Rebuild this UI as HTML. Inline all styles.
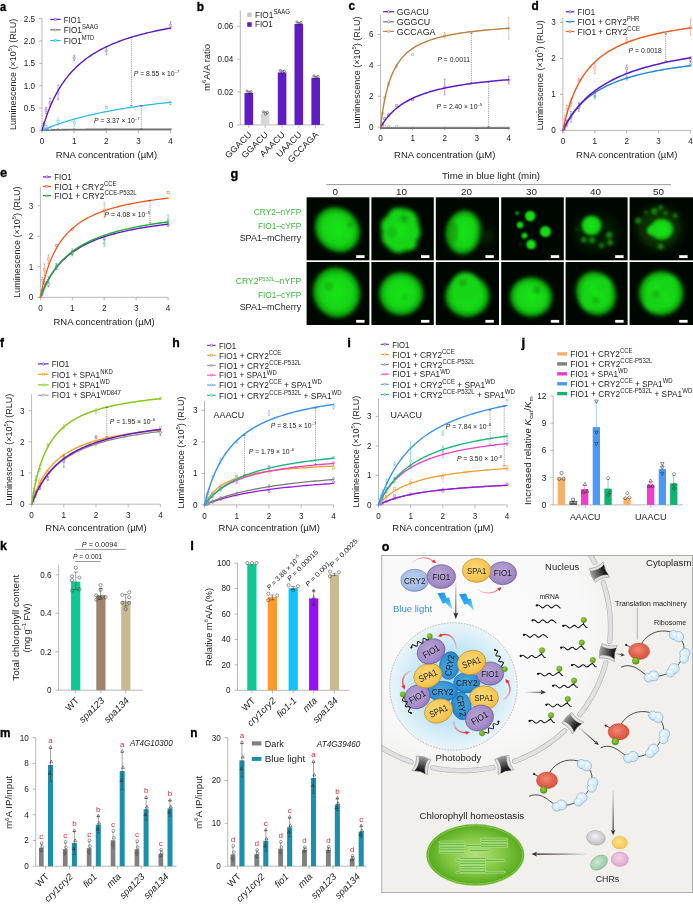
<!DOCTYPE html><html><head><meta charset="utf-8"><title>Figure</title><style>html,body{margin:0;padding:0;background:#fff}body{width:693px;height:905px;overflow:hidden}</style></head><body><svg width="693" height="905" viewBox="0 0 693 905" font-family='"Liberation Sans", sans-serif' style="display:block"><defs><filter id="bl1" x="-30%" y="-30%" width="160%" height="160%"><feGaussianBlur stdDeviation="2.0"/></filter><filter id="bl2" x="-50%" y="-50%" width="200%" height="200%"><feGaussianBlur stdDeviation="0.9"/></filter><filter id="bl3" x="-50%" y="-50%" width="200%" height="200%"><feGaussianBlur stdDeviation="4"/></filter><filter id="bl4" x="-50%" y="-50%" width="200%" height="200%"><feGaussianBlur stdDeviation="1.4"/></filter><radialGradient id="gb" cx="50%" cy="50%" r="50%"><stop offset="0" stop-color="#18e616"/><stop offset="0.7" stop-color="#12d412"/><stop offset="1" stop-color="#0d960c"/></radialGradient><clipPath id="tc00"><rect x="306.6" y="197.3" width="62.8" height="63.0"/></clipPath><clipPath id="tc01"><rect x="371.4" y="197.3" width="62.4" height="63.0"/></clipPath><clipPath id="tc02"><rect x="435.8" y="197.3" width="63.2" height="63.0"/></clipPath><clipPath id="tc03"><rect x="501.2" y="197.3" width="62.6" height="63.0"/></clipPath><clipPath id="tc04"><rect x="565.6" y="197.3" width="62.0" height="63.0"/></clipPath><clipPath id="tc05"><rect x="629.6" y="197.3" width="63.4" height="63.0"/></clipPath><clipPath id="tc10"><rect x="306.6" y="262.0" width="62.8" height="63.0"/></clipPath><clipPath id="tc11"><rect x="371.4" y="262.0" width="62.4" height="63.0"/></clipPath><clipPath id="tc12"><rect x="435.8" y="262.0" width="63.2" height="63.0"/></clipPath><clipPath id="tc13"><rect x="501.2" y="262.0" width="62.6" height="63.0"/></clipPath><clipPath id="tc14"><rect x="565.6" y="262.0" width="62.0" height="63.0"/></clipPath><clipPath id="tc15"><rect x="629.6" y="262.0" width="63.4" height="63.0"/></clipPath><clipPath id="obox"><rect x="381.8" y="555.5" width="310.8" height="337.20000000000005"/></clipPath><radialGradient id="nuc" cx="50%" cy="50%" r="50%"><stop offset="0" stop-color="#fbfbfb"/><stop offset="0.8" stop-color="#f8f8f8"/><stop offset="1" stop-color="#f3f3f2"/></radialGradient><linearGradient id="pore" x1="0" y1="0" x2="1" y2="0"><stop offset="0" stop-color="#9c9c9c"/><stop offset="0.55" stop-color="#4a4a4a"/><stop offset="1" stop-color="#080808"/></linearGradient><radialGradient id="gFIO" cx="45%" cy="40%" r="65%"><stop offset="0" stop-color="#b9a5d6"/><stop offset="0.7" stop-color="#a38bc8"/><stop offset="1" stop-color="#8e73b8"/></radialGradient><radialGradient id="gSPA" cx="45%" cy="40%" r="65%"><stop offset="0" stop-color="#fbd978"/><stop offset="0.7" stop-color="#f7c653"/><stop offset="1" stop-color="#eeb43c"/></radialGradient><radialGradient id="gCRYl" cx="45%" cy="40%" r="65%"><stop offset="0" stop-color="#bdd0ef"/><stop offset="0.7" stop-color="#a5bde6"/><stop offset="1" stop-color="#8ea9da"/></radialGradient><radialGradient id="gCRY" cx="45%" cy="40%" r="65%"><stop offset="0" stop-color="#4aa6e0"/><stop offset="0.7" stop-color="#2e8fd2"/><stop offset="1" stop-color="#1f78bd"/></radialGradient><linearGradient id="ra1" gradientUnits="userSpaceOnUse" x1="412" y1="562" x2="435" y2="562"><stop offset="0" stop-color="#f0323c" stop-opacity="0.15"/><stop offset="1" stop-color="#ee2a38"/></linearGradient><marker id="mra1" viewBox="0 0 6 6" refX="3" refY="3" markerUnits="userSpaceOnUse" markerWidth="4.2" markerHeight="4.2" orient="auto"><path d="M0,0.3 L6,3 L0,5.7 Z" fill="#ee2a38"/></marker><linearGradient id="ra2" gradientUnits="userSpaceOnUse" x1="477" y1="589" x2="500" y2="589"><stop offset="0" stop-color="#f0323c" stop-opacity="0.15"/><stop offset="1" stop-color="#ee2a38"/></linearGradient><marker id="mra2" viewBox="0 0 6 6" refX="3" refY="3" markerUnits="userSpaceOnUse" markerWidth="4.2" markerHeight="4.2" orient="auto"><path d="M0,0.3 L6,3 L0,5.7 Z" fill="#ee2a38"/></marker><linearGradient id="ga1" gradientUnits="userSpaceOnUse" x1="0" y1="582" x2="0" y2="616"><stop offset="0" stop-color="#3a3030" stop-opacity="0.1"/><stop offset="1" stop-color="#3a3030"/></linearGradient><linearGradient id="bolt" x1="0" y1="0" x2="1" y2="1"><stop offset="0" stop-color="#1d8fe8"/><stop offset="0.6" stop-color="#35b0f5"/><stop offset="1" stop-color="#9adcff"/></linearGradient><radialGradient id="pb" cx="50%" cy="50%" r="50%"><stop offset="0" stop-color="#a9dbf3"/><stop offset="0.6" stop-color="#c4e6f6"/><stop offset="1" stop-color="#eaf5fa"/></radialGradient><linearGradient id="ra3" gradientUnits="userSpaceOnUse" x1="456.7" y1="649" x2="439" y2="636"><stop offset="0" stop-color="#f0323c" stop-opacity="0.15"/><stop offset="1" stop-color="#ee2a38"/></linearGradient><marker id="mra3" viewBox="0 0 6 6" refX="3" refY="3" markerUnits="userSpaceOnUse" markerWidth="4.2" markerHeight="4.2" orient="auto"><path d="M0,0.3 L6,3 L0,5.7 Z" fill="#ee2a38"/></marker><linearGradient id="ra4" gradientUnits="userSpaceOnUse" x1="411" y1="670.6" x2="404" y2="688"><stop offset="0" stop-color="#f0323c" stop-opacity="0.15"/><stop offset="1" stop-color="#ee2a38"/></linearGradient><marker id="mra4" viewBox="0 0 6 6" refX="3" refY="3" markerUnits="userSpaceOnUse" markerWidth="4.2" markerHeight="4.2" orient="auto"><path d="M0,0.3 L6,3 L0,5.7 Z" fill="#ee2a38"/></marker><linearGradient id="ra5" gradientUnits="userSpaceOnUse" x1="503" y1="700" x2="506" y2="680"><stop offset="0" stop-color="#f0323c" stop-opacity="0.15"/><stop offset="1" stop-color="#ee2a38"/></linearGradient><marker id="mra5" viewBox="0 0 6 6" refX="3" refY="3" markerUnits="userSpaceOnUse" markerWidth="4.2" markerHeight="4.2" orient="auto"><path d="M0,0.3 L6,3 L0,5.7 Z" fill="#ee2a38"/></marker><linearGradient id="ra6" gradientUnits="userSpaceOnUse" x1="453.7" y1="721" x2="468" y2="733"><stop offset="0" stop-color="#f0323c" stop-opacity="0.15"/><stop offset="1" stop-color="#ee2a38"/></linearGradient><marker id="mra6" viewBox="0 0 6 6" refX="3" refY="3" markerUnits="userSpaceOnUse" markerWidth="4.2" markerHeight="4.2" orient="auto"><path d="M0,0.3 L6,3 L0,5.7 Z" fill="#ee2a38"/></marker><radialGradient id="m6a" cx="40%" cy="35%" r="65%"><stop offset="0" stop-color="#9ad03a"/><stop offset="1" stop-color="#5c9f14"/></radialGradient><linearGradient id="ga2" gradientUnits="userSpaceOnUse" x1="525.3" y1="692.2" x2="546.0" y2="692.2"><stop offset="0" stop-color="#3a3030" stop-opacity="0.08"/><stop offset="0.8" stop-color="#3a3030"/></linearGradient><radialGradient id="gRed" cx="45%" cy="40%" r="65%"><stop offset="0" stop-color="#f08a74"/><stop offset="0.6" stop-color="#e2604c"/><stop offset="1" stop-color="#d44a3a"/></radialGradient><radialGradient id="gRib" cx="40%" cy="40%" r="70%"><stop offset="0" stop-color="#f4faff"/><stop offset="1" stop-color="#c6e0f5"/></radialGradient><linearGradient id="ga3" gradientUnits="userSpaceOnUse" x1="615.5" y1="653.6" x2="624.8" y2="655.3"><stop offset="0" stop-color="#3a3030" stop-opacity="0.08"/><stop offset="0.8" stop-color="#3a3030"/></linearGradient><linearGradient id="ga4" gradientUnits="userSpaceOnUse" x1="578.7" y1="727.4" x2="598.8" y2="745.0"><stop offset="0" stop-color="#3a3030" stop-opacity="0.08"/><stop offset="0.8" stop-color="#3a3030"/></linearGradient><linearGradient id="ga5" gradientUnits="userSpaceOnUse" x1="613.1" y1="790" x2="613.1" y2="835.2"><stop offset="0" stop-color="#3a3030" stop-opacity="0.08"/><stop offset="0.8" stop-color="#3a3030"/></linearGradient><linearGradient id="ga6" gradientUnits="userSpaceOnUse" x1="586.5" y1="854.1" x2="531.5" y2="854.1"><stop offset="0" stop-color="#3a3030" stop-opacity="0.08"/><stop offset="0.8" stop-color="#3a3030"/></linearGradient><radialGradient id="gGy" cx="45%" cy="40%" r="65%"><stop offset="0" stop-color="#f2f2f2"/><stop offset="1" stop-color="#b9b9b9"/></radialGradient><radialGradient id="gYl" cx="45%" cy="40%" r="65%"><stop offset="0" stop-color="#fde08a"/><stop offset="1" stop-color="#f6c24e"/></radialGradient><radialGradient id="gGn" cx="45%" cy="40%" r="65%"><stop offset="0" stop-color="#cfe8d4"/><stop offset="1" stop-color="#8cc49c"/></radialGradient><radialGradient id="gPk" cx="45%" cy="40%" r="65%"><stop offset="0" stop-color="#f3d2ea"/><stop offset="1" stop-color="#dda2cf"/></radialGradient><radialGradient id="gChl" cx="50%" cy="50%" r="50%"><stop offset="0" stop-color="#b4e07c"/><stop offset="0.55" stop-color="#86c945"/><stop offset="1" stop-color="#55a81c"/></radialGradient></defs><rect x="0.00" y="0.00" width="693.00" height="905.00" fill="#ffffff"/>
<text transform="translate(0.00 10.50) scale(0.8400 1)" font-size="13.2" fill="#000" font-weight="bold" stroke="#000" stroke-width="0.35">a</text>
<line x1="42.00" y1="18.60" x2="42.00" y2="130.40" stroke="#8a8a8a" stroke-width="0.6"/>
<line x1="42.00" y1="130.40" x2="170.60" y2="130.40" stroke="#8a8a8a" stroke-width="0.6"/>
<line x1="39.00" y1="130.40" x2="42.00" y2="130.40" stroke="#8a8a8a" stroke-width="0.6"/>
<text transform="translate(35.00 133.30)" font-size="8.15" fill="#222222" text-anchor="end">0</text>
<line x1="39.00" y1="108.05" x2="42.00" y2="108.05" stroke="#8a8a8a" stroke-width="0.6"/>
<text transform="translate(35.00 110.95)" font-size="8.15" fill="#222222" text-anchor="end">0.5</text>
<line x1="39.00" y1="85.70" x2="42.00" y2="85.70" stroke="#8a8a8a" stroke-width="0.6"/>
<text transform="translate(35.00 88.60)" font-size="8.15" fill="#222222" text-anchor="end">1.0</text>
<line x1="39.00" y1="63.35" x2="42.00" y2="63.35" stroke="#8a8a8a" stroke-width="0.6"/>
<text transform="translate(35.00 66.25)" font-size="8.15" fill="#222222" text-anchor="end">1.5</text>
<line x1="39.00" y1="41.00" x2="42.00" y2="41.00" stroke="#8a8a8a" stroke-width="0.6"/>
<text transform="translate(35.00 43.90)" font-size="8.15" fill="#222222" text-anchor="end">2.0</text>
<line x1="39.00" y1="18.65" x2="42.00" y2="18.65" stroke="#8a8a8a" stroke-width="0.6"/>
<text transform="translate(35.00 21.55)" font-size="8.15" fill="#222222" text-anchor="end">2.5</text>
<line x1="42.00" y1="130.40" x2="42.00" y2="133.40" stroke="#8a8a8a" stroke-width="0.6"/>
<text transform="translate(42.00 144.00)" font-size="8.15" fill="#222222" text-anchor="middle">0</text>
<line x1="74.15" y1="130.40" x2="74.15" y2="133.40" stroke="#8a8a8a" stroke-width="0.6"/>
<text transform="translate(74.15 144.00)" font-size="8.15" fill="#222222" text-anchor="middle">1</text>
<line x1="106.30" y1="130.40" x2="106.30" y2="133.40" stroke="#8a8a8a" stroke-width="0.6"/>
<text transform="translate(106.30 144.00)" font-size="8.15" fill="#222222" text-anchor="middle">2</text>
<line x1="138.45" y1="130.40" x2="138.45" y2="133.40" stroke="#8a8a8a" stroke-width="0.6"/>
<text transform="translate(138.45 144.00)" font-size="8.15" fill="#222222" text-anchor="middle">3</text>
<line x1="170.60" y1="130.40" x2="170.60" y2="133.40" stroke="#8a8a8a" stroke-width="0.6"/>
<text transform="translate(170.60 144.00)" font-size="8.15" fill="#222222" text-anchor="middle">4</text>
<text transform="translate(15.80 74.30) rotate(-90) scale(0.9465 1)" font-size="9.5" fill="#222222" text-anchor="middle">Luminescence (×10<tspan font-size="6.08" dy="-3.99">5</tspan><tspan dy="3.99">) (RLU)</tspan></text>
<text transform="translate(106.50 157.70) scale(0.9984 1)" font-size="9.5" fill="#222222" text-anchor="middle">RNA concentration (µM)</text>
<circle cx="44.01" cy="129.51" r="1.20" fill="#fff" stroke="#898989" stroke-width="0.5" fill-opacity="0.75"/>
<circle cx="46.02" cy="129.51" r="1.20" fill="#fff" stroke="#898989" stroke-width="0.5" fill-opacity="0.75"/>
<circle cx="50.04" cy="129.51" r="1.20" fill="#fff" stroke="#898989" stroke-width="0.5" fill-opacity="0.75"/>
<circle cx="58.08" cy="129.51" r="1.20" fill="#fff" stroke="#898989" stroke-width="0.5" fill-opacity="0.75"/>
<circle cx="74.15" cy="129.51" r="1.20" fill="#fff" stroke="#898989" stroke-width="0.5" fill-opacity="0.75"/>
<circle cx="106.30" cy="129.51" r="1.20" fill="#fff" stroke="#898989" stroke-width="0.5" fill-opacity="0.75"/>
<circle cx="170.60" cy="129.51" r="1.20" fill="#fff" stroke="#898989" stroke-width="0.5" fill-opacity="0.75"/>
<path d="M42.00,130.40 L42.12,130.39 L42.35,130.37 L42.67,130.35 L43.07,130.32 L43.52,130.28 L44.04,130.25 L44.61,130.21 L45.23,130.18 L45.90,130.14 L46.62,130.10 L47.38,130.06 L48.18,130.03 L49.02,129.99 L49.91,129.96 L50.83,129.92 L51.79,129.89 L52.79,129.86 L53.82,129.83 L54.89,129.80 L55.99,129.78 L57.13,129.75 L58.30,129.72 L59.50,129.70 L60.73,129.68 L62.00,129.66 L63.29,129.64 L64.62,129.62 L65.97,129.60 L67.36,129.58 L68.77,129.56 L70.21,129.55 L71.68,129.53 L73.18,129.52 L74.71,129.50 L76.26,129.49 L77.84,129.47 L79.45,129.46 L81.08,129.45 L82.74,129.44 L84.42,129.43 L86.13,129.42 L87.87,129.41 L89.63,129.40 L91.41,129.39 L93.22,129.38 L95.05,129.37 L96.91,129.36 L98.79,129.35 L100.70,129.35 L102.62,129.34 L104.58,129.33 L106.55,129.33 L108.55,129.32 L110.57,129.31 L112.61,129.31 L114.68,129.30 L116.76,129.30 L118.87,129.29 L121.01,129.29 L123.16,129.28 L125.33,129.28 L127.53,129.27 L129.75,129.27 L131.99,129.26 L134.25,129.26 L136.53,129.25 L138.83,129.25 L141.15,129.25 L143.50,129.24 L145.86,129.24 L148.25,129.24 L150.65,129.23 L153.07,129.23 L155.52,129.23 L157.98,129.22 L160.47,129.22 L162.97,129.22 L165.49,129.21 L168.04,129.21 L170.60,129.21" fill="none" stroke="#707070" stroke-width="1.6" stroke-linejoin="round" stroke-linecap="round"/>
<path d="M44.0,128.6V129.5M43.0,128.6h2M43.0,129.5h2" stroke="#51c2f1" stroke-width="0.5" fill="none"/>
<rect x="42.91" y="127.95" width="2.21" height="2.21" fill="#fff" stroke="#51c2f1" stroke-width="0.5" fill-opacity="0.75"/>
<path d="M46.0,125.9V127.7M45.0,125.9h2M45.0,127.7h2" stroke="#51c2f1" stroke-width="0.5" fill="none"/>
<rect x="44.91" y="125.72" width="2.21" height="2.21" fill="#fff" stroke="#51c2f1" stroke-width="0.5" fill-opacity="0.75"/>
<path d="M50.0,127.7V129.5M49.0,127.7h2M49.0,129.5h2" stroke="#51c2f1" stroke-width="0.5" fill="none"/>
<rect x="48.93" y="127.51" width="2.21" height="2.21" fill="#fff" stroke="#51c2f1" stroke-width="0.5" fill-opacity="0.75"/>
<path d="M58.1,117.9V125.0M57.1,117.9h2M57.1,125.0h2" stroke="#51c2f1" stroke-width="0.5" fill="none"/>
<rect x="56.97" y="120.36" width="2.21" height="2.21" fill="#fff" stroke="#51c2f1" stroke-width="0.5" fill-opacity="0.75"/>
<path d="M74.2,118.8V126.8M73.2,118.8h2M73.2,126.8h2" stroke="#51c2f1" stroke-width="0.5" fill="none"/>
<rect x="73.05" y="121.70" width="2.21" height="2.21" fill="#fff" stroke="#51c2f1" stroke-width="0.5" fill-opacity="0.75"/>
<path d="M106.3,106.7V108.5M105.3,106.7h2M105.3,108.5h2" stroke="#51c2f1" stroke-width="0.5" fill="none"/>
<rect x="105.20" y="106.50" width="2.21" height="2.21" fill="#fff" stroke="#51c2f1" stroke-width="0.5" fill-opacity="0.75"/>
<path d="M170.6,101.8V104.5M169.6,101.8h2M169.6,104.5h2" stroke="#51c2f1" stroke-width="0.5" fill="none"/>
<rect x="169.50" y="102.03" width="2.21" height="2.21" fill="#fff" stroke="#51c2f1" stroke-width="0.5" fill-opacity="0.75"/>
<path d="M42.00,130.40 L42.12,130.35 L42.35,130.25 L42.67,130.11 L43.07,129.94 L43.52,129.74 L44.04,129.52 L44.61,129.28 L45.23,129.02 L45.90,128.74 L46.62,128.45 L47.38,128.14 L48.18,127.82 L49.02,127.48 L49.91,127.14 L50.83,126.78 L51.79,126.41 L52.79,126.04 L53.82,125.66 L54.89,125.27 L55.99,124.87 L57.13,124.47 L58.30,124.06 L59.50,123.65 L60.73,123.24 L62.00,122.82 L63.29,122.40 L64.62,121.98 L65.97,121.55 L67.36,121.12 L68.77,120.70 L70.21,120.27 L71.68,119.84 L73.18,119.41 L74.71,118.98 L76.26,118.55 L77.84,118.12 L79.45,117.70 L81.08,117.27 L82.74,116.85 L84.42,116.43 L86.13,116.01 L87.87,115.59 L89.63,115.18 L91.41,114.77 L93.22,114.36 L95.05,113.95 L96.91,113.55 L98.79,113.15 L100.70,112.75 L102.62,112.36 L104.58,111.96 L106.55,111.58 L108.55,111.19 L110.57,110.81 L112.61,110.44 L114.68,110.06 L116.76,109.69 L118.87,109.33 L121.01,108.97 L123.16,108.61 L125.33,108.25 L127.53,107.90 L129.75,107.56 L131.99,107.21 L134.25,106.87 L136.53,106.54 L138.83,106.21 L141.15,105.88 L143.50,105.56 L145.86,105.24 L148.25,104.92 L150.65,104.61 L153.07,104.30 L155.52,103.99 L157.98,103.69 L160.47,103.39 L162.97,103.10 L165.49,102.81 L168.04,102.52 L170.60,102.24" fill="none" stroke="#2bb5ee" stroke-width="1.25" stroke-linejoin="round" stroke-linecap="round"/>
<path d="M44.0,122.4V125.0M43.0,122.4h2M43.0,125.0h2" stroke="#7b44ce" stroke-width="0.5" fill="none"/>
<circle cx="44.01" cy="123.70" r="1.20" fill="#fff" stroke="#7b44ce" stroke-width="0.5" fill-opacity="0.75"/>
<path d="M46.0,107.2V113.4M45.0,107.2h2M45.0,113.4h2" stroke="#7b44ce" stroke-width="0.5" fill="none"/>
<circle cx="46.02" cy="110.28" r="1.20" fill="#fff" stroke="#7b44ce" stroke-width="0.5" fill-opacity="0.75"/>
<path d="M50.0,98.2V107.2M49.0,98.2h2M49.0,107.2h2" stroke="#7b44ce" stroke-width="0.5" fill="none"/>
<circle cx="50.04" cy="102.69" r="1.20" fill="#fff" stroke="#7b44ce" stroke-width="0.5" fill-opacity="0.75"/>
<path d="M58.1,85.3V99.6M57.1,85.3h2M57.1,99.6h2" stroke="#7b44ce" stroke-width="0.5" fill="none"/>
<circle cx="58.08" cy="92.41" r="1.20" fill="#fff" stroke="#7b44ce" stroke-width="0.5" fill-opacity="0.75"/>
<path d="M74.2,55.3V60.7M73.2,55.3h2M73.2,60.7h2" stroke="#7b44ce" stroke-width="0.5" fill="none"/>
<circle cx="74.15" cy="57.99" r="1.20" fill="#fff" stroke="#7b44ce" stroke-width="0.5" fill-opacity="0.75"/>
<path d="M106.3,46.8V54.9M105.3,46.8h2M105.3,54.9h2" stroke="#7b44ce" stroke-width="0.5" fill="none"/>
<circle cx="106.30" cy="50.83" r="1.20" fill="#fff" stroke="#7b44ce" stroke-width="0.5" fill-opacity="0.75"/>
<path d="M170.6,21.8V28.9M169.6,21.8h2M169.6,28.9h2" stroke="#7b44ce" stroke-width="0.5" fill="none"/>
<circle cx="170.60" cy="25.35" r="1.20" fill="#fff" stroke="#7b44ce" stroke-width="0.5" fill-opacity="0.75"/>
<path d="M42.00,130.40 L42.12,129.99 L42.35,129.16 L42.67,128.05 L43.07,126.72 L43.52,125.21 L44.04,123.54 L44.61,121.74 L45.23,119.85 L45.90,117.87 L46.62,115.82 L47.38,113.72 L48.18,111.59 L49.02,109.42 L49.91,107.25 L50.83,105.06 L51.79,102.88 L52.79,100.71 L53.82,98.55 L54.89,96.42 L55.99,94.31 L57.13,92.23 L58.30,90.18 L59.50,88.16 L60.73,86.18 L62.00,84.24 L63.29,82.34 L64.62,80.48 L65.97,78.67 L67.36,76.89 L68.77,75.16 L70.21,73.47 L71.68,71.82 L73.18,70.21 L74.71,68.64 L76.26,67.12 L77.84,65.63 L79.45,64.19 L81.08,62.78 L82.74,61.42 L84.42,60.08 L86.13,58.79 L87.87,57.53 L89.63,56.31 L91.41,55.11 L93.22,53.96 L95.05,52.83 L96.91,51.73 L98.79,50.67 L100.70,49.63 L102.62,48.62 L104.58,47.64 L106.55,46.69 L108.55,45.76 L110.57,44.86 L112.61,43.98 L114.68,43.13 L116.76,42.29 L118.87,41.48 L121.01,40.70 L123.16,39.93 L125.33,39.18 L127.53,38.45 L129.75,37.74 L131.99,37.05 L134.25,36.38 L136.53,35.73 L138.83,35.09 L141.15,34.46 L143.50,33.86 L145.86,33.26 L148.25,32.69 L150.65,32.12 L153.07,31.57 L155.52,31.04 L157.98,30.51 L160.47,30.00 L162.97,29.51 L165.49,29.02 L168.04,28.54 L170.60,28.08" fill="none" stroke="#5f1cc4" stroke-width="1.4" stroke-linejoin="round" stroke-linecap="round"/>
<line x1="50.20" y1="19.40" x2="60.60" y2="19.40" stroke="#5f1cc4" stroke-width="1.2"/>
<circle cx="55.40" cy="19.40" r="1.20" fill="#fff" stroke="#5f1cc4" stroke-width="0.5" fill-opacity="0.75"/>
<text transform="translate(63.70 22.60) scale(0.8369 1)" font-size="9.3" fill="#222222">FIO1</text>
<line x1="50.20" y1="29.80" x2="60.60" y2="29.80" stroke="#707070" stroke-width="1.2"/>
<circle cx="55.40" cy="29.80" r="1.20" fill="#fff" stroke="#707070" stroke-width="0.5" fill-opacity="0.75"/>
<text transform="translate(63.70 33.00) scale(0.8806 1)" font-size="9.3" fill="#222222">FIO1<tspan font-size="6.70" dy="-3.90">SAAG</tspan></text>
<line x1="50.20" y1="40.60" x2="60.60" y2="40.60" stroke="#2bb5ee" stroke-width="1.2"/>
<rect x="54.30" y="39.50" width="2.21" height="2.21" fill="#fff" stroke="#2bb5ee" stroke-width="0.5" fill-opacity="0.75"/>
<text transform="translate(63.70 43.80) scale(0.8697 1)" font-size="9.3" fill="#222222">FIO1<tspan font-size="6.70" dy="-3.90">MTD</tspan></text>
<line x1="131.40" y1="37.10" x2="131.40" y2="105.70" stroke="#444" stroke-width="0.5" stroke-dasharray="1.2 1"/>
<line x1="130.10" y1="37.10" x2="132.70" y2="37.10" stroke="#444" stroke-width="0.6"/>
<line x1="130.10" y1="105.70" x2="132.70" y2="105.70" stroke="#444" stroke-width="0.6"/>
<line x1="141.30" y1="105.70" x2="141.30" y2="129.20" stroke="#444" stroke-width="0.5" stroke-dasharray="1.2 1"/>
<line x1="140.00" y1="105.70" x2="142.60" y2="105.70" stroke="#444" stroke-width="0.6"/>
<line x1="140.00" y1="129.20" x2="142.60" y2="129.20" stroke="#444" stroke-width="0.6"/>
<text transform="translate(133.80 75.80)" font-size="6.8" fill="#222222"><tspan font-style="italic" dy="-0.00">P</tspan> = 8.55 × 10<tspan font-size="4.20" dy="-3.20">–7</tspan></text>
<text transform="translate(94.00 122.70)" font-size="6.8" fill="#222222"><tspan font-style="italic" dy="-0.00">P</tspan> = 3.37 × 10<tspan font-size="4.20" dy="-3.20">–7</tspan></text>
<text transform="translate(196.80 10.50) scale(0.9000 1)" font-size="13.2" fill="#000" font-weight="bold" stroke="#000" stroke-width="0.35">b</text>
<line x1="240.30" y1="10.40" x2="240.30" y2="124.90" stroke="#8a8a8a" stroke-width="0.6"/>
<line x1="240.30" y1="124.90" x2="324.50" y2="124.90" stroke="#8a8a8a" stroke-width="0.6"/>
<line x1="237.30" y1="124.90" x2="240.30" y2="124.90" stroke="#8a8a8a" stroke-width="0.6"/>
<text transform="translate(233.30 127.80)" font-size="8.15" fill="#222222" text-anchor="end">0</text>
<line x1="237.30" y1="92.00" x2="240.30" y2="92.00" stroke="#8a8a8a" stroke-width="0.6"/>
<text transform="translate(233.30 94.90)" font-size="8.15" fill="#222222" text-anchor="end">0.02</text>
<line x1="237.30" y1="59.10" x2="240.30" y2="59.10" stroke="#8a8a8a" stroke-width="0.6"/>
<text transform="translate(233.30 62.00)" font-size="8.15" fill="#222222" text-anchor="end">0.04</text>
<line x1="237.30" y1="26.20" x2="240.30" y2="26.20" stroke="#8a8a8a" stroke-width="0.6"/>
<text transform="translate(233.30 29.10)" font-size="8.15" fill="#222222" text-anchor="end">0.06</text>
<rect x="244.50" y="92.99" width="8.60" height="31.91" fill="#5f1cc4"/>
<line x1="248.80" y1="124.90" x2="248.80" y2="127.90" stroke="#8a8a8a" stroke-width="0.6"/>
<text transform="translate(252.20 135.20) rotate(-45) scale(1.0600 1)" font-size="8.6" fill="#222222" text-anchor="end">GGACU</text>
<circle cx="247.00" cy="91.07" r="1.15" fill="none" stroke="#222" stroke-width="0.5"/>
<circle cx="249.10" cy="93.37" r="1.15" fill="none" stroke="#222" stroke-width="0.5"/>
<circle cx="251.00" cy="91.73" r="1.15" fill="none" stroke="#222" stroke-width="0.5"/>
<line x1="246.80" y1="91.39" x2="250.80" y2="91.39" stroke="#222" stroke-width="0.45"/>
<rect x="260.90" y="113.71" width="8.60" height="11.19" fill="#d6d6d6"/>
<line x1="265.20" y1="124.90" x2="265.20" y2="127.90" stroke="#8a8a8a" stroke-width="0.6"/>
<text transform="translate(268.60 135.20) rotate(-45) scale(1.0600 1)" font-size="8.6" fill="#222222" text-anchor="end">GGACU</text>
<circle cx="263.40" cy="111.80" r="1.15" fill="none" stroke="#222" stroke-width="0.5"/>
<circle cx="265.50" cy="114.10" r="1.15" fill="none" stroke="#222" stroke-width="0.5"/>
<circle cx="267.40" cy="112.46" r="1.15" fill="none" stroke="#222" stroke-width="0.5"/>
<line x1="263.20" y1="112.11" x2="267.20" y2="112.11" stroke="#222" stroke-width="0.45"/>
<rect x="277.80" y="72.42" width="8.60" height="52.48" fill="#5f1cc4"/>
<line x1="282.10" y1="124.90" x2="282.10" y2="127.90" stroke="#8a8a8a" stroke-width="0.6"/>
<text transform="translate(285.50 135.20) rotate(-45) scale(1.0600 1)" font-size="8.6" fill="#222222" text-anchor="end">AAACU</text>
<circle cx="280.30" cy="70.51" r="1.15" fill="none" stroke="#222" stroke-width="0.5"/>
<circle cx="282.40" cy="72.81" r="1.15" fill="none" stroke="#222" stroke-width="0.5"/>
<circle cx="284.30" cy="71.17" r="1.15" fill="none" stroke="#222" stroke-width="0.5"/>
<line x1="280.10" y1="70.82" x2="284.10" y2="70.82" stroke="#222" stroke-width="0.45"/>
<rect x="294.50" y="23.90" width="8.60" height="101.00" fill="#5f1cc4"/>
<line x1="298.80" y1="124.90" x2="298.80" y2="127.90" stroke="#8a8a8a" stroke-width="0.6"/>
<text transform="translate(302.20 135.20) rotate(-45) scale(1.0600 1)" font-size="8.6" fill="#222222" text-anchor="end">UAACU</text>
<circle cx="297.00" cy="21.98" r="1.15" fill="none" stroke="#222" stroke-width="0.5"/>
<circle cx="299.10" cy="24.28" r="1.15" fill="none" stroke="#222" stroke-width="0.5"/>
<circle cx="301.00" cy="22.64" r="1.15" fill="none" stroke="#222" stroke-width="0.5"/>
<line x1="296.80" y1="22.30" x2="300.80" y2="22.30" stroke="#222" stroke-width="0.45"/>
<rect x="311.40" y="77.85" width="8.60" height="47.05" fill="#5f1cc4"/>
<line x1="315.70" y1="124.90" x2="315.70" y2="127.90" stroke="#8a8a8a" stroke-width="0.6"/>
<text transform="translate(319.10 135.20) rotate(-45) scale(1.0600 1)" font-size="8.6" fill="#222222" text-anchor="end">GCCAGA</text>
<circle cx="313.90" cy="75.94" r="1.15" fill="none" stroke="#222" stroke-width="0.5"/>
<circle cx="316.00" cy="78.24" r="1.15" fill="none" stroke="#222" stroke-width="0.5"/>
<circle cx="317.90" cy="76.60" r="1.15" fill="none" stroke="#222" stroke-width="0.5"/>
<line x1="313.70" y1="76.25" x2="317.70" y2="76.25" stroke="#222" stroke-width="0.45"/>
<rect x="247.20" y="12.50" width="4.50" height="4.70" fill="#c9c9c9"/>
<rect x="247.20" y="22.20" width="4.50" height="4.60" fill="#5f1cc4"/>
<text transform="translate(255.00 18.20) scale(0.8908 1)" font-size="9.3" fill="#222222">FIO1<tspan font-size="6.70" dy="-3.90">SAAG</tspan></text>
<text transform="translate(255.00 26.90) scale(0.8611 1)" font-size="9.3" fill="#222222">FIO1</text>
<text transform="translate(209.50 67.50) rotate(-90)" font-size="9.5" fill="#222222" text-anchor="middle">m<tspan font-size="6.08" dy="-3.99">6</tspan><tspan dy="3.99">A/A ratio</tspan></text>
<text transform="translate(348.60 10.40) scale(0.9000 1)" font-size="13.2" fill="#000" font-weight="bold" stroke="#000" stroke-width="0.35">c</text>
<line x1="380.60" y1="15.00" x2="380.60" y2="127.20" stroke="#8a8a8a" stroke-width="0.6"/>
<line x1="380.60" y1="127.20" x2="508.80" y2="127.20" stroke="#8a8a8a" stroke-width="0.6"/>
<line x1="377.60" y1="127.20" x2="380.60" y2="127.20" stroke="#8a8a8a" stroke-width="0.6"/>
<text transform="translate(373.60 130.10)" font-size="8.15" fill="#222222" text-anchor="end">0</text>
<line x1="377.60" y1="96.28" x2="380.60" y2="96.28" stroke="#8a8a8a" stroke-width="0.6"/>
<text transform="translate(373.60 99.18)" font-size="8.15" fill="#222222" text-anchor="end">2</text>
<line x1="377.60" y1="65.36" x2="380.60" y2="65.36" stroke="#8a8a8a" stroke-width="0.6"/>
<text transform="translate(373.60 68.26)" font-size="8.15" fill="#222222" text-anchor="end">4</text>
<line x1="377.60" y1="34.44" x2="380.60" y2="34.44" stroke="#8a8a8a" stroke-width="0.6"/>
<text transform="translate(373.60 37.34)" font-size="8.15" fill="#222222" text-anchor="end">6</text>
<line x1="380.60" y1="127.20" x2="380.60" y2="130.20" stroke="#8a8a8a" stroke-width="0.6"/>
<text transform="translate(380.60 140.80)" font-size="8.15" fill="#222222" text-anchor="middle">0</text>
<line x1="412.65" y1="127.20" x2="412.65" y2="130.20" stroke="#8a8a8a" stroke-width="0.6"/>
<text transform="translate(412.65 140.80)" font-size="8.15" fill="#222222" text-anchor="middle">1</text>
<line x1="444.70" y1="127.20" x2="444.70" y2="130.20" stroke="#8a8a8a" stroke-width="0.6"/>
<text transform="translate(444.70 140.80)" font-size="8.15" fill="#222222" text-anchor="middle">2</text>
<line x1="476.75" y1="127.20" x2="476.75" y2="130.20" stroke="#8a8a8a" stroke-width="0.6"/>
<text transform="translate(476.75 140.80)" font-size="8.15" fill="#222222" text-anchor="middle">3</text>
<line x1="508.80" y1="127.20" x2="508.80" y2="130.20" stroke="#8a8a8a" stroke-width="0.6"/>
<text transform="translate(508.80 140.80)" font-size="8.15" fill="#222222" text-anchor="middle">4</text>
<text transform="translate(360.10 72.50) rotate(-90) scale(0.9516 1)" font-size="9.5" fill="#222222" text-anchor="middle">Luminescence (×10<tspan font-size="6.08" dy="-3.99">5</tspan><tspan dy="3.99">) (RLU)</tspan></text>
<text transform="translate(444.70 157.70) scale(0.9984 1)" font-size="9.5" fill="#222222" text-anchor="middle">RNA concentration (µM)</text>
<circle cx="382.60" cy="126.43" r="1.20" fill="#fff" stroke="#898989" stroke-width="0.5" fill-opacity="0.75"/>
<circle cx="384.61" cy="126.43" r="1.20" fill="#fff" stroke="#898989" stroke-width="0.5" fill-opacity="0.75"/>
<circle cx="388.61" cy="126.43" r="1.20" fill="#fff" stroke="#898989" stroke-width="0.5" fill-opacity="0.75"/>
<circle cx="396.62" cy="126.43" r="1.20" fill="#fff" stroke="#898989" stroke-width="0.5" fill-opacity="0.75"/>
<circle cx="412.65" cy="127.97" r="1.20" fill="#fff" stroke="#898989" stroke-width="0.5" fill-opacity="0.75"/>
<circle cx="444.70" cy="127.97" r="1.20" fill="#fff" stroke="#898989" stroke-width="0.5" fill-opacity="0.75"/>
<circle cx="508.80" cy="127.97" r="1.20" fill="#fff" stroke="#898989" stroke-width="0.5" fill-opacity="0.75"/>
<path d="M380.60,128.13 L380.72,128.13 L380.95,128.13 L381.27,128.13 L381.66,128.13 L382.12,128.13 L382.63,128.13 L383.20,128.13 L383.82,128.13 L384.49,128.13 L385.20,128.13 L385.96,128.13 L386.76,128.13 L387.60,128.13 L388.48,128.13 L389.40,128.13 L390.36,128.13 L391.36,128.13 L392.39,128.13 L393.45,128.13 L394.55,128.13 L395.68,128.13 L396.85,128.13 L398.05,128.13 L399.28,128.13 L400.54,128.13 L401.83,128.13 L403.15,128.13 L404.50,128.13 L405.88,128.13 L407.29,128.13 L408.73,128.13 L410.19,128.13 L411.69,128.13 L413.21,128.13 L414.75,128.13 L416.33,128.13 L417.93,128.13 L419.56,128.13 L421.21,128.13 L422.89,128.13 L424.59,128.13 L426.32,128.13 L428.08,128.13 L429.86,128.13 L431.66,128.13 L433.49,128.13 L435.34,128.13 L437.21,128.13 L439.11,128.13 L441.04,128.13 L442.98,128.13 L444.95,128.13 L446.94,128.13 L448.96,128.13 L450.99,128.13 L453.05,128.13 L455.13,128.13 L457.24,128.13 L459.36,128.13 L461.51,128.13 L463.68,128.13 L465.86,128.13 L468.08,128.13 L470.31,128.13 L472.56,128.13 L474.84,128.13 L477.13,128.13 L479.45,128.13 L481.78,128.13 L484.14,128.13 L486.51,128.13 L488.91,128.13 L491.33,128.13 L493.77,128.13 L496.22,128.13 L498.70,128.13 L501.19,128.13 L503.71,128.13 L506.25,128.13 L508.80,128.13" fill="none" stroke="#707070" stroke-width="1.6" stroke-linejoin="round" stroke-linecap="round"/>
<path d="M382.6,123.6V124.6M381.6,123.6h2M381.6,124.6h2" stroke="#7b44ce" stroke-width="0.5" fill="none"/>
<circle cx="382.60" cy="124.11" r="1.20" fill="#fff" stroke="#7b44ce" stroke-width="0.5" fill-opacity="0.75"/>
<path d="M384.6,117.9V119.5M383.6,117.9h2M383.6,119.5h2" stroke="#7b44ce" stroke-width="0.5" fill="none"/>
<circle cx="384.61" cy="118.70" r="1.20" fill="#fff" stroke="#7b44ce" stroke-width="0.5" fill-opacity="0.75"/>
<path d="M388.6,113.9V116.4M387.6,113.9h2M387.6,116.4h2" stroke="#7b44ce" stroke-width="0.5" fill="none"/>
<circle cx="388.61" cy="115.14" r="1.20" fill="#fff" stroke="#7b44ce" stroke-width="0.5" fill-opacity="0.75"/>
<path d="M396.6,104.8V106.3M395.6,104.8h2M395.6,106.3h2" stroke="#7b44ce" stroke-width="0.5" fill="none"/>
<circle cx="396.62" cy="105.56" r="1.20" fill="#fff" stroke="#7b44ce" stroke-width="0.5" fill-opacity="0.75"/>
<path d="M412.7,98.9V100.5M411.7,98.9h2M411.7,100.5h2" stroke="#7b44ce" stroke-width="0.5" fill="none"/>
<circle cx="412.65" cy="99.68" r="1.20" fill="#fff" stroke="#7b44ce" stroke-width="0.5" fill-opacity="0.75"/>
<path d="M444.7,79.3V94.7M443.7,79.3h2M443.7,94.7h2" stroke="#7b44ce" stroke-width="0.5" fill="none"/>
<circle cx="444.70" cy="87.00" r="1.20" fill="#fff" stroke="#7b44ce" stroke-width="0.5" fill-opacity="0.75"/>
<path d="M508.8,76.2V83.9M507.8,76.2h2M507.8,83.9h2" stroke="#7b44ce" stroke-width="0.5" fill="none"/>
<circle cx="508.80" cy="80.05" r="1.20" fill="#fff" stroke="#7b44ce" stroke-width="0.5" fill-opacity="0.75"/>
<path d="M380.60,127.20 L380.72,127.00 L380.95,126.60 L381.27,126.06 L381.66,125.41 L382.12,124.68 L382.63,123.87 L383.20,123.01 L383.82,122.09 L384.49,121.14 L385.20,120.16 L385.96,119.15 L386.76,118.13 L387.60,117.10 L388.48,116.06 L389.40,115.02 L390.36,113.99 L391.36,112.96 L392.39,111.94 L393.45,110.93 L394.55,109.94 L395.68,108.96 L396.85,108.00 L398.05,107.05 L399.28,106.13 L400.54,105.22 L401.83,104.34 L403.15,103.47 L404.50,102.63 L405.88,101.81 L407.29,101.01 L408.73,100.22 L410.19,99.46 L411.69,98.72 L413.21,98.00 L414.75,97.30 L416.33,96.62 L417.93,95.96 L419.56,95.32 L421.21,94.69 L422.89,94.08 L424.59,93.49 L426.32,92.92 L428.08,92.36 L429.86,91.82 L431.66,91.29 L433.49,90.78 L435.34,90.29 L437.21,89.81 L439.11,89.34 L441.04,88.88 L442.98,88.44 L444.95,88.01 L446.94,87.59 L448.96,87.18 L450.99,86.79 L453.05,86.40 L455.13,86.03 L457.24,85.67 L459.36,85.31 L461.51,84.97 L463.68,84.63 L465.86,84.31 L468.08,83.99 L470.31,83.68 L472.56,83.38 L474.84,83.09 L477.13,82.80 L479.45,82.53 L481.78,82.26 L484.14,81.99 L486.51,81.73 L488.91,81.48 L491.33,81.24 L493.77,81.00 L496.22,80.77 L498.70,80.54 L501.19,80.32 L503.71,80.10 L506.25,79.89 L508.80,79.69" fill="none" stroke="#5f1cc4" stroke-width="1.5" stroke-linejoin="round" stroke-linecap="round"/>
<path d="M382.6,112.5V114.1M381.6,112.5h2M381.6,114.1h2" stroke="#c59964" stroke-width="0.5" fill="none"/>
<circle cx="382.60" cy="113.29" r="1.20" fill="#fff" stroke="#c59964" stroke-width="0.5" fill-opacity="0.75"/>
<path d="M384.6,96.3V99.4M383.6,96.3h2M383.6,99.4h2" stroke="#c59964" stroke-width="0.5" fill="none"/>
<circle cx="384.61" cy="97.83" r="1.20" fill="#fff" stroke="#c59964" stroke-width="0.5" fill-opacity="0.75"/>
<path d="M388.6,82.1V85.8M387.6,82.1h2M387.6,85.8h2" stroke="#c59964" stroke-width="0.5" fill="none"/>
<circle cx="388.61" cy="83.91" r="1.20" fill="#fff" stroke="#c59964" stroke-width="0.5" fill-opacity="0.75"/>
<path d="M396.6,64.6V67.7M395.6,64.6h2M395.6,67.7h2" stroke="#c59964" stroke-width="0.5" fill="none"/>
<circle cx="396.62" cy="66.13" r="1.20" fill="#fff" stroke="#c59964" stroke-width="0.5" fill-opacity="0.75"/>
<path d="M412.7,53.8V55.3M411.7,53.8h2M411.7,55.3h2" stroke="#c59964" stroke-width="0.5" fill="none"/>
<circle cx="412.65" cy="54.54" r="1.20" fill="#fff" stroke="#c59964" stroke-width="0.5" fill-opacity="0.75"/>
<path d="M444.7,32.4V38.0M443.7,32.4h2M443.7,38.0h2" stroke="#c59964" stroke-width="0.5" fill="none"/>
<circle cx="444.70" cy="35.21" r="1.20" fill="#fff" stroke="#c59964" stroke-width="0.5" fill-opacity="0.75"/>
<path d="M508.8,17.4V39.1M507.8,17.4h2M507.8,39.1h2" stroke="#c59964" stroke-width="0.5" fill="none"/>
<circle cx="508.80" cy="28.26" r="1.20" fill="#fff" stroke="#c59964" stroke-width="0.5" fill-opacity="0.75"/>
<path d="M380.60,127.20 L380.72,126.17 L380.95,124.13 L381.27,121.48 L381.66,118.41 L382.12,115.06 L382.63,111.55 L383.20,107.95 L383.82,104.33 L384.49,100.75 L385.20,97.24 L385.96,93.82 L386.76,90.53 L387.60,87.36 L388.48,84.33 L389.40,81.44 L390.36,78.70 L391.36,76.09 L392.39,73.62 L393.45,71.28 L394.55,69.06 L395.68,66.97 L396.85,64.99 L398.05,63.12 L399.28,61.35 L400.54,59.68 L401.83,58.10 L403.15,56.61 L404.50,55.19 L405.88,53.85 L407.29,52.58 L408.73,51.38 L410.19,50.24 L411.69,49.15 L413.21,48.13 L414.75,47.15 L416.33,46.22 L417.93,45.34 L419.56,44.49 L421.21,43.69 L422.89,42.93 L424.59,42.20 L426.32,41.51 L428.08,40.84 L429.86,40.21 L431.66,39.60 L433.49,39.02 L435.34,38.46 L437.21,37.93 L439.11,37.42 L441.04,36.93 L442.98,36.46 L444.95,36.01 L446.94,35.58 L448.96,35.16 L450.99,34.76 L453.05,34.38 L455.13,34.01 L457.24,33.65 L459.36,33.31 L461.51,32.98 L463.68,32.66 L465.86,32.35 L468.08,32.05 L470.31,31.77 L472.56,31.49 L474.84,31.22 L477.13,30.96 L479.45,30.71 L481.78,30.47 L484.14,30.24 L486.51,30.01 L488.91,29.79 L491.33,29.58 L493.77,29.37 L496.22,29.17 L498.70,28.98 L501.19,28.79 L503.71,28.61 L506.25,28.43 L508.80,28.26" fill="none" stroke="#b98342" stroke-width="1.4" stroke-linejoin="round" stroke-linecap="round"/>
<line x1="383.10" y1="11.70" x2="394.10" y2="11.70" stroke="#5f1cc4" stroke-width="1.2"/>
<circle cx="388.60" cy="11.70" r="1.20" fill="#fff" stroke="#5f1cc4" stroke-width="0.5" fill-opacity="0.75"/>
<text transform="translate(396.80 14.90) scale(1.0179 1)" font-size="8.6" fill="#222222">GGACU</text>
<line x1="383.10" y1="21.80" x2="394.10" y2="21.80" stroke="#707070" stroke-width="1.2"/>
<circle cx="388.60" cy="21.80" r="1.20" fill="#fff" stroke="#707070" stroke-width="0.5" fill-opacity="0.75"/>
<text transform="translate(396.80 25.00) scale(1.0280 1)" font-size="8.6" fill="#222222">GGGCU</text>
<line x1="383.10" y1="31.40" x2="394.10" y2="31.40" stroke="#b98342" stroke-width="1.2"/>
<circle cx="388.60" cy="31.40" r="1.20" fill="#fff" stroke="#b98342" stroke-width="0.5" fill-opacity="0.75"/>
<text transform="translate(396.80 34.60) scale(1.0410 1)" font-size="8.6" fill="#222222">GCCAGA</text>
<line x1="471.40" y1="33.20" x2="471.40" y2="82.60" stroke="#444" stroke-width="0.5" stroke-dasharray="1.2 1"/>
<line x1="470.10" y1="33.20" x2="472.70" y2="33.20" stroke="#444" stroke-width="0.6"/>
<line x1="470.10" y1="82.60" x2="472.70" y2="82.60" stroke="#444" stroke-width="0.6"/>
<line x1="488.60" y1="81.80" x2="488.60" y2="127.00" stroke="#444" stroke-width="0.5" stroke-dasharray="1.2 1"/>
<line x1="487.30" y1="81.80" x2="489.90" y2="81.80" stroke="#444" stroke-width="0.6"/>
<line x1="487.30" y1="127.00" x2="489.90" y2="127.00" stroke="#444" stroke-width="0.6"/>
<text transform="translate(437.40 62.10)" font-size="6.8" fill="#222222"><tspan font-style="italic" dy="-0.00">P</tspan> = 0.0011</text>
<text transform="translate(436.60 109.40)" font-size="6.8" fill="#222222"><tspan font-style="italic" dy="-0.00">P</tspan> = 2.40 × 10<tspan font-size="4.20" dy="-3.20">–5</tspan></text>
<text transform="translate(531.50 10.40) scale(0.9000 1)" font-size="13.2" fill="#000" font-weight="bold" stroke="#000" stroke-width="0.35">d</text>
<line x1="562.90" y1="17.90" x2="562.90" y2="130.40" stroke="#8a8a8a" stroke-width="0.6"/>
<line x1="562.90" y1="130.40" x2="690.50" y2="130.40" stroke="#8a8a8a" stroke-width="0.6"/>
<line x1="559.90" y1="130.40" x2="562.90" y2="130.40" stroke="#8a8a8a" stroke-width="0.6"/>
<text transform="translate(555.90 133.30)" font-size="8.15" fill="#222222" text-anchor="end">0</text>
<line x1="559.90" y1="94.45" x2="562.90" y2="94.45" stroke="#8a8a8a" stroke-width="0.6"/>
<text transform="translate(555.90 97.35)" font-size="8.15" fill="#222222" text-anchor="end">1</text>
<line x1="559.90" y1="58.50" x2="562.90" y2="58.50" stroke="#8a8a8a" stroke-width="0.6"/>
<text transform="translate(555.90 61.40)" font-size="8.15" fill="#222222" text-anchor="end">2</text>
<line x1="559.90" y1="22.55" x2="562.90" y2="22.55" stroke="#8a8a8a" stroke-width="0.6"/>
<text transform="translate(555.90 25.45)" font-size="8.15" fill="#222222" text-anchor="end">3</text>
<line x1="562.90" y1="130.40" x2="562.90" y2="133.40" stroke="#8a8a8a" stroke-width="0.6"/>
<text transform="translate(562.90 144.00)" font-size="8.15" fill="#222222" text-anchor="middle">0</text>
<line x1="594.80" y1="130.40" x2="594.80" y2="133.40" stroke="#8a8a8a" stroke-width="0.6"/>
<text transform="translate(594.80 144.00)" font-size="8.15" fill="#222222" text-anchor="middle">1</text>
<line x1="626.70" y1="130.40" x2="626.70" y2="133.40" stroke="#8a8a8a" stroke-width="0.6"/>
<text transform="translate(626.70 144.00)" font-size="8.15" fill="#222222" text-anchor="middle">2</text>
<line x1="658.60" y1="130.40" x2="658.60" y2="133.40" stroke="#8a8a8a" stroke-width="0.6"/>
<text transform="translate(658.60 144.00)" font-size="8.15" fill="#222222" text-anchor="middle">3</text>
<line x1="690.50" y1="130.40" x2="690.50" y2="133.40" stroke="#8a8a8a" stroke-width="0.6"/>
<text transform="translate(690.50 144.00)" font-size="8.15" fill="#222222" text-anchor="middle">4</text>
<line x1="562.90" y1="130.40" x2="562.90" y2="133.60" stroke="#8a8a8a" stroke-width="0.6"/>
<text transform="translate(543.00 75.20) rotate(-90) scale(0.9372 1)" font-size="9.5" fill="#222222" text-anchor="middle">Luminescence (×10<tspan font-size="6.08" dy="-3.99">5</tspan><tspan dy="3.99">) (RLU)</tspan></text>
<text transform="translate(626.70 157.70) scale(0.9984 1)" font-size="9.5" fill="#222222" text-anchor="middle">RNA concentration (µM)</text>
<path d="M564.9,123.9V129.0M563.9,123.9h2M563.9,129.0h2" stroke="#469bdf" stroke-width="0.5" fill="none"/>
<path d="M563.57,127.46 L566.21,127.46 L564.89,125.12 Z" fill="#fff" stroke="#469bdf" stroke-width="0.5" fill-opacity="0.75"/>
<path d="M566.9,120.1V125.2M565.9,120.1h2M565.9,125.2h2" stroke="#469bdf" stroke-width="0.5" fill="none"/>
<path d="M565.57,123.67 L568.21,123.67 L566.89,121.33 Z" fill="#fff" stroke="#469bdf" stroke-width="0.5" fill-opacity="0.75"/>
<path d="M570.9,113.8V118.9M569.9,113.8h2M569.9,118.9h2" stroke="#469bdf" stroke-width="0.5" fill="none"/>
<path d="M569.55,117.41 L572.20,117.41 L570.88,115.07 Z" fill="#fff" stroke="#469bdf" stroke-width="0.5" fill-opacity="0.75"/>
<path d="M578.9,103.4V108.5M577.9,103.4h2M577.9,108.5h2" stroke="#469bdf" stroke-width="0.5" fill="none"/>
<path d="M577.53,106.95 L580.17,106.95 L578.85,104.61 Z" fill="#fff" stroke="#469bdf" stroke-width="0.5" fill-opacity="0.75"/>
<path d="M594.8,93.4V99.1M593.8,93.4h2M593.8,99.1h2" stroke="#469bdf" stroke-width="0.5" fill="none"/>
<path d="M593.48,97.27 L596.12,97.27 L594.80,94.93 Z" fill="#fff" stroke="#469bdf" stroke-width="0.5" fill-opacity="0.75"/>
<path d="M626.7,75.8V80.1M625.7,75.8h2M625.7,80.1h2" stroke="#469bdf" stroke-width="0.5" fill="none"/>
<path d="M625.38,78.93 L628.02,78.93 L626.70,76.59 Z" fill="#fff" stroke="#469bdf" stroke-width="0.5" fill-opacity="0.75"/>
<path d="M690.5,61.4V65.7M689.5,61.4h2M689.5,65.7h2" stroke="#469bdf" stroke-width="0.5" fill="none"/>
<path d="M689.18,64.55 L691.82,64.55 L690.50,62.21 Z" fill="#fff" stroke="#469bdf" stroke-width="0.5" fill-opacity="0.75"/>
<path d="M562.90,130.40 L563.02,130.16 L563.25,129.66 L563.57,129.00 L563.96,128.21 L564.41,127.30 L564.92,126.30 L565.49,125.22 L566.11,124.08 L566.77,122.89 L567.48,121.65 L568.24,120.38 L569.03,119.08 L569.87,117.76 L570.75,116.43 L571.66,115.10 L572.62,113.76 L573.61,112.42 L574.63,111.09 L575.69,109.77 L576.79,108.46 L577.91,107.17 L579.07,105.89 L580.26,104.63 L581.49,103.40 L582.74,102.18 L584.03,100.98 L585.34,99.81 L586.69,98.66 L588.06,97.54 L589.46,96.44 L590.90,95.37 L592.35,94.32 L593.84,93.29 L595.35,92.29 L596.90,91.31 L598.46,90.36 L600.06,89.43 L601.68,88.53 L603.32,87.65 L604.99,86.79 L606.69,85.95 L608.41,85.13 L610.16,84.34 L611.93,83.56 L613.72,82.81 L615.54,82.07 L617.38,81.36 L619.25,80.66 L621.14,79.99 L623.05,79.33 L624.99,78.68 L626.95,78.06 L628.93,77.45 L630.94,76.85 L632.96,76.27 L635.01,75.71 L637.08,75.16 L639.18,74.63 L641.29,74.10 L643.43,73.60 L645.59,73.10 L647.77,72.62 L649.97,72.15 L652.19,71.69 L654.43,71.24 L656.69,70.80 L658.98,70.38 L661.28,69.96 L663.61,69.56 L665.95,69.16 L668.32,68.78 L670.70,68.40 L673.11,68.03 L675.54,67.67 L677.98,67.32 L680.45,66.98 L682.93,66.65 L685.43,66.32 L687.96,66.00 L690.50,65.69" fill="none" stroke="#1e86d8" stroke-width="1.45" stroke-linejoin="round" stroke-linecap="round"/>
<path d="M564.9,123.4V129.5M563.9,123.4h2M563.9,129.5h2" stroke="#7b44ce" stroke-width="0.5" fill="none"/>
<circle cx="564.89" cy="126.45" r="1.20" fill="#fff" stroke="#7b44ce" stroke-width="0.5" fill-opacity="0.75"/>
<path d="M566.9,120.1V126.2M565.9,120.1h2M565.9,126.2h2" stroke="#7b44ce" stroke-width="0.5" fill="none"/>
<circle cx="566.89" cy="123.13" r="1.20" fill="#fff" stroke="#7b44ce" stroke-width="0.5" fill-opacity="0.75"/>
<path d="M570.9,111.3V122.1M569.9,111.3h2M569.9,122.1h2" stroke="#7b44ce" stroke-width="0.5" fill="none"/>
<circle cx="570.88" cy="116.74" r="1.20" fill="#fff" stroke="#7b44ce" stroke-width="0.5" fill-opacity="0.75"/>
<path d="M578.9,102.7V111.3M577.9,102.7h2M577.9,111.3h2" stroke="#7b44ce" stroke-width="0.5" fill="none"/>
<circle cx="578.85" cy="107.03" r="1.20" fill="#fff" stroke="#7b44ce" stroke-width="0.5" fill-opacity="0.75"/>
<path d="M594.8,92.7V96.2M593.8,92.7h2M593.8,96.2h2" stroke="#7b44ce" stroke-width="0.5" fill="none"/>
<circle cx="594.80" cy="94.45" r="1.20" fill="#fff" stroke="#7b44ce" stroke-width="0.5" fill-opacity="0.75"/>
<path d="M626.7,65.0V72.2M625.7,65.0h2M625.7,72.2h2" stroke="#7b44ce" stroke-width="0.5" fill="none"/>
<circle cx="626.70" cy="68.57" r="1.20" fill="#fff" stroke="#7b44ce" stroke-width="0.5" fill-opacity="0.75"/>
<path d="M690.5,56.7V61.7M689.5,56.7h2M689.5,61.7h2" stroke="#7b44ce" stroke-width="0.5" fill="none"/>
<circle cx="690.50" cy="59.22" r="1.20" fill="#fff" stroke="#7b44ce" stroke-width="0.5" fill-opacity="0.75"/>
<path d="M562.90,130.40 L563.02,130.17 L563.25,129.69 L563.57,129.06 L563.96,128.29 L564.41,127.41 L564.92,126.43 L565.49,125.38 L566.11,124.26 L566.77,123.08 L567.48,121.85 L568.24,120.57 L569.03,119.27 L569.87,117.94 L570.75,116.58 L571.66,115.21 L572.62,113.83 L573.61,112.45 L574.63,111.06 L575.69,109.67 L576.79,108.29 L577.91,106.91 L579.07,105.54 L580.26,104.19 L581.49,102.85 L582.74,101.52 L584.03,100.21 L585.34,98.92 L586.69,97.65 L588.06,96.39 L589.46,95.16 L590.90,93.95 L592.35,92.76 L593.84,91.59 L595.35,90.45 L596.90,89.33 L598.46,88.23 L600.06,87.15 L601.68,86.09 L603.32,85.06 L604.99,84.05 L606.69,83.06 L608.41,82.09 L610.16,81.14 L611.93,80.22 L613.72,79.31 L615.54,78.43 L617.38,77.57 L619.25,76.72 L621.14,75.89 L623.05,75.09 L624.99,74.30 L626.95,73.53 L628.93,72.78 L630.94,72.04 L632.96,71.32 L635.01,70.62 L637.08,69.94 L639.18,69.27 L641.29,68.61 L643.43,67.97 L645.59,67.35 L647.77,66.74 L649.97,66.14 L652.19,65.56 L654.43,64.99 L656.69,64.43 L658.98,63.88 L661.28,63.35 L663.61,62.83 L665.95,62.32 L668.32,61.82 L670.70,61.34 L673.11,60.86 L675.54,60.39 L677.98,59.94 L680.45,59.49 L682.93,59.05 L685.43,58.63 L687.96,58.21 L690.50,57.80" fill="none" stroke="#5f1cc4" stroke-width="1.55" stroke-linejoin="round" stroke-linecap="round"/>
<path d="M564.9,115.3V123.9M563.9,115.3h2M563.9,123.9h2" stroke="#f27644" stroke-width="0.5" fill="none"/>
<circle cx="564.89" cy="119.62" r="1.20" fill="#fff" stroke="#f27644" stroke-width="0.5" fill-opacity="0.75"/>
<path d="M566.9,105.2V113.9M565.9,105.2h2M565.9,113.9h2" stroke="#f27644" stroke-width="0.5" fill="none"/>
<circle cx="566.89" cy="109.55" r="1.20" fill="#fff" stroke="#f27644" stroke-width="0.5" fill-opacity="0.75"/>
<path d="M570.9,98.0V106.7M569.9,98.0h2M569.9,106.7h2" stroke="#f27644" stroke-width="0.5" fill="none"/>
<circle cx="570.88" cy="102.36" r="1.20" fill="#fff" stroke="#f27644" stroke-width="0.5" fill-opacity="0.75"/>
<path d="M578.9,78.3V81.9M577.9,78.3h2M577.9,81.9h2" stroke="#f27644" stroke-width="0.5" fill="none"/>
<circle cx="578.85" cy="80.07" r="1.20" fill="#fff" stroke="#f27644" stroke-width="0.5" fill-opacity="0.75"/>
<path d="M594.8,62.8V73.6M593.8,62.8h2M593.8,73.6h2" stroke="#f27644" stroke-width="0.5" fill="none"/>
<circle cx="594.80" cy="68.21" r="1.20" fill="#fff" stroke="#f27644" stroke-width="0.5" fill-opacity="0.75"/>
<path d="M626.7,37.6V43.4M625.7,37.6h2M625.7,43.4h2" stroke="#f27644" stroke-width="0.5" fill="none"/>
<circle cx="626.70" cy="40.53" r="1.20" fill="#fff" stroke="#f27644" stroke-width="0.5" fill-opacity="0.75"/>
<path d="M690.5,19.3V35.1M689.5,19.3h2M689.5,35.1h2" stroke="#f27644" stroke-width="0.5" fill="none"/>
<circle cx="690.50" cy="27.22" r="1.20" fill="#fff" stroke="#f27644" stroke-width="0.5" fill-opacity="0.75"/>
<path d="M562.90,130.40 L563.02,129.85 L563.25,128.74 L563.57,127.27 L563.96,125.51 L564.41,123.53 L564.92,121.37 L565.49,119.08 L566.11,116.68 L566.77,114.21 L567.48,111.69 L568.24,109.14 L569.03,106.58 L569.87,104.02 L570.75,101.49 L571.66,98.97 L572.62,96.50 L573.61,94.06 L574.63,91.68 L575.69,89.35 L576.79,87.08 L577.91,84.86 L579.07,82.71 L580.26,80.62 L581.49,78.59 L582.74,76.62 L584.03,74.71 L585.34,72.87 L586.69,71.08 L588.06,69.36 L589.46,67.69 L590.90,66.08 L592.35,64.53 L593.84,63.02 L595.35,61.57 L596.90,60.17 L598.46,58.82 L600.06,57.51 L601.68,56.25 L603.32,55.03 L604.99,53.86 L606.69,52.72 L608.41,51.62 L610.16,50.56 L611.93,49.54 L613.72,48.55 L615.54,47.59 L617.38,46.67 L619.25,45.78 L621.14,44.91 L623.05,44.07 L624.99,43.27 L626.95,42.48 L628.93,41.72 L630.94,40.99 L632.96,40.28 L635.01,39.59 L637.08,38.92 L639.18,38.27 L641.29,37.65 L643.43,37.04 L645.59,36.45 L647.77,35.88 L649.97,35.32 L652.19,34.78 L654.43,34.26 L656.69,33.75 L658.98,33.25 L661.28,32.77 L663.61,32.31 L665.95,31.85 L668.32,31.41 L670.70,30.98 L673.11,30.57 L675.54,30.16 L677.98,29.77 L680.45,29.38 L682.93,29.01 L685.43,28.64 L687.96,28.29 L690.50,27.94" fill="none" stroke="#f0581c" stroke-width="1.4" stroke-linejoin="round" stroke-linecap="round"/>
<line x1="565.80" y1="11.80" x2="574.40" y2="11.80" stroke="#5f1cc4" stroke-width="1.2"/>
<circle cx="570.10" cy="11.80" r="1.20" fill="#fff" stroke="#5f1cc4" stroke-width="0.5" fill-opacity="0.75"/>
<text transform="translate(577.60 15.00) scale(0.8466 1)" font-size="9.3" fill="#222222">FIO1</text>
<line x1="565.80" y1="21.60" x2="574.40" y2="21.60" stroke="#1e86d8" stroke-width="1.2"/>
<path d="M568.78,22.62 L571.42,22.62 L570.10,20.28 Z" fill="#fff" stroke="#1e86d8" stroke-width="0.5" fill-opacity="0.75"/>
<text transform="translate(577.60 24.80) scale(0.8821 1)" font-size="9.3" fill="#222222">FIO1 + CRY2<tspan font-size="6.70" dy="-3.90">PHR</tspan></text>
<line x1="565.80" y1="31.50" x2="574.40" y2="31.50" stroke="#f0581c" stroke-width="1.2"/>
<circle cx="570.10" cy="31.50" r="1.20" fill="#fff" stroke="#f0581c" stroke-width="0.5" fill-opacity="0.75"/>
<text transform="translate(577.60 34.70) scale(0.8907 1)" font-size="9.3" fill="#222222">FIO1 + CRY2<tspan font-size="6.70" dy="-3.90">CCE</tspan></text>
<line x1="665.70" y1="33.80" x2="665.70" y2="61.00" stroke="#444" stroke-width="0.5" stroke-dasharray="1.2 1"/>
<line x1="664.40" y1="33.80" x2="667.00" y2="33.80" stroke="#444" stroke-width="0.6"/>
<line x1="664.40" y1="61.00" x2="667.00" y2="61.00" stroke="#444" stroke-width="0.6"/>
<text transform="translate(628.60 53.00)" font-size="6.8" fill="#222222"><tspan font-style="italic" dy="-0.00">P</tspan> = 0.0018</text>
<text transform="translate(0.00 176.70) scale(0.9700 1)" font-size="13.2" fill="#000" font-weight="bold" stroke="#000" stroke-width="0.35">e</text>
<line x1="40.40" y1="187.40" x2="40.40" y2="297.30" stroke="#8a8a8a" stroke-width="0.6"/>
<line x1="40.40" y1="297.30" x2="168.12" y2="297.30" stroke="#8a8a8a" stroke-width="0.6"/>
<line x1="37.40" y1="297.30" x2="40.40" y2="297.30" stroke="#8a8a8a" stroke-width="0.6"/>
<text transform="translate(33.40 300.20)" font-size="8.15" fill="#222222" text-anchor="end">0</text>
<line x1="37.40" y1="266.80" x2="40.40" y2="266.80" stroke="#8a8a8a" stroke-width="0.6"/>
<text transform="translate(33.40 269.70)" font-size="8.15" fill="#222222" text-anchor="end">1</text>
<line x1="37.40" y1="236.30" x2="40.40" y2="236.30" stroke="#8a8a8a" stroke-width="0.6"/>
<text transform="translate(33.40 239.20)" font-size="8.15" fill="#222222" text-anchor="end">2</text>
<line x1="37.40" y1="205.80" x2="40.40" y2="205.80" stroke="#8a8a8a" stroke-width="0.6"/>
<text transform="translate(33.40 208.70)" font-size="8.15" fill="#222222" text-anchor="end">3</text>
<line x1="40.40" y1="297.30" x2="40.40" y2="300.30" stroke="#8a8a8a" stroke-width="0.6"/>
<text transform="translate(40.40 310.90)" font-size="8.15" fill="#222222" text-anchor="middle">0</text>
<line x1="72.33" y1="297.30" x2="72.33" y2="300.30" stroke="#8a8a8a" stroke-width="0.6"/>
<text transform="translate(72.33 310.90)" font-size="8.15" fill="#222222" text-anchor="middle">1</text>
<line x1="104.26" y1="297.30" x2="104.26" y2="300.30" stroke="#8a8a8a" stroke-width="0.6"/>
<text transform="translate(104.26 310.90)" font-size="8.15" fill="#222222" text-anchor="middle">2</text>
<line x1="136.19" y1="297.30" x2="136.19" y2="300.30" stroke="#8a8a8a" stroke-width="0.6"/>
<text transform="translate(136.19 310.90)" font-size="8.15" fill="#222222" text-anchor="middle">3</text>
<line x1="168.12" y1="297.30" x2="168.12" y2="300.30" stroke="#8a8a8a" stroke-width="0.6"/>
<text transform="translate(168.12 310.90)" font-size="8.15" fill="#222222" text-anchor="middle">4</text>
<text transform="translate(20.10 242.20) rotate(-90) scale(0.9457 1)" font-size="9.5" fill="#222222" text-anchor="middle">Luminescence (×10<tspan font-size="6.08" dy="-3.99">5</tspan><tspan dy="3.99">) (RLU)</tspan></text>
<text transform="translate(104.10 325.00) scale(0.9984 1)" font-size="9.5" fill="#222222" text-anchor="middle">RNA concentration (µM)</text>
<path d="M42.4,289.6V295.1M41.4,289.6h2M41.4,295.1h2" stroke="#7b44ce" stroke-width="0.5" fill="none"/>
<circle cx="42.40" cy="292.33" r="1.20" fill="#fff" stroke="#7b44ce" stroke-width="0.5" fill-opacity="0.75"/>
<path d="M44.4,281.4V284.5M43.4,281.4h2M43.4,284.5h2" stroke="#7b44ce" stroke-width="0.5" fill="none"/>
<circle cx="44.39" cy="282.97" r="1.20" fill="#fff" stroke="#7b44ce" stroke-width="0.5" fill-opacity="0.75"/>
<path d="M48.4,282.1V286.9M47.4,282.1h2M47.4,286.9h2" stroke="#7b44ce" stroke-width="0.5" fill="none"/>
<circle cx="48.38" cy="284.49" r="1.20" fill="#fff" stroke="#7b44ce" stroke-width="0.5" fill-opacity="0.75"/>
<path d="M56.4,264.0V269.5M55.4,264.0h2M55.4,269.5h2" stroke="#7b44ce" stroke-width="0.5" fill="none"/>
<circle cx="56.36" cy="266.76" r="1.20" fill="#fff" stroke="#7b44ce" stroke-width="0.5" fill-opacity="0.75"/>
<path d="M72.3,250.4V255.9M71.3,250.4h2M71.3,255.9h2" stroke="#7b44ce" stroke-width="0.5" fill="none"/>
<circle cx="72.33" cy="253.17" r="1.20" fill="#fff" stroke="#7b44ce" stroke-width="0.5" fill-opacity="0.75"/>
<path d="M104.3,236.9V240.0M103.3,236.9h2M103.3,240.0h2" stroke="#7b44ce" stroke-width="0.5" fill="none"/>
<circle cx="104.26" cy="238.44" r="1.20" fill="#fff" stroke="#7b44ce" stroke-width="0.5" fill-opacity="0.75"/>
<path d="M168.1,222.9V226.5M167.1,222.9h2M167.1,226.5h2" stroke="#7b44ce" stroke-width="0.5" fill="none"/>
<circle cx="168.12" cy="224.71" r="1.20" fill="#fff" stroke="#7b44ce" stroke-width="0.5" fill-opacity="0.75"/>
<path d="M40.40,297.30 L40.52,296.98 L40.75,296.35 L41.07,295.50 L41.46,294.48 L41.91,293.33 L42.42,292.06 L42.99,290.69 L43.61,289.26 L44.27,287.76 L44.98,286.22 L45.74,284.64 L46.54,283.05 L47.38,281.43 L48.25,279.81 L49.17,278.19 L50.13,276.58 L51.12,274.98 L52.14,273.40 L53.20,271.83 L54.30,270.29 L55.43,268.77 L56.59,267.29 L57.78,265.83 L59.01,264.40 L60.26,263.00 L61.55,261.64 L62.86,260.31 L64.21,259.01 L65.59,257.74 L66.99,256.51 L68.42,255.31 L69.88,254.15 L71.37,253.01 L72.88,251.91 L74.43,250.84 L76.00,249.80 L77.59,248.79 L79.21,247.80 L80.86,246.85 L82.53,245.92 L84.23,245.02 L85.95,244.15 L87.70,243.30 L89.47,242.48 L91.27,241.68 L93.09,240.91 L94.93,240.15 L96.80,239.42 L98.69,238.71 L100.61,238.02 L102.55,237.35 L104.51,236.70 L106.49,236.07 L108.50,235.45 L110.53,234.85 L112.58,234.27 L114.65,233.71 L116.75,233.16 L118.87,232.62 L121.00,232.11 L123.16,231.60 L125.35,231.11 L127.55,230.63 L129.77,230.17 L132.02,229.71 L134.28,229.27 L136.57,228.84 L138.88,228.42 L141.20,228.02 L143.55,227.62 L145.92,227.23 L148.31,226.86 L150.71,226.49 L153.14,226.13 L155.59,225.78 L158.06,225.44 L160.54,225.11 L163.05,224.78 L165.58,224.47 L168.12,224.16" fill="none" stroke="#5f1cc4" stroke-width="1.4" stroke-linejoin="round" stroke-linecap="round"/>
<path d="M42.4,289.4V295.1M41.4,289.4h2M41.4,295.1h2" stroke="#4ab75c" stroke-width="0.5" fill="none"/>
<path d="M41.08,293.26 L43.72,293.26 L42.40,290.92 Z" fill="#fff" stroke="#4ab75c" stroke-width="0.5" fill-opacity="0.75"/>
<path d="M44.4,284.2V290.0M43.4,284.2h2M43.4,290.0h2" stroke="#4ab75c" stroke-width="0.5" fill="none"/>
<path d="M43.07,288.13 L45.71,288.13 L44.39,285.79 Z" fill="#fff" stroke="#4ab75c" stroke-width="0.5" fill-opacity="0.75"/>
<path d="M48.4,276.7V282.4M47.4,276.7h2M47.4,282.4h2" stroke="#4ab75c" stroke-width="0.5" fill="none"/>
<path d="M47.06,280.57 L49.70,280.57 L48.38,278.23 Z" fill="#fff" stroke="#4ab75c" stroke-width="0.5" fill-opacity="0.75"/>
<path d="M56.4,263.6V269.4M55.4,263.6h2M55.4,269.4h2" stroke="#4ab75c" stroke-width="0.5" fill="none"/>
<path d="M55.04,267.49 L57.68,267.49 L56.36,265.15 Z" fill="#fff" stroke="#4ab75c" stroke-width="0.5" fill-opacity="0.75"/>
<path d="M72.3,248.8V254.5M71.3,248.8h2M71.3,254.5h2" stroke="#4ab75c" stroke-width="0.5" fill="none"/>
<path d="M71.01,252.66 L73.65,252.66 L72.33,250.32 Z" fill="#fff" stroke="#4ab75c" stroke-width="0.5" fill-opacity="0.75"/>
<path d="M104.3,239.4V246.7M103.3,239.4h2M103.3,246.7h2" stroke="#4ab75c" stroke-width="0.5" fill="none"/>
<path d="M102.94,244.03 L105.58,244.03 L104.26,241.69 Z" fill="#fff" stroke="#4ab75c" stroke-width="0.5" fill-opacity="0.75"/>
<path d="M168.1,215.0V224.1M167.1,215.0h2M167.1,224.1h2" stroke="#4ab75c" stroke-width="0.5" fill="none"/>
<path d="M166.80,220.55 L169.44,220.55 L168.12,218.21 Z" fill="#fff" stroke="#4ab75c" stroke-width="0.5" fill-opacity="0.75"/>
<path d="M40.40,297.30 L40.52,296.99 L40.75,296.35 L41.07,295.51 L41.46,294.49 L41.91,293.33 L42.42,292.06 L42.99,290.70 L43.61,289.26 L44.27,287.76 L44.98,286.21 L45.74,284.62 L46.54,283.01 L47.38,281.38 L48.25,279.74 L49.17,278.10 L50.13,276.47 L51.12,274.84 L52.14,273.23 L53.20,271.63 L54.30,270.06 L55.43,268.51 L56.59,266.99 L57.78,265.49 L59.01,264.03 L60.26,262.60 L61.55,261.19 L62.86,259.82 L64.21,258.48 L65.59,257.18 L66.99,255.91 L68.42,254.66 L69.88,253.46 L71.37,252.28 L72.88,251.14 L74.43,250.02 L76.00,248.94 L77.59,247.89 L79.21,246.87 L80.86,245.87 L82.53,244.90 L84.23,243.97 L85.95,243.05 L87.70,242.17 L89.47,241.30 L91.27,240.47 L93.09,239.65 L94.93,238.86 L96.80,238.09 L98.69,237.35 L100.61,236.62 L102.55,235.92 L104.51,235.23 L106.49,234.56 L108.50,233.92 L110.53,233.29 L112.58,232.67 L114.65,232.08 L116.75,231.50 L118.87,230.93 L121.00,230.38 L123.16,229.85 L125.35,229.33 L127.55,228.82 L129.77,228.33 L132.02,227.85 L134.28,227.38 L136.57,226.93 L138.88,226.48 L141.20,226.05 L143.55,225.63 L145.92,225.22 L148.31,224.82 L150.71,224.43 L153.14,224.05 L155.59,223.67 L158.06,223.31 L160.54,222.96 L163.05,222.61 L165.58,222.28 L168.12,221.95" fill="none" stroke="#23a839" stroke-width="1.4" stroke-linejoin="round" stroke-linecap="round"/>
<path d="M42.4,277.5V283.6M41.4,277.5h2M41.4,283.6h2" stroke="#f27644" stroke-width="0.5" fill="none"/>
<rect x="41.29" y="279.42" width="2.21" height="2.21" fill="#fff" stroke="#f27644" stroke-width="0.5" fill-opacity="0.75"/>
<path d="M44.4,263.8V276.0M43.4,263.8h2M43.4,276.0h2" stroke="#f27644" stroke-width="0.5" fill="none"/>
<rect x="43.29" y="268.75" width="2.21" height="2.21" fill="#fff" stroke="#f27644" stroke-width="0.5" fill-opacity="0.75"/>
<path d="M48.4,254.6V263.8M47.4,254.6h2M47.4,263.8h2" stroke="#f27644" stroke-width="0.5" fill="none"/>
<rect x="47.28" y="258.07" width="2.21" height="2.21" fill="#fff" stroke="#f27644" stroke-width="0.5" fill-opacity="0.75"/>
<path d="M56.4,244.5V246.4M55.4,244.5h2M55.4,246.4h2" stroke="#f27644" stroke-width="0.5" fill="none"/>
<rect x="55.26" y="244.35" width="2.21" height="2.21" fill="#fff" stroke="#f27644" stroke-width="0.5" fill-opacity="0.75"/>
<path d="M72.3,228.7V230.5M71.3,228.7h2M71.3,230.5h2" stroke="#f27644" stroke-width="0.5" fill="none"/>
<rect x="71.23" y="228.49" width="2.21" height="2.21" fill="#fff" stroke="#f27644" stroke-width="0.5" fill-opacity="0.75"/>
<path d="M104.3,202.8V218.0M103.3,202.8h2M103.3,218.0h2" stroke="#f27644" stroke-width="0.5" fill="none"/>
<rect x="103.16" y="209.27" width="2.21" height="2.21" fill="#fff" stroke="#f27644" stroke-width="0.5" fill-opacity="0.75"/>
<path d="M168.1,192.1V193.3M167.1,192.1h2M167.1,193.3h2" stroke="#f27644" stroke-width="0.5" fill="none"/>
<rect x="167.02" y="191.58" width="2.21" height="2.21" fill="#fff" stroke="#f27644" stroke-width="0.5" fill-opacity="0.75"/>
<path d="M40.40,297.30 L40.52,296.69 L40.75,295.48 L41.07,293.87 L41.46,291.96 L41.91,289.81 L42.42,287.49 L42.99,285.03 L43.61,282.48 L44.27,279.87 L44.98,277.22 L45.74,274.56 L46.54,271.91 L47.38,269.28 L48.25,266.68 L49.17,264.12 L50.13,261.62 L51.12,259.18 L52.14,256.80 L53.20,254.49 L54.30,252.25 L55.43,250.08 L56.59,247.98 L57.78,245.95 L59.01,243.99 L60.26,242.10 L61.55,240.28 L62.86,238.53 L64.21,236.84 L65.59,235.21 L66.99,233.65 L68.42,232.14 L69.88,230.69 L71.37,229.30 L72.88,227.96 L74.43,226.66 L76.00,225.42 L77.59,224.23 L79.21,223.08 L80.86,221.97 L82.53,220.90 L84.23,219.87 L85.95,218.88 L87.70,217.93 L89.47,217.01 L91.27,216.12 L93.09,215.27 L94.93,214.45 L96.80,213.65 L98.69,212.88 L100.61,212.14 L102.55,211.43 L104.51,210.74 L106.49,210.07 L108.50,209.42 L110.53,208.80 L112.58,208.19 L114.65,207.61 L116.75,207.05 L118.87,206.50 L121.00,205.97 L123.16,205.46 L125.35,204.96 L127.55,204.48 L129.77,204.01 L132.02,203.56 L134.28,203.12 L136.57,202.69 L138.88,202.28 L141.20,201.88 L143.55,201.49 L145.92,201.11 L148.31,200.74 L150.71,200.38 L153.14,200.03 L155.59,199.70 L158.06,199.37 L160.54,199.05 L163.05,198.74 L165.58,198.43 L168.12,198.14" fill="none" stroke="#f0581c" stroke-width="1.3" stroke-linejoin="round" stroke-linecap="round"/>
<line x1="42.80" y1="176.90" x2="51.00" y2="176.90" stroke="#5f1cc4" stroke-width="1.2"/>
<circle cx="46.90" cy="176.90" r="1.20" fill="#fff" stroke="#5f1cc4" stroke-width="0.5" fill-opacity="0.75"/>
<text transform="translate(54.30 180.10) scale(0.8418 1)" font-size="9.3" fill="#222222">FIO1</text>
<line x1="42.80" y1="186.40" x2="51.00" y2="186.40" stroke="#f0581c" stroke-width="1.2"/>
<rect x="45.80" y="185.30" width="2.21" height="2.21" fill="#fff" stroke="#f0581c" stroke-width="0.5" fill-opacity="0.75"/>
<text transform="translate(54.30 189.60) scale(0.8893 1)" font-size="9.3" fill="#222222">FIO1 + CRY2<tspan font-size="6.70" dy="-3.90">CCE</tspan></text>
<line x1="42.80" y1="195.60" x2="51.00" y2="195.60" stroke="#23a839" stroke-width="1.2"/>
<path d="M45.58,196.62 L48.22,196.62 L46.90,194.28 Z" fill="#fff" stroke="#23a839" stroke-width="0.5" fill-opacity="0.75"/>
<text transform="translate(54.30 198.80) scale(0.8990 1)" font-size="9.3" fill="#222222">FIO1 + CRY2<tspan font-size="6.70" dy="-3.90">CCE-P532L</tspan></text>
<line x1="150.00" y1="200.40" x2="150.00" y2="222.90" stroke="#444" stroke-width="0.5" stroke-dasharray="1.2 1"/>
<line x1="148.70" y1="200.40" x2="151.30" y2="200.40" stroke="#444" stroke-width="0.6"/>
<line x1="148.70" y1="222.90" x2="151.30" y2="222.90" stroke="#444" stroke-width="0.6"/>
<text transform="translate(104.50 217.20)" font-size="6.8" fill="#222222"><tspan font-style="italic" dy="-0.00">P</tspan> = 4.08 × 10<tspan font-size="4.20" dy="-3.20">–5</tspan></text>
<text transform="translate(230.50 177.50) scale(0.9700 1)" font-size="13.2" fill="#000" font-weight="bold" stroke="#000" stroke-width="0.35">g</text>
<text transform="translate(491.00 178.90) scale(1.0268 1)" font-size="9.5" fill="#222222" text-anchor="middle">Time in blue light (min)</text>
<line x1="326.30" y1="184.60" x2="671.00" y2="184.60" stroke="#555" stroke-width="0.6"/>
<text transform="translate(335.20 195.30) scale(1.0400 1)" font-size="9.5" fill="#222222" text-anchor="middle">0</text>
<text transform="translate(401.40 195.30) scale(1.0400 1)" font-size="9.5" fill="#222222" text-anchor="middle">10</text>
<text transform="translate(466.50 195.30) scale(1.0400 1)" font-size="9.5" fill="#222222" text-anchor="middle">20</text>
<text transform="translate(531.50 195.30) scale(1.0400 1)" font-size="9.5" fill="#222222" text-anchor="middle">30</text>
<text transform="translate(595.40 195.30) scale(1.0400 1)" font-size="9.5" fill="#222222" text-anchor="middle">40</text>
<text transform="translate(658.40 195.30) scale(1.0400 1)" font-size="9.5" fill="#222222" text-anchor="middle">50</text>
<rect x="306.60" y="197.30" width="62.80" height="63.00" fill="#000700"/>
<rect x="371.40" y="197.30" width="62.40" height="63.00" fill="#000700"/>
<rect x="435.80" y="197.30" width="63.20" height="63.00" fill="#000700"/>
<rect x="501.20" y="197.30" width="62.60" height="63.00" fill="#000700"/>
<rect x="565.60" y="197.30" width="62.00" height="63.00" fill="#000700"/>
<rect x="629.60" y="197.30" width="63.40" height="63.00" fill="#000700"/>
<rect x="306.60" y="262.00" width="62.80" height="63.00" fill="#000700"/>
<rect x="371.40" y="262.00" width="62.40" height="63.00" fill="#000700"/>
<rect x="435.80" y="262.00" width="63.20" height="63.00" fill="#000700"/>
<rect x="501.20" y="262.00" width="62.60" height="63.00" fill="#000700"/>
<rect x="565.60" y="262.00" width="62.00" height="63.00" fill="#000700"/>
<rect x="629.60" y="262.00" width="63.40" height="63.00" fill="#000700"/>
<g clip-path="url(#tc00)"><g filter="url(#bl1)"><ellipse cx="337.4" cy="229.7" rx="23.8" ry="21.0" fill="url(#gb)" opacity="1" transform="rotate(45 337.4 229.7)"/></g></g>
<g clip-path="url(#tc00)"><g filter="url(#bl4)"><ellipse cx="350.5" cy="224.5" rx="3" ry="3" fill="#128a0c" opacity="0.55" transform="rotate(0 350.5 224.5)"/></g></g>
<g clip-path="url(#tc01)"><g filter="url(#bl1)"><ellipse cx="400.6" cy="230.2" rx="19.2" ry="22.8" fill="url(#gb)" opacity="1" transform="rotate(10 400.6 230.2)"/><ellipse cx="396.5" cy="215.5" rx="7.5" ry="7.5" fill="#12d412" opacity="1" transform="rotate(0 396.5 215.5)"/><ellipse cx="409" cy="219" rx="8" ry="8" fill="#12d412" opacity="1" transform="rotate(0 409 219)"/><ellipse cx="413.5" cy="233" rx="7" ry="8" fill="#12d412" opacity="1" transform="rotate(0 413.5 233)"/><ellipse cx="409" cy="243.5" rx="8" ry="7" fill="#12d412" opacity="1" transform="rotate(0 409 243.5)"/><ellipse cx="397.5" cy="246" rx="7.5" ry="6.5" fill="#12d412" opacity="1" transform="rotate(0 397.5 246)"/><ellipse cx="389" cy="238" rx="7" ry="8" fill="#12d412" opacity="1" transform="rotate(0 389 238)"/><ellipse cx="388" cy="225.5" rx="7" ry="8" fill="#12d412" opacity="1" transform="rotate(0 388 225.5)"/></g></g>
<g clip-path="url(#tc01)"><g filter="url(#bl4)"><ellipse cx="404" cy="218.5" rx="3.6" ry="3.6" fill="#128a0c" opacity="0.6" transform="rotate(0 404 218.5)"/></g></g>
<g clip-path="url(#tc01)"><g filter="url(#bl4)"><ellipse cx="392" cy="232" rx="5" ry="5" fill="#128a0c" opacity="0.25" transform="rotate(0 392 232)"/></g></g>
<g clip-path="url(#tc02)"><g filter="url(#bl1)"><ellipse cx="463.6" cy="232.2" rx="17.4" ry="22.0" fill="url(#gb)" opacity="1" transform="rotate(8 463.6 232.2)"/></g></g>
<g clip-path="url(#tc02)"><g filter="url(#bl4)"><ellipse cx="452" cy="232" rx="6" ry="12" fill="#0f7a0a" opacity="0.45" transform="rotate(0 452 232)"/></g></g>
<g clip-path="url(#tc02)"><g filter="url(#bl3)"><ellipse cx="487" cy="236" rx="7" ry="8" fill="#0c3a08" opacity="0.55" transform="rotate(0 487 236)"/></g></g>
<g clip-path="url(#tc03)"><g filter="url(#bl2)"><ellipse cx="530.2" cy="216.0" rx="5.2" ry="5.2" fill="#16de16" opacity="1" transform="rotate(0 530.2 216.0)"/><ellipse cx="545.4" cy="231.6" rx="5.5" ry="5.5" fill="#16de16" opacity="1" transform="rotate(0 545.4 231.6)"/><ellipse cx="531.1" cy="244.5" rx="4.8" ry="4.8" fill="#16de16" opacity="1" transform="rotate(0 531.1 244.5)"/><ellipse cx="520.1" cy="224.9" rx="3.2" ry="3.2" fill="#16de16" opacity="1" transform="rotate(0 520.1 224.9)"/><ellipse cx="524.5" cy="235.6" rx="2.9" ry="2.9" fill="#16de16" opacity="1" transform="rotate(0 524.5 235.6)"/><ellipse cx="517.2" cy="213.1" rx="1.7" ry="1.7" fill="#16de16" opacity="1" transform="rotate(0 517.2 213.1)"/><ellipse cx="521.2" cy="244.1" rx="1.0" ry="1.0" fill="#1a9a10" opacity="0.7" transform="rotate(0 521.2 244.1)"/><ellipse cx="539" cy="223" rx="1" ry="1" fill="#1a9a10" opacity="0.4" transform="rotate(0 539 223)"/></g></g>
<g clip-path="url(#tc04)"><g filter="url(#bl3)"><ellipse cx="596" cy="232" rx="22" ry="18" fill="#0a3006" opacity="0.45" transform="rotate(0 596 232)"/></g></g>
<g clip-path="url(#tc04)"><g filter="url(#bl4)"><ellipse cx="591.5" cy="225.5" rx="10.3" ry="10.3" fill="url(#gb)" opacity="1" transform="rotate(0 591.5 225.5)"/></g></g>
<g clip-path="url(#tc04)"><g filter="url(#bl4)"><ellipse cx="583.9" cy="239.8" rx="2.9" ry="2.9" fill="#17a010" opacity="0.8" transform="rotate(0 583.9 239.8)"/><ellipse cx="592.0" cy="240.1" rx="3.2" ry="3.2" fill="#17a010" opacity="0.8" transform="rotate(0 592.0 240.1)"/><ellipse cx="609.2" cy="235.0" rx="3.2" ry="3.2" fill="#17a010" opacity="0.8" transform="rotate(0 609.2 235.0)"/><ellipse cx="610.1" cy="242.6" rx="3.0" ry="3.0" fill="#17a010" opacity="0.8" transform="rotate(0 610.1 242.6)"/><ellipse cx="601.6" cy="245.5" rx="2.5" ry="2.5" fill="#17a010" opacity="0.8" transform="rotate(0 601.6 245.5)"/><ellipse cx="577.2" cy="229.3" rx="1.5" ry="1.5" fill="#128a0c" opacity="0.6" transform="rotate(0 577.2 229.3)"/></g></g>
<g clip-path="url(#tc05)"><g filter="url(#bl3)"><ellipse cx="659" cy="228" rx="22" ry="21" fill="#0c4408" opacity="0.7" transform="rotate(0 659 228)"/></g></g>
<g clip-path="url(#tc05)"><g filter="url(#bl4)"><ellipse cx="661.6" cy="229.3" rx="12.0" ry="10.8" fill="url(#gb)" opacity="1" transform="rotate(0 661.6 229.3)"/><ellipse cx="652.0" cy="230.5" rx="5.0" ry="5.0" fill="#12d412" opacity="1" transform="rotate(0 652.0 230.5)"/></g></g>
<g clip-path="url(#tc05)"><g filter="url(#bl4)"><ellipse cx="638.1" cy="220.7" rx="3.0" ry="3.0" fill="#17a010" opacity="0.8" transform="rotate(0 638.1 220.7)"/><ellipse cx="654.3" cy="211.2" rx="3.1" ry="3.1" fill="#17a010" opacity="0.8" transform="rotate(0 654.3 211.2)"/><ellipse cx="660.6" cy="207.4" rx="2.4" ry="2.4" fill="#17a010" opacity="0.8" transform="rotate(0 660.6 207.4)"/><ellipse cx="665.4" cy="213.1" rx="2.0" ry="2.0" fill="#17a010" opacity="0.8" transform="rotate(0 665.4 213.1)"/><ellipse cx="675.3" cy="215.6" rx="2.4" ry="2.4" fill="#17a010" opacity="0.8" transform="rotate(0 675.3 215.6)"/><ellipse cx="646.1" cy="212.1" rx="1.7" ry="1.7" fill="#17a010" opacity="0.8" transform="rotate(0 646.1 212.1)"/><ellipse cx="660.6" cy="246.4" rx="3.0" ry="3.0" fill="#17a010" opacity="0.8" transform="rotate(0 660.6 246.4)"/></g></g>
<g clip-path="url(#tc10)"><g filter="url(#bl1)"><ellipse cx="336.6" cy="292.5" rx="23.4" ry="25.2" fill="url(#gb)" opacity="1" transform="rotate(-20 336.6 292.5)"/></g></g>
<g clip-path="url(#tc10)"><g filter="url(#bl4)"><ellipse cx="328.8" cy="286.4" rx="4.0" ry="4.0" fill="#128a0c" opacity="0.4" transform="rotate(0 328.8 286.4)"/></g></g>
<g clip-path="url(#tc11)"><g filter="url(#bl1)"><ellipse cx="401.2" cy="293.7" rx="22.0" ry="21.5" fill="url(#gb)" opacity="1" transform="rotate(0 401.2 293.7)"/></g></g>
<g clip-path="url(#tc11)"><g filter="url(#bl4)"><ellipse cx="404.5" cy="297" rx="3.2" ry="3.2" fill="#128a0c" opacity="0.25" transform="rotate(0 404.5 297)"/></g></g>
<g clip-path="url(#tc12)"><g filter="url(#bl1)"><ellipse cx="467.3" cy="296.0" rx="22.0" ry="20.8" fill="url(#gb)" opacity="1" transform="rotate(0 467.3 296.0)"/><ellipse cx="465.5" cy="287" rx="14.8" ry="14.8" fill="#12d412" opacity="1" transform="rotate(0 465.5 287)"/></g></g>
<g clip-path="url(#tc12)"><g filter="url(#bl4)"><ellipse cx="462.6" cy="282.6" rx="3.6" ry="3.6" fill="#128a0c" opacity="0.5" transform="rotate(0 462.6 282.6)"/></g></g>
<g clip-path="url(#tc13)"><g filter="url(#bl1)"><ellipse cx="531.1" cy="296.9" rx="21.0" ry="19.6" fill="url(#gb)" opacity="1" transform="rotate(10 531.1 296.9)"/></g></g>
<g clip-path="url(#tc13)"><g filter="url(#bl4)"><ellipse cx="536.9" cy="289.3" rx="3.6" ry="3.6" fill="#128a0c" opacity="0.55" transform="rotate(0 536.9 289.3)"/></g></g>
<g clip-path="url(#tc14)"><g filter="url(#bl1)"><ellipse cx="596.0" cy="293.3" rx="19.4" ry="22.4" fill="url(#gb)" opacity="1" transform="rotate(-25 596.0 293.3)"/><ellipse cx="603" cy="285" rx="9" ry="9" fill="#12d412" opacity="1" transform="rotate(0 603 285)"/><ellipse cx="589" cy="302" rx="9" ry="9" fill="#12d412" opacity="1" transform="rotate(0 589 302)"/></g></g>
<g clip-path="url(#tc14)"><g filter="url(#bl4)"><ellipse cx="596.2" cy="300.7" rx="3.4" ry="3.4" fill="#128a0c" opacity="0.4" transform="rotate(0 596.2 300.7)"/></g></g>
<g clip-path="url(#tc15)"><g filter="url(#bl1)"><ellipse cx="661.2" cy="293.3" rx="22.2" ry="22.2" fill="url(#gb)" opacity="1" transform="rotate(0 661.2 293.3)"/><ellipse cx="668" cy="285" rx="10" ry="10" fill="#12d412" opacity="1" transform="rotate(0 668 285)"/><ellipse cx="654" cy="302" rx="10" ry="10" fill="#12d412" opacity="1" transform="rotate(0 654 302)"/></g></g>
<g clip-path="url(#tc15)"><g filter="url(#bl4)"><ellipse cx="656.2" cy="294.0" rx="3.6" ry="3.6" fill="#128a0c" opacity="0.4" transform="rotate(0 656.2 294.0)"/></g></g>
<rect x="356.20" y="255.20" width="8.40" height="2.80" fill="#ffffff"/>
<rect x="421.00" y="255.20" width="8.40" height="2.80" fill="#ffffff"/>
<rect x="485.40" y="255.20" width="8.40" height="2.80" fill="#ffffff"/>
<rect x="550.80" y="255.20" width="8.40" height="2.80" fill="#ffffff"/>
<rect x="615.20" y="255.20" width="8.40" height="2.80" fill="#ffffff"/>
<rect x="679.20" y="255.20" width="8.40" height="2.80" fill="#ffffff"/>
<rect x="356.20" y="319.90" width="8.40" height="2.80" fill="#ffffff"/>
<rect x="421.00" y="319.90" width="8.40" height="2.80" fill="#ffffff"/>
<rect x="485.40" y="319.90" width="8.40" height="2.80" fill="#ffffff"/>
<rect x="550.80" y="319.90" width="8.40" height="2.80" fill="#ffffff"/>
<rect x="615.20" y="319.90" width="8.40" height="2.80" fill="#ffffff"/>
<rect x="679.20" y="319.90" width="8.40" height="2.80" fill="#ffffff"/>
<text transform="translate(301.30 215.30) scale(0.9930 1)" font-size="8.4" fill="#3db53d" text-anchor="end">CRY2–nYFP</text>
<text transform="translate(301.30 228.50) scale(0.9891 1)" font-size="8.4" fill="#3db53d" text-anchor="end">FIO1–cYFP</text>
<text transform="translate(301.30 240.50) scale(1.0687 1)" font-size="8.4" fill="#222222" text-anchor="end">SPA1–mCherry</text>
<text transform="translate(301.30 284.20) scale(1.0229 1)" font-size="8.4" fill="#3db53d" text-anchor="end">CRY2<tspan font-size="5.60" dy="-3.40">P532L</tspan><tspan dy="3.40">–nYFP</tspan></text>
<text transform="translate(301.30 297.50) scale(0.9891 1)" font-size="8.4" fill="#3db53d" text-anchor="end">FIO1–cYFP</text>
<text transform="translate(301.30 309.80) scale(1.0687 1)" font-size="8.4" fill="#222222" text-anchor="end">SPA1–mCherry</text>
<text transform="translate(0.00 346.90) scale(0.9000 1)" font-size="13.2" fill="#000" font-weight="bold" stroke="#000" stroke-width="0.35">f</text>
<line x1="31.60" y1="394.30" x2="31.60" y2="504.20" stroke="#8a8a8a" stroke-width="0.6"/>
<line x1="31.60" y1="504.20" x2="160.40" y2="504.20" stroke="#8a8a8a" stroke-width="0.6"/>
<line x1="28.60" y1="504.20" x2="31.60" y2="504.20" stroke="#8a8a8a" stroke-width="0.6"/>
<text transform="translate(24.60 507.10)" font-size="8.15" fill="#222222" text-anchor="end">0</text>
<line x1="28.60" y1="473.00" x2="31.60" y2="473.00" stroke="#8a8a8a" stroke-width="0.6"/>
<text transform="translate(24.60 475.90)" font-size="8.15" fill="#222222" text-anchor="end">1</text>
<line x1="28.60" y1="441.80" x2="31.60" y2="441.80" stroke="#8a8a8a" stroke-width="0.6"/>
<text transform="translate(24.60 444.70)" font-size="8.15" fill="#222222" text-anchor="end">2</text>
<line x1="28.60" y1="410.60" x2="31.60" y2="410.60" stroke="#8a8a8a" stroke-width="0.6"/>
<text transform="translate(24.60 413.50)" font-size="8.15" fill="#222222" text-anchor="end">3</text>
<line x1="31.60" y1="504.20" x2="31.60" y2="507.20" stroke="#8a8a8a" stroke-width="0.6"/>
<text transform="translate(31.60 517.80)" font-size="8.15" fill="#222222" text-anchor="middle">0</text>
<line x1="63.80" y1="504.20" x2="63.80" y2="507.20" stroke="#8a8a8a" stroke-width="0.6"/>
<text transform="translate(63.80 517.80)" font-size="8.15" fill="#222222" text-anchor="middle">1</text>
<line x1="96.00" y1="504.20" x2="96.00" y2="507.20" stroke="#8a8a8a" stroke-width="0.6"/>
<text transform="translate(96.00 517.80)" font-size="8.15" fill="#222222" text-anchor="middle">2</text>
<line x1="128.20" y1="504.20" x2="128.20" y2="507.20" stroke="#8a8a8a" stroke-width="0.6"/>
<text transform="translate(128.20 517.80)" font-size="8.15" fill="#222222" text-anchor="middle">3</text>
<line x1="160.40" y1="504.20" x2="160.40" y2="507.20" stroke="#8a8a8a" stroke-width="0.6"/>
<text transform="translate(160.40 517.80)" font-size="8.15" fill="#222222" text-anchor="middle">4</text>
<text transform="translate(11.80 449.60) rotate(-90) scale(0.9516 1)" font-size="9.5" fill="#222222" text-anchor="middle">Luminescence (×10<tspan font-size="6.08" dy="-3.99">5</tspan><tspan dy="3.99">) (RLU)</tspan></text>
<text transform="translate(96.00 531.20) scale(0.9984 1)" font-size="9.5" fill="#222222" text-anchor="middle">RNA concentration (µM)</text>
<path d="M33.6,496.3V501.8M32.6,496.3h2M32.6,501.8h2" stroke="#9f9f9f" stroke-width="0.5" fill="none"/>
<path d="M32.29,499.02 L33.61,500.34 L34.93,499.02 L33.61,497.70 Z" fill="#fff" stroke="#9f9f9f" stroke-width="0.5" fill-opacity="0.75"/>
<path d="M35.6,492.0V497.5M34.6,492.0h2M34.6,497.5h2" stroke="#9f9f9f" stroke-width="0.5" fill="none"/>
<path d="M34.30,494.76 L35.62,496.08 L36.95,494.76 L35.62,493.44 Z" fill="#fff" stroke="#9f9f9f" stroke-width="0.5" fill-opacity="0.75"/>
<path d="M39.7,483.7V489.2M38.7,483.7h2M38.7,489.2h2" stroke="#9f9f9f" stroke-width="0.5" fill="none"/>
<path d="M38.33,486.45 L39.65,487.77 L40.97,486.45 L39.65,485.13 Z" fill="#fff" stroke="#9f9f9f" stroke-width="0.5" fill-opacity="0.75"/>
<path d="M47.7,471.1V476.6M46.7,471.1h2M46.7,476.6h2" stroke="#9f9f9f" stroke-width="0.5" fill="none"/>
<path d="M46.38,473.83 L47.70,475.15 L49.02,473.83 L47.70,472.51 Z" fill="#fff" stroke="#9f9f9f" stroke-width="0.5" fill-opacity="0.75"/>
<path d="M63.8,456.7V462.2M62.8,456.7h2M62.8,462.2h2" stroke="#9f9f9f" stroke-width="0.5" fill="none"/>
<path d="M62.48,459.44 L63.80,460.76 L65.12,459.44 L63.80,458.12 Z" fill="#fff" stroke="#9f9f9f" stroke-width="0.5" fill-opacity="0.75"/>
<path d="M96.0,440.1V445.6M95.0,440.1h2M95.0,445.6h2" stroke="#9f9f9f" stroke-width="0.5" fill="none"/>
<path d="M94.68,442.88 L96.00,444.20 L97.32,442.88 L96.00,441.56 Z" fill="#fff" stroke="#9f9f9f" stroke-width="0.5" fill-opacity="0.75"/>
<path d="M160.4,430.9V434.0M159.4,430.9h2M159.4,434.0h2" stroke="#9f9f9f" stroke-width="0.5" fill="none"/>
<path d="M159.08,432.44 L160.40,433.76 L161.72,432.44 L160.40,431.12 Z" fill="#fff" stroke="#9f9f9f" stroke-width="0.5" fill-opacity="0.75"/>
<path d="M31.60,504.20 L31.72,503.89 L31.95,503.26 L32.27,502.42 L32.67,501.41 L33.13,500.26 L33.64,499.00 L34.21,497.66 L34.84,496.23 L35.51,494.75 L36.22,493.22 L36.99,491.66 L37.79,490.07 L38.64,488.47 L39.52,486.86 L40.45,485.26 L41.41,483.66 L42.41,482.07 L43.44,480.49 L44.51,478.94 L45.62,477.41 L46.75,475.90 L47.92,474.42 L49.13,472.97 L50.36,471.55 L51.63,470.16 L52.93,468.81 L54.25,467.48 L55.61,466.19 L57.00,464.93 L58.41,463.71 L59.86,462.51 L61.33,461.35 L62.83,460.22 L64.36,459.12 L65.91,458.06 L67.50,457.02 L69.11,456.01 L70.74,455.03 L72.40,454.08 L74.09,453.16 L75.80,452.26 L77.54,451.39 L79.30,450.55 L81.09,449.73 L82.90,448.93 L84.74,448.16 L86.60,447.41 L88.48,446.68 L90.39,445.97 L92.32,445.28 L94.27,444.61 L96.25,443.96 L98.25,443.33 L100.28,442.72 L102.32,442.12 L104.39,441.54 L106.48,440.98 L108.59,440.43 L110.73,439.90 L112.89,439.38 L115.06,438.87 L117.26,438.38 L119.49,437.91 L121.73,437.44 L123.99,436.99 L126.28,436.55 L128.58,436.12 L130.91,435.70 L133.26,435.30 L135.62,434.90 L138.01,434.51 L140.42,434.14 L142.85,433.77 L145.30,433.41 L147.76,433.06 L150.25,432.72 L152.76,432.39 L155.29,432.07 L157.83,431.75 L160.40,431.44" fill="none" stroke="#8a8a8a" stroke-width="1.3" stroke-linejoin="round" stroke-linecap="round"/>
<path d="M33.6,495.0V500.4M32.6,495.0h2M32.6,500.4h2" stroke="#f9b244" stroke-width="0.5" fill="none"/>
<rect x="32.51" y="496.62" width="2.21" height="2.21" fill="#fff" stroke="#f9b244" stroke-width="0.5" fill-opacity="0.75"/>
<path d="M35.6,490.0V495.4M34.6,490.0h2M34.6,495.4h2" stroke="#f9b244" stroke-width="0.5" fill="none"/>
<rect x="34.52" y="491.60" width="2.21" height="2.21" fill="#fff" stroke="#f9b244" stroke-width="0.5" fill-opacity="0.75"/>
<path d="M39.7,478.6V484.9M38.7,478.6h2M38.7,484.9h2" stroke="#f9b244" stroke-width="0.5" fill="none"/>
<rect x="38.55" y="480.63" width="2.21" height="2.21" fill="#fff" stroke="#f9b244" stroke-width="0.5" fill-opacity="0.75"/>
<path d="M47.7,469.9V476.1M46.7,469.9h2M46.7,476.1h2" stroke="#f9b244" stroke-width="0.5" fill="none"/>
<rect x="46.60" y="471.90" width="2.21" height="2.21" fill="#fff" stroke="#f9b244" stroke-width="0.5" fill-opacity="0.75"/>
<path d="M63.8,454.3V460.5M62.8,454.3h2M62.8,460.5h2" stroke="#f9b244" stroke-width="0.5" fill="none"/>
<rect x="62.70" y="456.30" width="2.21" height="2.21" fill="#fff" stroke="#f9b244" stroke-width="0.5" fill-opacity="0.75"/>
<path d="M96.0,440.2V443.4M95.0,440.2h2M95.0,443.4h2" stroke="#f9b244" stroke-width="0.5" fill="none"/>
<rect x="94.90" y="440.70" width="2.21" height="2.21" fill="#fff" stroke="#f9b244" stroke-width="0.5" fill-opacity="0.75"/>
<path d="M160.4,426.5V428.4M159.4,426.5h2M159.4,428.4h2" stroke="#f9b244" stroke-width="0.5" fill="none"/>
<rect x="159.30" y="426.34" width="2.21" height="2.21" fill="#fff" stroke="#f9b244" stroke-width="0.5" fill-opacity="0.75"/>
<path d="M31.60,504.20 L31.72,503.80 L31.95,503.01 L32.27,501.96 L32.67,500.70 L33.13,499.28 L33.64,497.73 L34.21,496.08 L34.84,494.36 L35.51,492.59 L36.22,490.78 L36.99,488.94 L37.79,487.10 L38.64,485.26 L39.52,483.43 L40.45,481.62 L41.41,479.83 L42.41,478.08 L43.44,476.36 L44.51,474.67 L45.62,473.03 L46.75,471.42 L47.92,469.87 L49.13,468.35 L50.36,466.88 L51.63,465.45 L52.93,464.07 L54.25,462.73 L55.61,461.44 L57.00,460.19 L58.41,458.97 L59.86,457.80 L61.33,456.67 L62.83,455.58 L64.36,454.52 L65.91,453.50 L67.50,452.52 L69.11,451.57 L70.74,450.65 L72.40,449.76 L74.09,448.90 L75.80,448.07 L77.54,447.27 L79.30,446.50 L81.09,445.75 L82.90,445.03 L84.74,444.33 L86.60,443.66 L88.48,443.00 L90.39,442.37 L92.32,441.76 L94.27,441.17 L96.25,440.60 L98.25,440.04 L100.28,439.51 L102.32,438.98 L104.39,438.48 L106.48,437.99 L108.59,437.52 L110.73,437.06 L112.89,436.61 L115.06,436.18 L117.26,435.76 L119.49,435.36 L121.73,434.96 L123.99,434.58 L126.28,434.20 L128.58,433.84 L130.91,433.49 L133.26,433.15 L135.62,432.82 L138.01,432.49 L140.42,432.18 L142.85,431.87 L145.30,431.58 L147.76,431.29 L150.25,431.00 L152.76,430.73 L155.29,430.46 L157.83,430.20 L160.40,429.95" fill="none" stroke="#f8a21c" stroke-width="1.4" stroke-linejoin="round" stroke-linecap="round"/>
<path d="M33.6,496.1V501.8M32.6,496.1h2M32.6,501.8h2" stroke="#7b44ce" stroke-width="0.5" fill="none"/>
<circle cx="33.61" cy="498.94" r="1.20" fill="#fff" stroke="#7b44ce" stroke-width="0.5" fill-opacity="0.75"/>
<path d="M35.6,491.5V497.2M34.6,491.5h2M34.6,497.2h2" stroke="#7b44ce" stroke-width="0.5" fill="none"/>
<circle cx="35.62" cy="494.34" r="1.20" fill="#fff" stroke="#7b44ce" stroke-width="0.5" fill-opacity="0.75"/>
<path d="M39.7,486.4V489.5M38.7,486.4h2M38.7,489.5h2" stroke="#7b44ce" stroke-width="0.5" fill="none"/>
<circle cx="39.65" cy="487.98" r="1.20" fill="#fff" stroke="#7b44ce" stroke-width="0.5" fill-opacity="0.75"/>
<path d="M47.7,476.7V480.5M46.7,476.7h2M46.7,480.5h2" stroke="#7b44ce" stroke-width="0.5" fill="none"/>
<circle cx="47.70" cy="478.62" r="1.20" fill="#fff" stroke="#7b44ce" stroke-width="0.5" fill-opacity="0.75"/>
<path d="M63.8,454.9V467.4M62.8,454.9h2M62.8,467.4h2" stroke="#7b44ce" stroke-width="0.5" fill="none"/>
<circle cx="63.80" cy="461.14" r="1.20" fill="#fff" stroke="#7b44ce" stroke-width="0.5" fill-opacity="0.75"/>
<path d="M96.0,435.9V438.4M95.0,435.9h2M95.0,438.4h2" stroke="#7b44ce" stroke-width="0.5" fill="none"/>
<circle cx="96.00" cy="437.12" r="1.20" fill="#fff" stroke="#7b44ce" stroke-width="0.5" fill-opacity="0.75"/>
<path d="M160.4,429.3V435.6M159.4,429.3h2M159.4,435.6h2" stroke="#7b44ce" stroke-width="0.5" fill="none"/>
<circle cx="160.40" cy="432.44" r="1.20" fill="#fff" stroke="#7b44ce" stroke-width="0.5" fill-opacity="0.75"/>
<path d="M31.60,504.20 L31.72,503.89 L31.95,503.26 L32.27,502.41 L32.67,501.39 L33.13,500.24 L33.64,498.97 L34.21,497.61 L34.84,496.17 L35.51,494.67 L36.22,493.13 L36.99,491.55 L37.79,489.94 L38.64,488.32 L39.52,486.68 L40.45,485.05 L41.41,483.42 L42.41,481.80 L43.44,480.20 L44.51,478.61 L45.62,477.04 L46.75,475.50 L47.92,473.99 L49.13,472.50 L50.36,471.04 L51.63,469.62 L52.93,468.22 L54.25,466.86 L55.61,465.53 L57.00,464.23 L58.41,462.97 L59.86,461.74 L61.33,460.54 L62.83,459.37 L64.36,458.23 L65.91,457.13 L67.50,456.06 L69.11,455.01 L70.74,454.00 L72.40,453.01 L74.09,452.05 L75.80,451.12 L77.54,450.21 L79.30,449.33 L81.09,448.48 L82.90,447.65 L84.74,446.84 L86.60,446.06 L88.48,445.30 L90.39,444.56 L92.32,443.84 L94.27,443.14 L96.25,442.46 L98.25,441.80 L100.28,441.16 L102.32,440.54 L104.39,439.93 L106.48,439.34 L108.59,438.76 L110.73,438.21 L112.89,437.66 L115.06,437.13 L117.26,436.62 L119.49,436.12 L121.73,435.63 L123.99,435.15 L126.28,434.69 L128.58,434.24 L130.91,433.80 L133.26,433.37 L135.62,432.96 L138.01,432.55 L140.42,432.15 L142.85,431.77 L145.30,431.39 L147.76,431.02 L150.25,430.66 L152.76,430.32 L155.29,429.97 L157.83,429.64 L160.40,429.32" fill="none" stroke="#5f1cc4" stroke-width="1.5" stroke-linejoin="round" stroke-linecap="round"/>
<path d="M33.6,488.6V495.8M32.6,488.6h2M32.6,495.8h2" stroke="#9bd146" stroke-width="0.5" fill="none"/>
<path d="M32.29,493.26 L34.93,493.26 L33.61,490.92 Z" fill="#fff" stroke="#9bd146" stroke-width="0.5" fill-opacity="0.75"/>
<path d="M35.6,476.1V483.6M34.6,476.1h2M34.6,483.6h2" stroke="#9bd146" stroke-width="0.5" fill="none"/>
<path d="M34.30,480.88 L36.95,480.88 L35.62,478.54 Z" fill="#fff" stroke="#9bd146" stroke-width="0.5" fill-opacity="0.75"/>
<path d="M39.7,465.2V471.4M38.7,465.2h2M38.7,471.4h2" stroke="#9bd146" stroke-width="0.5" fill="none"/>
<path d="M38.33,469.34 L40.97,469.34 L39.65,467.00 Z" fill="#fff" stroke="#9bd146" stroke-width="0.5" fill-opacity="0.75"/>
<path d="M47.7,443.7V446.2M46.7,443.7h2M46.7,446.2h2" stroke="#9bd146" stroke-width="0.5" fill="none"/>
<path d="M46.38,445.94 L49.02,445.94 L47.70,443.60 Z" fill="#fff" stroke="#9bd146" stroke-width="0.5" fill-opacity="0.75"/>
<path d="M63.8,424.3V429.3M62.8,424.3h2M62.8,429.3h2" stroke="#9bd146" stroke-width="0.5" fill="none"/>
<path d="M62.48,427.84 L65.12,427.84 L63.80,425.50 Z" fill="#fff" stroke="#9bd146" stroke-width="0.5" fill-opacity="0.75"/>
<path d="M96.0,408.7V413.7M95.0,408.7h2M95.0,413.7h2" stroke="#9bd146" stroke-width="0.5" fill="none"/>
<path d="M94.68,412.24 L97.32,412.24 L96.00,409.90 Z" fill="#fff" stroke="#9bd146" stroke-width="0.5" fill-opacity="0.75"/>
<path d="M160.4,397.2V399.1M159.4,397.2h2M159.4,399.1h2" stroke="#9bd146" stroke-width="0.5" fill="none"/>
<path d="M159.08,399.14 L161.72,399.14 L160.40,396.80 Z" fill="#fff" stroke="#9bd146" stroke-width="0.5" fill-opacity="0.75"/>
<path d="M31.60,504.20 L31.72,503.42 L31.95,501.88 L32.27,499.84 L32.67,497.43 L33.13,494.75 L33.64,491.88 L34.21,488.88 L34.84,485.79 L35.51,482.65 L36.22,479.51 L36.99,476.39 L37.79,473.30 L38.64,470.27 L39.52,467.31 L40.45,464.43 L41.41,461.64 L42.41,458.94 L43.44,456.33 L44.51,453.82 L45.62,451.40 L46.75,449.08 L47.92,446.86 L49.13,444.72 L50.36,442.68 L51.63,440.72 L52.93,438.84 L54.25,437.05 L55.61,435.33 L57.00,433.69 L58.41,432.12 L59.86,430.62 L61.33,429.18 L62.83,427.80 L64.36,426.48 L65.91,425.22 L67.50,424.00 L69.11,422.84 L70.74,421.73 L72.40,420.67 L74.09,419.64 L75.80,418.66 L77.54,417.72 L79.30,416.82 L81.09,415.95 L82.90,415.11 L84.74,414.31 L86.60,413.54 L88.48,412.80 L90.39,412.08 L92.32,411.39 L94.27,410.73 L96.25,410.09 L98.25,409.48 L100.28,408.88 L102.32,408.31 L104.39,407.76 L106.48,407.22 L108.59,406.71 L110.73,406.21 L112.89,405.73 L115.06,405.26 L117.26,404.81 L119.49,404.38 L121.73,403.96 L123.99,403.55 L126.28,403.15 L128.58,402.77 L130.91,402.40 L133.26,402.04 L135.62,401.69 L138.01,401.35 L140.42,401.02 L142.85,400.71 L145.30,400.40 L147.76,400.10 L150.25,399.80 L152.76,399.52 L155.29,399.24 L157.83,398.98 L160.40,398.72" fill="none" stroke="#86c81e" stroke-width="1.5" stroke-linejoin="round" stroke-linecap="round"/>
<line x1="37.90" y1="363.90" x2="48.70" y2="363.90" stroke="#5f1cc4" stroke-width="1.2"/>
<circle cx="43.30" cy="363.90" r="1.20" fill="#fff" stroke="#5f1cc4" stroke-width="0.5" fill-opacity="0.75"/>
<text transform="translate(51.70 367.10) scale(0.8466 1)" font-size="9.3" fill="#222222">FIO1</text>
<line x1="37.90" y1="374.30" x2="48.70" y2="374.30" stroke="#f8a21c" stroke-width="1.2"/>
<rect x="42.20" y="373.20" width="2.21" height="2.21" fill="#fff" stroke="#f8a21c" stroke-width="0.5" fill-opacity="0.75"/>
<text transform="translate(51.70 377.50) scale(0.8933 1)" font-size="9.3" fill="#222222">FIO1 + SPA1<tspan font-size="6.70" dy="-3.90">NKD</tspan></text>
<line x1="37.90" y1="384.90" x2="48.70" y2="384.90" stroke="#86c81e" stroke-width="1.2"/>
<path d="M41.98,385.92 L44.62,385.92 L43.30,383.58 Z" fill="#fff" stroke="#86c81e" stroke-width="0.5" fill-opacity="0.75"/>
<text transform="translate(51.70 388.10) scale(0.8867 1)" font-size="9.3" fill="#222222">FIO1 + SPA1<tspan font-size="6.70" dy="-3.90">WD</tspan></text>
<line x1="37.90" y1="395.20" x2="48.70" y2="395.20" stroke="#8a8a8a" stroke-width="0.9"/>
<path d="M41.98,395.20 L43.30,396.52 L44.62,395.20 L43.30,393.88 Z" fill="#fff" stroke="#8a8a8a" stroke-width="0.5" fill-opacity="0.75"/>
<text transform="translate(51.70 398.40) scale(0.9009 1)" font-size="9.3" fill="#222222">FIO1 + SPA1<tspan font-size="6.70" dy="-3.90">WD847</tspan></text>
<line x1="106.80" y1="407.30" x2="106.80" y2="436.80" stroke="#444" stroke-width="0.5" stroke-dasharray="1.2 1"/>
<line x1="105.50" y1="407.30" x2="108.10" y2="407.30" stroke="#444" stroke-width="0.6"/>
<line x1="105.50" y1="436.80" x2="108.10" y2="436.80" stroke="#444" stroke-width="0.6"/>
<text transform="translate(109.70 424.20)" font-size="6.8" fill="#222222"><tspan font-style="italic" dy="-0.00">P</tspan> = 1.95 × 10<tspan font-size="4.20" dy="-3.20">–6</tspan></text>
<text transform="translate(172.20 346.90) scale(0.9300 1)" font-size="13.2" fill="#000" font-weight="bold" stroke="#000" stroke-width="0.35">h</text>
<line x1="204.50" y1="400.80" x2="204.50" y2="504.90" stroke="#8a8a8a" stroke-width="0.6"/>
<line x1="204.50" y1="504.90" x2="333.50" y2="504.90" stroke="#8a8a8a" stroke-width="0.6"/>
<line x1="201.50" y1="504.90" x2="204.50" y2="504.90" stroke="#8a8a8a" stroke-width="0.6"/>
<text transform="translate(197.50 507.80)" font-size="8.15" fill="#222222" text-anchor="end">0</text>
<line x1="201.50" y1="473.40" x2="204.50" y2="473.40" stroke="#8a8a8a" stroke-width="0.6"/>
<text transform="translate(197.50 476.30)" font-size="8.15" fill="#222222" text-anchor="end">1</text>
<line x1="201.50" y1="441.90" x2="204.50" y2="441.90" stroke="#8a8a8a" stroke-width="0.6"/>
<text transform="translate(197.50 444.80)" font-size="8.15" fill="#222222" text-anchor="end">2</text>
<line x1="201.50" y1="410.40" x2="204.50" y2="410.40" stroke="#8a8a8a" stroke-width="0.6"/>
<text transform="translate(197.50 413.30)" font-size="8.15" fill="#222222" text-anchor="end">3</text>
<line x1="204.50" y1="504.90" x2="204.50" y2="507.90" stroke="#8a8a8a" stroke-width="0.6"/>
<text transform="translate(204.50 518.50)" font-size="8.15" fill="#222222" text-anchor="middle">0</text>
<line x1="236.75" y1="504.90" x2="236.75" y2="507.90" stroke="#8a8a8a" stroke-width="0.6"/>
<text transform="translate(236.75 518.50)" font-size="8.15" fill="#222222" text-anchor="middle">1</text>
<line x1="269.00" y1="504.90" x2="269.00" y2="507.90" stroke="#8a8a8a" stroke-width="0.6"/>
<text transform="translate(269.00 518.50)" font-size="8.15" fill="#222222" text-anchor="middle">2</text>
<line x1="301.25" y1="504.90" x2="301.25" y2="507.90" stroke="#8a8a8a" stroke-width="0.6"/>
<text transform="translate(301.25 518.50)" font-size="8.15" fill="#222222" text-anchor="middle">3</text>
<line x1="333.50" y1="504.90" x2="333.50" y2="507.90" stroke="#8a8a8a" stroke-width="0.6"/>
<text transform="translate(333.50 518.50)" font-size="8.15" fill="#222222" text-anchor="middle">4</text>
<text transform="translate(184.40 452.50) rotate(-90) scale(0.9516 1)" font-size="9.5" fill="#222222" text-anchor="middle">Luminescence (×10<tspan font-size="6.08" dy="-3.99">5</tspan><tspan dy="3.99">) (RLU)</tspan></text>
<text transform="translate(269.20 531.00) scale(0.9984 1)" font-size="9.5" fill="#222222" text-anchor="middle">RNA concentration (µM)</text>
<text transform="translate(213.60 418.20) scale(0.9318 1)" font-size="9.5" fill="#222222">AAACU</text>
<path d="M206.5,503.0V505.2M205.5,503.0h2M205.5,505.2h2" stroke="#ac44e5" stroke-width="0.5" fill="none"/>
<circle cx="206.52" cy="504.10" r="1.20" fill="#fff" stroke="#ac44e5" stroke-width="0.5" fill-opacity="0.75"/>
<path d="M208.5,502.2V504.3M207.5,502.2h2M207.5,504.3h2" stroke="#ac44e5" stroke-width="0.5" fill="none"/>
<circle cx="208.53" cy="503.23" r="1.20" fill="#fff" stroke="#ac44e5" stroke-width="0.5" fill-opacity="0.75"/>
<path d="M212.6,500.7V502.9M211.6,500.7h2M211.6,502.9h2" stroke="#ac44e5" stroke-width="0.5" fill="none"/>
<circle cx="212.56" cy="501.80" r="1.20" fill="#fff" stroke="#ac44e5" stroke-width="0.5" fill-opacity="0.75"/>
<path d="M220.6,498.0V500.2M219.6,498.0h2M219.6,500.2h2" stroke="#ac44e5" stroke-width="0.5" fill="none"/>
<circle cx="220.62" cy="499.09" r="1.20" fill="#fff" stroke="#ac44e5" stroke-width="0.5" fill-opacity="0.75"/>
<path d="M236.8,493.7V495.8M235.8,493.7h2M235.8,495.8h2" stroke="#ac44e5" stroke-width="0.5" fill="none"/>
<circle cx="236.75" cy="494.78" r="1.20" fill="#fff" stroke="#ac44e5" stroke-width="0.5" fill-opacity="0.75"/>
<path d="M269.0,491.0V492.3M268.0,491.0h2M268.0,492.3h2" stroke="#ac44e5" stroke-width="0.5" fill="none"/>
<circle cx="269.00" cy="491.67" r="1.20" fill="#fff" stroke="#ac44e5" stroke-width="0.5" fill-opacity="0.75"/>
<path d="M333.5,481.6V482.8M332.5,481.6h2M332.5,482.8h2" stroke="#ac44e5" stroke-width="0.5" fill="none"/>
<circle cx="333.50" cy="482.22" r="1.20" fill="#fff" stroke="#ac44e5" stroke-width="0.5" fill-opacity="0.75"/>
<path d="M204.50,504.90 L204.62,504.85 L204.85,504.75 L205.17,504.62 L205.57,504.45 L206.03,504.27 L206.54,504.06 L207.12,503.83 L207.74,503.58 L208.41,503.32 L209.13,503.05 L209.89,502.76 L210.70,502.46 L211.55,502.16 L212.43,501.84 L213.36,501.52 L214.32,501.19 L215.32,500.86 L216.36,500.52 L217.43,500.17 L218.54,499.83 L219.68,499.48 L220.85,499.13 L222.06,498.78 L223.29,498.42 L224.56,498.07 L225.86,497.72 L227.19,497.37 L228.55,497.02 L229.94,496.67 L231.36,496.32 L232.80,495.97 L234.28,495.63 L235.78,495.29 L237.31,494.95 L238.87,494.62 L240.45,494.28 L242.06,493.96 L243.70,493.63 L245.36,493.31 L247.05,492.99 L248.77,492.68 L250.51,492.37 L252.27,492.06 L254.06,491.76 L255.88,491.46 L257.72,491.17 L259.58,490.88 L261.47,490.59 L263.38,490.31 L265.31,490.03 L267.27,489.76 L269.25,489.49 L271.26,489.22 L273.28,488.96 L275.33,488.70 L277.40,488.45 L279.50,488.20 L281.61,487.95 L283.75,487.71 L285.91,487.47 L288.09,487.24 L290.30,487.01 L292.52,486.78 L294.77,486.56 L297.04,486.34 L299.32,486.13 L301.63,485.91 L303.96,485.71 L306.31,485.50 L308.68,485.30 L311.08,485.10 L313.49,484.91 L315.92,484.72 L318.37,484.53 L320.84,484.34 L323.34,484.16 L325.85,483.98 L328.38,483.80 L330.93,483.63 L333.50,483.46" fill="none" stroke="#9a1be0" stroke-width="1.3" stroke-linejoin="round" stroke-linecap="round"/>
<path d="M206.5,502.6V505.1M205.5,502.6h2M205.5,505.1h2" stroke="#919191" stroke-width="0.5" fill="none"/>
<path d="M205.20,504.92 L207.84,504.92 L206.52,502.58 Z" fill="#fff" stroke="#919191" stroke-width="0.5" fill-opacity="0.75"/>
<path d="M208.5,501.7V504.2M207.5,501.7h2M207.5,504.2h2" stroke="#919191" stroke-width="0.5" fill="none"/>
<path d="M207.21,503.93 L209.85,503.93 L208.53,501.59 Z" fill="#fff" stroke="#919191" stroke-width="0.5" fill-opacity="0.75"/>
<path d="M212.6,500.0V502.5M211.6,500.0h2M211.6,502.5h2" stroke="#919191" stroke-width="0.5" fill="none"/>
<path d="M211.24,502.26 L213.88,502.26 L212.56,499.92 Z" fill="#fff" stroke="#919191" stroke-width="0.5" fill-opacity="0.75"/>
<path d="M220.6,496.7V499.2M219.6,496.7h2M219.6,499.2h2" stroke="#919191" stroke-width="0.5" fill="none"/>
<path d="M219.31,498.98 L221.94,498.98 L220.62,496.64 Z" fill="#fff" stroke="#919191" stroke-width="0.5" fill-opacity="0.75"/>
<path d="M236.8,492.0V494.5M235.8,492.0h2M235.8,494.5h2" stroke="#919191" stroke-width="0.5" fill="none"/>
<path d="M235.43,494.31 L238.07,494.31 L236.75,491.97 Z" fill="#fff" stroke="#919191" stroke-width="0.5" fill-opacity="0.75"/>
<path d="M269.0,484.8V487.3M268.0,484.8h2M268.0,487.3h2" stroke="#919191" stroke-width="0.5" fill="none"/>
<path d="M267.68,487.06 L270.32,487.06 L269.00,484.72 Z" fill="#fff" stroke="#919191" stroke-width="0.5" fill-opacity="0.75"/>
<path d="M333.5,477.2V479.1M332.5,477.2h2M332.5,479.1h2" stroke="#919191" stroke-width="0.5" fill="none"/>
<path d="M332.18,479.14 L334.82,479.14 L333.50,476.81 Z" fill="#fff" stroke="#919191" stroke-width="0.5" fill-opacity="0.75"/>
<path d="M204.50,504.90 L204.62,504.84 L204.85,504.72 L205.17,504.56 L205.57,504.37 L206.03,504.15 L206.54,503.90 L207.12,503.63 L207.74,503.34 L208.41,503.03 L209.13,502.70 L209.89,502.36 L210.70,502.01 L211.55,501.64 L212.43,501.27 L213.36,500.88 L214.32,500.49 L215.32,500.10 L216.36,499.69 L217.43,499.29 L218.54,498.87 L219.68,498.46 L220.85,498.05 L222.06,497.63 L223.29,497.21 L224.56,496.79 L225.86,496.37 L227.19,495.96 L228.55,495.54 L229.94,495.13 L231.36,494.72 L232.80,494.31 L234.28,493.90 L235.78,493.50 L237.31,493.10 L238.87,492.70 L240.45,492.31 L242.06,491.92 L243.70,491.53 L245.36,491.15 L247.05,490.78 L248.77,490.41 L250.51,490.04 L252.27,489.68 L254.06,489.32 L255.88,488.97 L257.72,488.62 L259.58,488.28 L261.47,487.94 L263.38,487.60 L265.31,487.28 L267.27,486.95 L269.25,486.63 L271.26,486.32 L273.28,486.01 L275.33,485.71 L277.40,485.41 L279.50,485.11 L281.61,484.82 L283.75,484.54 L285.91,484.26 L288.09,483.98 L290.30,483.71 L292.52,483.44 L294.77,483.18 L297.04,482.92 L299.32,482.67 L301.63,482.42 L303.96,482.17 L306.31,481.93 L308.68,481.69 L311.08,481.46 L313.49,481.23 L315.92,481.01 L318.37,480.78 L320.84,480.57 L323.34,480.35 L325.85,480.14 L328.38,479.93 L330.93,479.73 L333.50,479.53" fill="none" stroke="#7a7a7a" stroke-width="1.3" stroke-linejoin="round" stroke-linecap="round"/>
<path d="M206.5,499.7V502.5M205.5,499.7h2M205.5,502.5h2" stroke="#f8ac53" stroke-width="0.5" fill="none"/>
<rect x="205.41" y="500.01" width="2.21" height="2.21" fill="#fff" stroke="#f8ac53" stroke-width="0.5" fill-opacity="0.75"/>
<path d="M208.5,496.9V499.7M207.5,496.9h2M207.5,499.7h2" stroke="#f8ac53" stroke-width="0.5" fill="none"/>
<rect x="207.43" y="497.21" width="2.21" height="2.21" fill="#fff" stroke="#f8ac53" stroke-width="0.5" fill-opacity="0.75"/>
<path d="M212.6,492.0V494.8M211.6,492.0h2M211.6,494.8h2" stroke="#f8ac53" stroke-width="0.5" fill="none"/>
<rect x="211.46" y="492.29" width="2.21" height="2.21" fill="#fff" stroke="#f8ac53" stroke-width="0.5" fill-opacity="0.75"/>
<path d="M220.6,485.1V486.9M219.6,485.1h2M219.6,486.9h2" stroke="#f8ac53" stroke-width="0.5" fill="none"/>
<rect x="219.52" y="484.90" width="2.21" height="2.21" fill="#fff" stroke="#f8ac53" stroke-width="0.5" fill-opacity="0.75"/>
<path d="M236.8,475.0V478.1M235.8,475.0h2M235.8,478.1h2" stroke="#f8ac53" stroke-width="0.5" fill="none"/>
<rect x="235.65" y="475.45" width="2.21" height="2.21" fill="#fff" stroke="#f8ac53" stroke-width="0.5" fill-opacity="0.75"/>
<path d="M269.0,470.6V473.3M268.0,470.6h2M268.0,473.3h2" stroke="#f8ac53" stroke-width="0.5" fill="none"/>
<rect x="267.90" y="470.84" width="2.21" height="2.21" fill="#fff" stroke="#f8ac53" stroke-width="0.5" fill-opacity="0.75"/>
<path d="M333.5,467.1V469.0M332.5,467.1h2M332.5,469.0h2" stroke="#f8ac53" stroke-width="0.5" fill="none"/>
<rect x="332.40" y="466.94" width="2.21" height="2.21" fill="#fff" stroke="#f8ac53" stroke-width="0.5" fill-opacity="0.75"/>
<path d="M204.50,504.90 L204.62,504.67 L204.85,504.21 L205.17,503.60 L205.57,502.87 L206.03,502.06 L206.54,501.18 L207.12,500.24 L207.74,499.27 L208.41,498.27 L209.13,497.25 L209.89,496.23 L210.70,495.21 L211.55,494.20 L212.43,493.19 L213.36,492.21 L214.32,491.24 L215.32,490.29 L216.36,489.37 L217.43,488.47 L218.54,487.59 L219.68,486.74 L220.85,485.92 L222.06,485.13 L223.29,484.36 L224.56,483.62 L225.86,482.90 L227.19,482.21 L228.55,481.54 L229.94,480.90 L231.36,480.28 L232.80,479.69 L234.28,479.11 L235.78,478.56 L237.31,478.03 L238.87,477.51 L240.45,477.02 L242.06,476.54 L243.70,476.08 L245.36,475.64 L247.05,475.22 L248.77,474.81 L250.51,474.41 L252.27,474.03 L254.06,473.66 L255.88,473.31 L257.72,472.97 L259.58,472.63 L261.47,472.32 L263.38,472.01 L265.31,471.71 L267.27,471.42 L269.25,471.14 L271.26,470.88 L273.28,470.62 L275.33,470.37 L277.40,470.12 L279.50,469.89 L281.61,469.66 L283.75,469.44 L285.91,469.22 L288.09,469.02 L290.30,468.82 L292.52,468.62 L294.77,468.43 L297.04,468.25 L299.32,468.07 L301.63,467.90 L303.96,467.73 L306.31,467.57 L308.68,467.41 L311.08,467.26 L313.49,467.11 L315.92,466.97 L318.37,466.83 L320.84,466.69 L323.34,466.56 L325.85,466.43 L328.38,466.30 L330.93,466.18 L333.50,466.06" fill="none" stroke="#f79a2e" stroke-width="1.3" stroke-linejoin="round" stroke-linecap="round"/>
<path d="M206.5,500.5V503.7M205.5,500.5h2M205.5,503.7h2" stroke="#f45fd1" stroke-width="0.5" fill="none"/>
<path d="M205.20,501.09 L207.84,501.09 L206.52,503.43 Z" fill="#fff" stroke="#f45fd1" stroke-width="0.5" fill-opacity="0.75"/>
<path d="M208.5,498.2V501.4M207.5,498.2h2M207.5,501.4h2" stroke="#f45fd1" stroke-width="0.5" fill="none"/>
<path d="M207.21,498.79 L209.85,498.79 L208.53,501.13 Z" fill="#fff" stroke="#f45fd1" stroke-width="0.5" fill-opacity="0.75"/>
<path d="M212.6,493.8V497.1M211.6,493.8h2M211.6,497.1h2" stroke="#f45fd1" stroke-width="0.5" fill="none"/>
<path d="M211.24,494.44 L213.88,494.44 L212.56,496.78 Z" fill="#fff" stroke="#f45fd1" stroke-width="0.5" fill-opacity="0.75"/>
<path d="M220.6,487.6V490.8M219.6,487.6h2M219.6,490.8h2" stroke="#f45fd1" stroke-width="0.5" fill="none"/>
<path d="M219.31,488.21 L221.94,488.21 L220.62,490.55 Z" fill="#fff" stroke="#f45fd1" stroke-width="0.5" fill-opacity="0.75"/>
<path d="M236.8,481.0V483.5M235.8,481.0h2M235.8,483.5h2" stroke="#f45fd1" stroke-width="0.5" fill="none"/>
<path d="M235.43,481.20 L238.07,481.20 L236.75,483.54 Z" fill="#fff" stroke="#f45fd1" stroke-width="0.5" fill-opacity="0.75"/>
<path d="M269.0,466.2V468.0M268.0,466.2h2M268.0,468.0h2" stroke="#f45fd1" stroke-width="0.5" fill="none"/>
<path d="M267.68,466.08 L270.32,466.08 L269.00,468.42 Z" fill="#fff" stroke="#f45fd1" stroke-width="0.5" fill-opacity="0.75"/>
<path d="M333.5,461.8V465.1M332.5,461.8h2M332.5,465.1h2" stroke="#f45fd1" stroke-width="0.5" fill="none"/>
<path d="M332.18,462.43 L334.82,462.43 L333.50,464.77 Z" fill="#fff" stroke="#f45fd1" stroke-width="0.5" fill-opacity="0.75"/>
<path d="M204.50,504.90 L204.62,504.74 L204.85,504.41 L205.17,503.97 L205.57,503.44 L206.03,502.84 L206.54,502.17 L207.12,501.46 L207.74,500.71 L208.41,499.92 L209.13,499.10 L209.89,498.26 L210.70,497.41 L211.55,496.55 L212.43,495.67 L213.36,494.80 L214.32,493.93 L215.32,493.05 L216.36,492.19 L217.43,491.33 L218.54,490.48 L219.68,489.64 L220.85,488.82 L222.06,488.00 L223.29,487.21 L224.56,486.42 L225.86,485.65 L227.19,484.90 L228.55,484.17 L229.94,483.45 L231.36,482.75 L232.80,482.06 L234.28,481.39 L235.78,480.74 L237.31,480.10 L238.87,479.48 L240.45,478.88 L242.06,478.29 L243.70,477.72 L245.36,477.16 L247.05,476.62 L248.77,476.09 L250.51,475.57 L252.27,475.07 L254.06,474.59 L255.88,474.11 L257.72,473.65 L259.58,473.20 L261.47,472.77 L263.38,472.34 L265.31,471.93 L267.27,471.53 L269.25,471.14 L271.26,470.76 L273.28,470.39 L275.33,470.02 L277.40,469.67 L279.50,469.33 L281.61,469.00 L283.75,468.68 L285.91,468.36 L288.09,468.05 L290.30,467.75 L292.52,467.46 L294.77,467.18 L297.04,466.90 L299.32,466.63 L301.63,466.37 L303.96,466.11 L306.31,465.86 L308.68,465.61 L311.08,465.38 L313.49,465.14 L315.92,464.92 L318.37,464.70 L320.84,464.48 L323.34,464.27 L325.85,464.06 L328.38,463.86 L330.93,463.67 L333.50,463.48" fill="none" stroke="#f23dc8" stroke-width="1.3" stroke-linejoin="round" stroke-linecap="round"/>
<path d="M206.5,500.4V504.2M205.5,500.4h2M205.5,504.2h2" stroke="#40c292" stroke-width="0.5" fill="none"/>
<circle cx="206.52" cy="502.32" r="1.20" fill="#fff" stroke="#40c292" stroke-width="0.5" fill-opacity="0.75"/>
<path d="M208.5,498.0V501.9M207.5,498.0h2M207.5,501.9h2" stroke="#40c292" stroke-width="0.5" fill="none"/>
<circle cx="208.53" cy="499.96" r="1.20" fill="#fff" stroke="#40c292" stroke-width="0.5" fill-opacity="0.75"/>
<path d="M212.6,493.6V497.5M211.6,493.6h2M211.6,497.5h2" stroke="#40c292" stroke-width="0.5" fill="none"/>
<circle cx="212.56" cy="495.56" r="1.20" fill="#fff" stroke="#40c292" stroke-width="0.5" fill-opacity="0.75"/>
<path d="M220.6,486.7V490.5M219.6,486.7h2M219.6,490.5h2" stroke="#40c292" stroke-width="0.5" fill="none"/>
<circle cx="220.62" cy="488.59" r="1.20" fill="#fff" stroke="#40c292" stroke-width="0.5" fill-opacity="0.75"/>
<path d="M236.8,476.3V480.1M235.8,476.3h2M235.8,480.1h2" stroke="#40c292" stroke-width="0.5" fill="none"/>
<circle cx="236.75" cy="478.23" r="1.20" fill="#fff" stroke="#40c292" stroke-width="0.5" fill-opacity="0.75"/>
<path d="M269.0,465.7V469.5M268.0,465.7h2M268.0,469.5h2" stroke="#40c292" stroke-width="0.5" fill="none"/>
<circle cx="269.00" cy="467.60" r="1.20" fill="#fff" stroke="#40c292" stroke-width="0.5" fill-opacity="0.75"/>
<path d="M333.5,457.0V458.3M332.5,457.0h2M332.5,458.3h2" stroke="#40c292" stroke-width="0.5" fill="none"/>
<circle cx="333.50" cy="457.65" r="1.20" fill="#fff" stroke="#40c292" stroke-width="0.5" fill-opacity="0.75"/>
<path d="M204.50,504.90 L204.62,504.74 L204.85,504.43 L205.17,504.00 L205.57,503.49 L206.03,502.91 L206.54,502.26 L207.12,501.56 L207.74,500.82 L208.41,500.03 L209.13,499.22 L209.89,498.38 L210.70,497.52 L211.55,496.64 L212.43,495.75 L213.36,494.85 L214.32,493.94 L215.32,493.04 L216.36,492.13 L217.43,491.22 L218.54,490.32 L219.68,489.42 L220.85,488.53 L222.06,487.65 L223.29,486.78 L224.56,485.93 L225.86,485.08 L227.19,484.24 L228.55,483.42 L229.94,482.62 L231.36,481.83 L232.80,481.05 L234.28,480.28 L235.78,479.54 L237.31,478.80 L238.87,478.09 L240.45,477.38 L242.06,476.70 L243.70,476.02 L245.36,475.37 L247.05,474.72 L248.77,474.10 L250.51,473.48 L252.27,472.88 L254.06,472.30 L255.88,471.72 L257.72,471.17 L259.58,470.62 L261.47,470.09 L263.38,469.57 L265.31,469.06 L267.27,468.56 L269.25,468.08 L271.26,467.61 L273.28,467.14 L275.33,466.69 L277.40,466.25 L279.50,465.83 L281.61,465.41 L283.75,465.00 L285.91,464.60 L288.09,464.21 L290.30,463.83 L292.52,463.45 L294.77,463.09 L297.04,462.73 L299.32,462.39 L301.63,462.05 L303.96,461.72 L306.31,461.39 L308.68,461.08 L311.08,460.77 L313.49,460.46 L315.92,460.17 L318.37,459.88 L320.84,459.60 L323.34,459.32 L325.85,459.05 L328.38,458.79 L330.93,458.53 L333.50,458.28" fill="none" stroke="#17b57b" stroke-width="1.4" stroke-linejoin="round" stroke-linecap="round"/>
<path d="M206.5,493.1V500.5M205.5,493.1h2M205.5,500.5h2" stroke="#5fa8f6" stroke-width="0.5" fill="none"/>
<path d="M205.20,496.80 L206.52,498.12 L207.84,496.80 L206.52,495.48 Z" fill="#fff" stroke="#5fa8f6" stroke-width="0.5" fill-opacity="0.75"/>
<path d="M208.5,488.5V494.8M207.5,488.5h2M207.5,494.8h2" stroke="#5fa8f6" stroke-width="0.5" fill="none"/>
<path d="M207.21,491.67 L208.53,492.99 L209.85,491.67 L208.53,490.35 Z" fill="#fff" stroke="#5fa8f6" stroke-width="0.5" fill-opacity="0.75"/>
<path d="M212.6,475.6V477.5M211.6,475.6h2M211.6,477.5h2" stroke="#5fa8f6" stroke-width="0.5" fill="none"/>
<path d="M211.24,476.55 L212.56,477.87 L213.88,476.55 L212.56,475.23 Z" fill="#fff" stroke="#5fa8f6" stroke-width="0.5" fill-opacity="0.75"/>
<path d="M220.6,458.3V463.3M219.6,458.3h2M219.6,463.3h2" stroke="#5fa8f6" stroke-width="0.5" fill="none"/>
<path d="M219.31,460.80 L220.62,462.12 L221.94,460.80 L220.62,459.48 Z" fill="#fff" stroke="#5fa8f6" stroke-width="0.5" fill-opacity="0.75"/>
<path d="M236.8,440.3V443.5M235.8,440.3h2M235.8,443.5h2" stroke="#5fa8f6" stroke-width="0.5" fill="none"/>
<path d="M235.43,441.90 L236.75,443.22 L238.07,441.90 L236.75,440.58 Z" fill="#fff" stroke="#5fa8f6" stroke-width="0.5" fill-opacity="0.75"/>
<path d="M269.0,410.4V415.4M268.0,410.4h2M268.0,415.4h2" stroke="#5fa8f6" stroke-width="0.5" fill="none"/>
<path d="M267.68,412.92 L269.00,414.24 L270.32,412.92 L269.00,411.60 Z" fill="#fff" stroke="#5fa8f6" stroke-width="0.5" fill-opacity="0.75"/>
<path d="M333.5,405.4V409.1M332.5,405.4h2M332.5,409.1h2" stroke="#5fa8f6" stroke-width="0.5" fill="none"/>
<path d="M332.18,407.25 L333.50,408.57 L334.82,407.25 L333.50,405.93 Z" fill="#fff" stroke="#5fa8f6" stroke-width="0.5" fill-opacity="0.75"/>
<path d="M204.50,504.90 L204.62,504.42 L204.85,503.45 L205.17,502.16 L205.57,500.62 L206.03,498.87 L206.54,496.96 L207.12,494.92 L207.74,492.78 L208.41,490.56 L209.13,488.27 L209.89,485.96 L210.70,483.61 L211.55,481.26 L212.43,478.91 L213.36,476.57 L214.32,474.25 L215.32,471.96 L216.36,469.70 L217.43,467.48 L218.54,465.30 L219.68,463.17 L220.85,461.09 L222.06,459.06 L223.29,457.07 L224.56,455.14 L225.86,453.26 L227.19,451.44 L228.55,449.66 L229.94,447.94 L231.36,446.27 L232.80,444.65 L234.28,443.08 L235.78,441.56 L237.31,440.08 L238.87,438.65 L240.45,437.26 L242.06,435.92 L243.70,434.62 L245.36,433.36 L247.05,432.14 L248.77,430.96 L250.51,429.82 L252.27,428.71 L254.06,427.64 L255.88,426.60 L257.72,425.59 L259.58,424.61 L261.47,423.67 L263.38,422.75 L265.31,421.86 L267.27,421.00 L269.25,420.17 L271.26,419.36 L273.28,418.57 L275.33,417.81 L277.40,417.07 L279.50,416.35 L281.61,415.65 L283.75,414.98 L285.91,414.32 L288.09,413.68 L290.30,413.06 L292.52,412.46 L294.77,411.87 L297.04,411.30 L299.32,410.75 L301.63,410.21 L303.96,409.68 L306.31,409.17 L308.68,408.68 L311.08,408.19 L313.49,407.72 L315.92,407.26 L318.37,406.82 L320.84,406.38 L323.34,405.96 L325.85,405.55 L328.38,405.14 L330.93,404.75 L333.50,404.37" fill="none" stroke="#3d96f5" stroke-width="1.5" stroke-linejoin="round" stroke-linecap="round"/>
<line x1="207.10" y1="345.30" x2="215.80" y2="345.30" stroke="#5f1cc4" stroke-width="1.0"/>
<circle cx="211.45" cy="345.30" r="1.20" fill="#fff" stroke="#5f1cc4" stroke-width="0.5" fill-opacity="0.75"/>
<text transform="translate(219.00 348.50) scale(0.8273 1)" font-size="9.3" fill="#222222">FIO1</text>
<line x1="207.10" y1="355.40" x2="215.80" y2="355.40" stroke="#f79a2e" stroke-width="1.0"/>
<rect x="210.35" y="354.30" width="2.21" height="2.21" fill="#fff" stroke="#f79a2e" stroke-width="0.5" fill-opacity="0.75"/>
<text transform="translate(219.00 358.60) scale(0.8907 1)" font-size="9.3" fill="#222222">FIO1 + CRY2<tspan font-size="6.70" dy="-3.90">CCE</tspan></text>
<line x1="207.10" y1="365.30" x2="215.80" y2="365.30" stroke="#8a8a8a" stroke-width="1.0"/>
<path d="M210.13,366.32 L212.77,366.32 L211.45,363.98 Z" fill="#fff" stroke="#8a8a8a" stroke-width="0.5" fill-opacity="0.75"/>
<text transform="translate(219.00 368.50) scale(0.8979 1)" font-size="9.3" fill="#222222">FIO1 + CRY2<tspan font-size="6.70" dy="-3.90">CCE-P532L</tspan></text>
<line x1="207.10" y1="375.20" x2="215.80" y2="375.20" stroke="#f23dc8" stroke-width="1.0"/>
<path d="M210.13,374.18 L212.77,374.18 L211.45,376.52 Z" fill="#fff" stroke="#f23dc8" stroke-width="0.5" fill-opacity="0.75"/>
<text transform="translate(219.00 378.40) scale(0.8821 1)" font-size="9.3" fill="#222222">FIO1 + SPA1<tspan font-size="6.70" dy="-3.90">WD</tspan></text>
<line x1="207.10" y1="385.10" x2="215.80" y2="385.10" stroke="#3d96f5" stroke-width="1.0"/>
<path d="M210.13,385.10 L211.45,386.42 L212.77,385.10 L211.45,383.78 Z" fill="#fff" stroke="#3d96f5" stroke-width="0.5" fill-opacity="0.75"/>
<text transform="translate(219.00 388.30) scale(0.8955 1)" font-size="9.3" fill="#222222">FIO1 + CRY2<tspan font-size="6.70" dy="-3.90">CCE</tspan><tspan dy="3.90"> + SPA1</tspan><tspan font-size="6.70" dy="-3.90">WD</tspan></text>
<line x1="207.10" y1="395.30" x2="215.80" y2="395.30" stroke="#17b57b" stroke-width="1.0"/>
<circle cx="211.45" cy="395.30" r="1.20" fill="#fff" stroke="#17b57b" stroke-width="0.5" fill-opacity="0.75"/>
<text transform="translate(219.00 398.50) scale(0.8995 1)" font-size="9.3" fill="#222222">FIO1 + CRY2<tspan font-size="6.70" dy="-3.90">CCE-P532L</tspan><tspan dy="3.90"> + SPA1</tspan><tspan font-size="6.70" dy="-3.90">WD</tspan></text>
<line x1="244.50" y1="435.20" x2="244.50" y2="474.90" stroke="#444" stroke-width="0.5" stroke-dasharray="1.2 1"/>
<line x1="243.20" y1="435.20" x2="245.80" y2="435.20" stroke="#444" stroke-width="0.6"/>
<line x1="243.20" y1="474.90" x2="245.80" y2="474.90" stroke="#444" stroke-width="0.6"/>
<line x1="315.50" y1="407.90" x2="315.50" y2="464.30" stroke="#444" stroke-width="0.5" stroke-dasharray="1.2 1"/>
<line x1="314.20" y1="407.90" x2="316.80" y2="407.90" stroke="#444" stroke-width="0.6"/>
<line x1="314.20" y1="464.30" x2="316.80" y2="464.30" stroke="#444" stroke-width="0.6"/>
<text transform="translate(270.80 428.00)" font-size="6.8" fill="#222222"><tspan font-style="italic" dy="-0.00">P</tspan> = 8.15 × 10<tspan font-size="4.20" dy="-3.20">–7</tspan></text>
<text transform="translate(248.70 453.70)" font-size="6.8" fill="#222222"><tspan font-style="italic" dy="-0.00">P</tspan> = 1.79 × 10<tspan font-size="4.20" dy="-3.20">–6</tspan></text>
<text transform="translate(347.30 346.90)" font-size="13.2" fill="#000" font-weight="bold" stroke="#000" stroke-width="0.35">i</text>
<line x1="378.50" y1="398.60" x2="378.50" y2="504.90" stroke="#8a8a8a" stroke-width="0.6"/>
<line x1="378.50" y1="504.90" x2="507.10" y2="504.90" stroke="#8a8a8a" stroke-width="0.6"/>
<line x1="375.50" y1="504.90" x2="378.50" y2="504.90" stroke="#8a8a8a" stroke-width="0.6"/>
<text transform="translate(371.50 507.80)" font-size="8.15" fill="#222222" text-anchor="end">0</text>
<line x1="375.50" y1="475.40" x2="378.50" y2="475.40" stroke="#8a8a8a" stroke-width="0.6"/>
<text transform="translate(371.50 478.30)" font-size="8.15" fill="#222222" text-anchor="end">1</text>
<line x1="375.50" y1="445.90" x2="378.50" y2="445.90" stroke="#8a8a8a" stroke-width="0.6"/>
<text transform="translate(371.50 448.80)" font-size="8.15" fill="#222222" text-anchor="end">2</text>
<line x1="375.50" y1="416.40" x2="378.50" y2="416.40" stroke="#8a8a8a" stroke-width="0.6"/>
<text transform="translate(371.50 419.30)" font-size="8.15" fill="#222222" text-anchor="end">3</text>
<line x1="378.50" y1="504.90" x2="378.50" y2="507.90" stroke="#8a8a8a" stroke-width="0.6"/>
<text transform="translate(378.50 518.50)" font-size="8.15" fill="#222222" text-anchor="middle">0</text>
<line x1="410.65" y1="504.90" x2="410.65" y2="507.90" stroke="#8a8a8a" stroke-width="0.6"/>
<text transform="translate(410.65 518.50)" font-size="8.15" fill="#222222" text-anchor="middle">1</text>
<line x1="442.80" y1="504.90" x2="442.80" y2="507.90" stroke="#8a8a8a" stroke-width="0.6"/>
<text transform="translate(442.80 518.50)" font-size="8.15" fill="#222222" text-anchor="middle">2</text>
<line x1="474.95" y1="504.90" x2="474.95" y2="507.90" stroke="#8a8a8a" stroke-width="0.6"/>
<text transform="translate(474.95 518.50)" font-size="8.15" fill="#222222" text-anchor="middle">3</text>
<line x1="507.10" y1="504.90" x2="507.10" y2="507.90" stroke="#8a8a8a" stroke-width="0.6"/>
<text transform="translate(507.10 518.50)" font-size="8.15" fill="#222222" text-anchor="middle">4</text>
<text transform="translate(359.00 451.60) rotate(-90) scale(0.9499 1)" font-size="9.5" fill="#222222" text-anchor="middle">Luminescence (×10<tspan font-size="6.08" dy="-3.99">5</tspan><tspan dy="3.99">) (RLU)</tspan></text>
<text transform="translate(443.00 531.00) scale(0.9984 1)" font-size="9.5" fill="#222222" text-anchor="middle">RNA concentration (µM)</text>
<text transform="translate(390.60 418.20) scale(0.9472 1)" font-size="9.5" fill="#222222">UAACU</text>
<path d="M380.5,503.0V504.7M379.5,503.0h2M379.5,504.7h2" stroke="#919191" stroke-width="0.5" fill="none"/>
<path d="M379.19,504.88 L381.83,504.88 L380.51,502.54 Z" fill="#fff" stroke="#919191" stroke-width="0.5" fill-opacity="0.75"/>
<path d="M382.5,502.0V503.7M381.5,502.0h2M381.5,503.7h2" stroke="#919191" stroke-width="0.5" fill="none"/>
<path d="M381.20,503.89 L383.84,503.89 L382.52,501.55 Z" fill="#fff" stroke="#919191" stroke-width="0.5" fill-opacity="0.75"/>
<path d="M386.5,500.4V502.0M385.5,500.4h2M385.5,502.0h2" stroke="#919191" stroke-width="0.5" fill="none"/>
<path d="M385.22,502.22 L387.86,502.22 L386.54,499.88 Z" fill="#fff" stroke="#919191" stroke-width="0.5" fill-opacity="0.75"/>
<path d="M394.6,497.8V499.5M393.6,497.8h2M393.6,499.5h2" stroke="#919191" stroke-width="0.5" fill="none"/>
<path d="M393.25,499.64 L395.89,499.64 L394.57,497.30 Z" fill="#fff" stroke="#919191" stroke-width="0.5" fill-opacity="0.75"/>
<path d="M410.6,493.3V495.0M409.6,493.3h2M409.6,495.0h2" stroke="#919191" stroke-width="0.5" fill="none"/>
<path d="M409.33,495.15 L411.97,495.15 L410.65,492.81 Z" fill="#fff" stroke="#919191" stroke-width="0.5" fill-opacity="0.75"/>
<path d="M442.8,488.3V490.0M441.8,488.3h2M441.8,490.0h2" stroke="#919191" stroke-width="0.5" fill="none"/>
<path d="M441.48,490.16 L444.12,490.16 L442.80,487.82 Z" fill="#fff" stroke="#919191" stroke-width="0.5" fill-opacity="0.75"/>
<path d="M507.1,483.4V485.1M506.1,483.4h2M506.1,485.1h2" stroke="#919191" stroke-width="0.5" fill="none"/>
<path d="M505.78,485.27 L508.42,485.27 L507.10,482.93 Z" fill="#fff" stroke="#919191" stroke-width="0.5" fill-opacity="0.75"/>
<path d="M378.50,504.90 L378.62,504.84 L378.85,504.72 L379.17,504.55 L379.57,504.35 L380.02,504.13 L380.54,503.87 L381.11,503.60 L381.73,503.31 L382.40,503.00 L383.12,502.68 L383.88,502.35 L384.68,502.01 L385.52,501.66 L386.41,501.30 L387.33,500.94 L388.29,500.58 L389.29,500.21 L390.32,499.85 L391.39,499.48 L392.49,499.11 L393.63,498.75 L394.80,498.38 L396.00,498.02 L397.23,497.66 L398.50,497.31 L399.79,496.96 L401.12,496.61 L402.47,496.27 L403.86,495.93 L405.27,495.60 L406.71,495.27 L408.18,494.95 L409.68,494.63 L411.21,494.32 L412.76,494.02 L414.34,493.72 L415.95,493.43 L417.58,493.14 L419.24,492.85 L420.92,492.58 L422.63,492.31 L424.37,492.04 L426.13,491.78 L427.91,491.53 L429.72,491.28 L431.55,491.03 L433.41,490.80 L435.29,490.56 L437.20,490.33 L439.12,490.11 L441.08,489.89 L443.05,489.68 L445.05,489.47 L447.07,489.27 L449.11,489.07 L451.18,488.87 L453.26,488.68 L455.37,488.49 L457.51,488.31 L459.66,488.13 L461.83,487.96 L464.03,487.78 L466.25,487.62 L468.49,487.45 L470.75,487.29 L473.03,487.14 L475.33,486.98 L477.65,486.83 L480.00,486.69 L482.36,486.54 L484.75,486.40 L487.15,486.27 L489.57,486.13 L492.02,486.00 L494.48,485.87 L496.97,485.75 L499.47,485.62 L501.99,485.50 L504.54,485.38 L507.10,485.27" fill="none" stroke="#7a7a7a" stroke-width="1.2" stroke-linejoin="round" stroke-linecap="round"/>
<path d="M380.5,503.0V504.7M379.5,503.0h2M379.5,504.7h2" stroke="#ac44e5" stroke-width="0.5" fill="none"/>
<circle cx="380.51" cy="503.86" r="1.20" fill="#fff" stroke="#ac44e5" stroke-width="0.5" fill-opacity="0.75"/>
<path d="M382.5,502.1V503.8M381.5,502.1h2M381.5,503.8h2" stroke="#ac44e5" stroke-width="0.5" fill="none"/>
<circle cx="382.52" cy="502.95" r="1.20" fill="#fff" stroke="#ac44e5" stroke-width="0.5" fill-opacity="0.75"/>
<path d="M386.5,500.4V502.0M385.5,500.4h2M385.5,502.0h2" stroke="#ac44e5" stroke-width="0.5" fill="none"/>
<circle cx="386.54" cy="501.21" r="1.20" fill="#fff" stroke="#ac44e5" stroke-width="0.5" fill-opacity="0.75"/>
<path d="M394.6,494.9V497.2M393.6,494.9h2M393.6,497.2h2" stroke="#ac44e5" stroke-width="0.5" fill="none"/>
<circle cx="394.57" cy="496.05" r="1.20" fill="#fff" stroke="#ac44e5" stroke-width="0.5" fill-opacity="0.75"/>
<path d="M410.6,493.4V494.6M409.6,493.4h2M409.6,494.6h2" stroke="#ac44e5" stroke-width="0.5" fill="none"/>
<circle cx="410.65" cy="493.98" r="1.20" fill="#fff" stroke="#ac44e5" stroke-width="0.5" fill-opacity="0.75"/>
<path d="M442.8,490.7V491.9M441.8,490.7h2M441.8,491.9h2" stroke="#ac44e5" stroke-width="0.5" fill="none"/>
<circle cx="442.80" cy="491.33" r="1.20" fill="#fff" stroke="#ac44e5" stroke-width="0.5" fill-opacity="0.75"/>
<path d="M507.1,483.4V485.1M506.1,483.4h2M506.1,485.1h2" stroke="#ac44e5" stroke-width="0.5" fill="none"/>
<circle cx="507.10" cy="484.25" r="1.20" fill="#fff" stroke="#ac44e5" stroke-width="0.5" fill-opacity="0.75"/>
<path d="M378.50,504.90 L378.62,504.84 L378.85,504.72 L379.17,504.56 L379.57,504.36 L380.02,504.13 L380.54,503.88 L381.11,503.61 L381.73,503.32 L382.40,503.01 L383.12,502.70 L383.88,502.37 L384.68,502.03 L385.52,501.68 L386.41,501.33 L387.33,500.97 L388.29,500.61 L389.29,500.25 L390.32,499.88 L391.39,499.52 L392.49,499.15 L393.63,498.79 L394.80,498.43 L396.00,498.07 L397.23,497.71 L398.50,497.36 L399.79,497.01 L401.12,496.67 L402.47,496.33 L403.86,496.00 L405.27,495.67 L406.71,495.34 L408.18,495.02 L409.68,494.71 L411.21,494.40 L412.76,494.10 L414.34,493.80 L415.95,493.51 L417.58,493.23 L419.24,492.95 L420.92,492.67 L422.63,492.40 L424.37,492.14 L426.13,491.88 L427.91,491.63 L429.72,491.38 L431.55,491.14 L433.41,490.90 L435.29,490.67 L437.20,490.45 L439.12,490.22 L441.08,490.01 L443.05,489.80 L445.05,489.59 L447.07,489.39 L449.11,489.19 L451.18,488.99 L453.26,488.81 L455.37,488.62 L457.51,488.44 L459.66,488.26 L461.83,488.09 L464.03,487.92 L466.25,487.75 L468.49,487.59 L470.75,487.43 L473.03,487.28 L475.33,487.13 L477.65,486.98 L480.00,486.83 L482.36,486.69 L484.75,486.55 L487.15,486.41 L489.57,486.28 L492.02,486.15 L494.48,486.02 L496.97,485.90 L499.47,485.78 L501.99,485.66 L504.54,485.54 L507.10,485.42" fill="none" stroke="#9a1be0" stroke-width="1.4" stroke-linejoin="round" stroke-linecap="round"/>
<path d="M380.5,501.2V504.0M379.5,501.2h2M379.5,504.0h2" stroke="#f8ac53" stroke-width="0.5" fill="none"/>
<rect x="379.41" y="501.49" width="2.21" height="2.21" fill="#fff" stroke="#f8ac53" stroke-width="0.5" fill-opacity="0.75"/>
<path d="M382.5,498.9V501.7M381.5,498.9h2M381.5,501.7h2" stroke="#f8ac53" stroke-width="0.5" fill="none"/>
<rect x="381.41" y="499.18" width="2.21" height="2.21" fill="#fff" stroke="#f8ac53" stroke-width="0.5" fill-opacity="0.75"/>
<path d="M386.5,495.2V498.1M385.5,495.2h2M385.5,498.1h2" stroke="#f8ac53" stroke-width="0.5" fill="none"/>
<rect x="385.43" y="495.54" width="2.21" height="2.21" fill="#fff" stroke="#f8ac53" stroke-width="0.5" fill-opacity="0.75"/>
<path d="M394.6,487.2V490.1M393.6,487.2h2M393.6,490.1h2" stroke="#f8ac53" stroke-width="0.5" fill="none"/>
<rect x="393.47" y="487.57" width="2.21" height="2.21" fill="#fff" stroke="#f8ac53" stroke-width="0.5" fill-opacity="0.75"/>
<path d="M410.6,479.8V485.7M409.6,479.8h2M409.6,485.7h2" stroke="#f8ac53" stroke-width="0.5" fill="none"/>
<rect x="409.55" y="481.67" width="2.21" height="2.21" fill="#fff" stroke="#f8ac53" stroke-width="0.5" fill-opacity="0.75"/>
<path d="M442.8,473.6V481.9M441.8,473.6h2M441.8,481.9h2" stroke="#f8ac53" stroke-width="0.5" fill="none"/>
<rect x="441.70" y="476.66" width="2.21" height="2.21" fill="#fff" stroke="#f8ac53" stroke-width="0.5" fill-opacity="0.75"/>
<path d="M507.1,465.7V470.4M506.1,465.7h2M506.1,470.4h2" stroke="#f8ac53" stroke-width="0.5" fill="none"/>
<rect x="506.00" y="466.92" width="2.21" height="2.21" fill="#fff" stroke="#f8ac53" stroke-width="0.5" fill-opacity="0.75"/>
<path d="M378.50,504.90 L378.62,504.76 L378.85,504.47 L379.17,504.08 L379.57,503.62 L380.02,503.09 L380.54,502.51 L381.11,501.88 L381.73,501.22 L382.40,500.53 L383.12,499.81 L383.88,499.08 L384.68,498.33 L385.52,497.57 L386.41,496.80 L387.33,496.04 L388.29,495.27 L389.29,494.50 L390.32,493.74 L391.39,492.99 L392.49,492.24 L393.63,491.51 L394.80,490.78 L396.00,490.07 L397.23,489.37 L398.50,488.68 L399.79,488.00 L401.12,487.34 L402.47,486.70 L403.86,486.07 L405.27,485.45 L406.71,484.85 L408.18,484.26 L409.68,483.68 L411.21,483.13 L412.76,482.58 L414.34,482.05 L415.95,481.53 L417.58,481.03 L419.24,480.54 L420.92,480.06 L422.63,479.60 L424.37,479.15 L426.13,478.71 L427.91,478.28 L429.72,477.86 L431.55,477.46 L433.41,477.06 L435.29,476.68 L437.20,476.31 L439.12,475.94 L441.08,475.59 L443.05,475.25 L445.05,474.91 L447.07,474.59 L449.11,474.27 L451.18,473.96 L453.26,473.66 L455.37,473.37 L457.51,473.08 L459.66,472.80 L461.83,472.53 L464.03,472.27 L466.25,472.01 L468.49,471.76 L470.75,471.52 L473.03,471.28 L475.33,471.05 L477.65,470.83 L480.00,470.61 L482.36,470.39 L484.75,470.18 L487.15,469.98 L489.57,469.78 L492.02,469.58 L494.48,469.39 L496.97,469.21 L499.47,469.03 L501.99,468.85 L504.54,468.68 L507.10,468.51" fill="none" stroke="#f79a2e" stroke-width="1.3" stroke-linejoin="round" stroke-linecap="round"/>
<path d="M380.5,498.4V503.1M379.5,498.4h2M379.5,503.1h2" stroke="#f45fd1" stroke-width="0.5" fill="none"/>
<path d="M379.19,499.76 L381.83,499.76 L380.51,502.10 Z" fill="#fff" stroke="#f45fd1" stroke-width="0.5" fill-opacity="0.75"/>
<path d="M382.5,494.9V499.6M381.5,494.9h2M381.5,499.6h2" stroke="#f45fd1" stroke-width="0.5" fill="none"/>
<path d="M381.20,496.21 L383.84,496.21 L382.52,498.55 Z" fill="#fff" stroke="#f45fd1" stroke-width="0.5" fill-opacity="0.75"/>
<path d="M386.5,487.7V492.4M385.5,487.7h2M385.5,492.4h2" stroke="#f45fd1" stroke-width="0.5" fill="none"/>
<path d="M385.22,489.04 L387.86,489.04 L386.54,491.38 Z" fill="#fff" stroke="#f45fd1" stroke-width="0.5" fill-opacity="0.75"/>
<path d="M394.6,477.2V481.9M393.6,477.2h2M393.6,481.9h2" stroke="#f45fd1" stroke-width="0.5" fill="none"/>
<path d="M393.25,478.55 L395.89,478.55 L394.57,480.89 Z" fill="#fff" stroke="#f45fd1" stroke-width="0.5" fill-opacity="0.75"/>
<path d="M410.6,464.2V468.9M409.6,464.2h2M409.6,468.9h2" stroke="#f45fd1" stroke-width="0.5" fill="none"/>
<path d="M409.33,465.53 L411.97,465.53 L410.65,467.87 Z" fill="#fff" stroke="#f45fd1" stroke-width="0.5" fill-opacity="0.75"/>
<path d="M442.8,451.8V457.7M441.8,451.8h2M441.8,457.7h2" stroke="#f45fd1" stroke-width="0.5" fill="none"/>
<path d="M441.48,453.73 L444.12,453.73 L442.80,456.07 Z" fill="#fff" stroke="#f45fd1" stroke-width="0.5" fill-opacity="0.75"/>
<path d="M507.1,442.1V445.6M506.1,442.1h2M506.1,445.6h2" stroke="#f45fd1" stroke-width="0.5" fill="none"/>
<path d="M505.78,442.81 L508.42,442.81 L507.10,445.15 Z" fill="#fff" stroke="#f45fd1" stroke-width="0.5" fill-opacity="0.75"/>
<path d="M378.50,504.90 L378.62,504.65 L378.85,504.13 L379.17,503.45 L379.57,502.62 L380.02,501.68 L380.54,500.65 L381.11,499.55 L381.73,498.38 L382.40,497.16 L383.12,495.90 L383.88,494.62 L384.68,493.31 L385.52,491.98 L386.41,490.65 L387.33,489.32 L388.29,488.00 L389.29,486.67 L390.32,485.36 L391.39,484.07 L392.49,482.79 L393.63,481.53 L394.80,480.29 L396.00,479.08 L397.23,477.89 L398.50,476.72 L399.79,475.58 L401.12,474.47 L402.47,473.38 L403.86,472.31 L405.27,471.28 L406.71,470.27 L408.18,469.29 L409.68,468.33 L411.21,467.40 L412.76,466.49 L414.34,465.61 L415.95,464.75 L417.58,463.92 L419.24,463.11 L420.92,462.32 L422.63,461.56 L424.37,460.81 L426.13,460.09 L427.91,459.39 L429.72,458.71 L431.55,458.04 L433.41,457.40 L435.29,456.77 L437.20,456.16 L439.12,455.57 L441.08,455.00 L443.05,454.44 L445.05,453.89 L447.07,453.37 L449.11,452.85 L451.18,452.35 L453.26,451.87 L455.37,451.39 L457.51,450.93 L459.66,450.48 L461.83,450.05 L464.03,449.62 L466.25,449.21 L468.49,448.81 L470.75,448.42 L473.03,448.04 L475.33,447.66 L477.65,447.30 L480.00,446.95 L482.36,446.61 L484.75,446.27 L487.15,445.94 L489.57,445.62 L492.02,445.31 L494.48,445.01 L496.97,444.71 L499.47,444.43 L501.99,444.14 L504.54,443.87 L507.10,443.60" fill="none" stroke="#f23dc8" stroke-width="1.3" stroke-linejoin="round" stroke-linecap="round"/>
<path d="M380.5,498.1V503.6M379.5,498.1h2M379.5,503.6h2" stroke="#40c292" stroke-width="0.5" fill="none"/>
<circle cx="380.51" cy="500.83" r="1.20" fill="#fff" stroke="#40c292" stroke-width="0.5" fill-opacity="0.75"/>
<path d="M382.5,493.9V499.4M381.5,493.9h2M381.5,499.4h2" stroke="#40c292" stroke-width="0.5" fill="none"/>
<circle cx="382.52" cy="496.67" r="1.20" fill="#fff" stroke="#40c292" stroke-width="0.5" fill-opacity="0.75"/>
<path d="M386.5,487.5V493.0M385.5,487.5h2M385.5,493.0h2" stroke="#40c292" stroke-width="0.5" fill="none"/>
<circle cx="386.54" cy="490.24" r="1.20" fill="#fff" stroke="#40c292" stroke-width="0.5" fill-opacity="0.75"/>
<path d="M394.6,477.5V482.9M393.6,477.5h2M393.6,482.9h2" stroke="#40c292" stroke-width="0.5" fill="none"/>
<circle cx="394.57" cy="480.19" r="1.20" fill="#fff" stroke="#40c292" stroke-width="0.5" fill-opacity="0.75"/>
<path d="M410.6,453.9V468.6M409.6,453.9h2M409.6,468.6h2" stroke="#40c292" stroke-width="0.5" fill="none"/>
<circle cx="410.65" cy="461.24" r="1.20" fill="#fff" stroke="#40c292" stroke-width="0.5" fill-opacity="0.75"/>
<path d="M442.8,445.9V451.8M441.8,445.9h2M441.8,451.8h2" stroke="#40c292" stroke-width="0.5" fill="none"/>
<circle cx="442.80" cy="448.85" r="1.20" fill="#fff" stroke="#40c292" stroke-width="0.5" fill-opacity="0.75"/>
<path d="M507.1,433.5V440.6M506.1,433.5h2M506.1,440.6h2" stroke="#40c292" stroke-width="0.5" fill="none"/>
<circle cx="507.10" cy="437.05" r="1.20" fill="#fff" stroke="#40c292" stroke-width="0.5" fill-opacity="0.75"/>
<path d="M378.50,504.90 L378.62,504.65 L378.85,504.14 L379.17,503.45 L379.57,502.62 L380.02,501.68 L380.54,500.64 L381.11,499.52 L381.73,498.33 L382.40,497.08 L383.12,495.79 L383.88,494.46 L384.68,493.10 L385.52,491.72 L386.41,490.33 L387.33,488.93 L388.29,487.52 L389.29,486.12 L390.32,484.72 L391.39,483.33 L392.49,481.95 L393.63,480.58 L394.80,479.23 L396.00,477.90 L397.23,476.59 L398.50,475.30 L399.79,474.03 L401.12,472.79 L402.47,471.57 L403.86,470.37 L405.27,469.20 L406.71,468.06 L408.18,466.94 L409.68,465.85 L411.21,464.78 L412.76,463.73 L414.34,462.72 L415.95,461.72 L417.58,460.75 L419.24,459.81 L420.92,458.88 L422.63,457.99 L424.37,457.11 L426.13,456.26 L427.91,455.42 L429.72,454.61 L431.55,453.82 L433.41,453.05 L435.29,452.30 L437.20,451.57 L439.12,450.86 L441.08,450.17 L443.05,449.49 L445.05,448.83 L447.07,448.19 L449.11,447.56 L451.18,446.96 L453.26,446.36 L455.37,445.78 L457.51,445.22 L459.66,444.67 L461.83,444.13 L464.03,443.61 L466.25,443.10 L468.49,442.60 L470.75,442.11 L473.03,441.64 L475.33,441.18 L477.65,440.73 L480.00,440.29 L482.36,439.86 L484.75,439.44 L487.15,439.03 L489.57,438.63 L492.02,438.24 L494.48,437.86 L496.97,437.48 L499.47,437.12 L501.99,436.76 L504.54,436.42 L507.10,436.08" fill="none" stroke="#17b57b" stroke-width="1.4" stroke-linejoin="round" stroke-linecap="round"/>
<path d="M380.5,495.1V503.1M379.5,495.1h2M379.5,503.1h2" stroke="#5fa8f6" stroke-width="0.5" fill="none"/>
<path d="M379.19,499.10 L380.51,500.42 L381.83,499.10 L380.51,497.78 Z" fill="#fff" stroke="#5fa8f6" stroke-width="0.5" fill-opacity="0.75"/>
<path d="M382.5,489.4V497.4M381.5,489.4h2M381.5,497.4h2" stroke="#5fa8f6" stroke-width="0.5" fill="none"/>
<path d="M381.20,493.37 L382.52,494.69 L383.84,493.37 L382.52,492.05 Z" fill="#fff" stroke="#5fa8f6" stroke-width="0.5" fill-opacity="0.75"/>
<path d="M386.5,478.9V483.7M385.5,478.9h2M385.5,483.7h2" stroke="#5fa8f6" stroke-width="0.5" fill="none"/>
<path d="M385.22,481.30 L386.54,482.62 L387.86,481.30 L386.54,479.98 Z" fill="#fff" stroke="#5fa8f6" stroke-width="0.5" fill-opacity="0.75"/>
<path d="M394.6,461.8V465.4M393.6,461.8h2M393.6,465.4h2" stroke="#5fa8f6" stroke-width="0.5" fill="none"/>
<path d="M393.25,463.60 L394.57,464.92 L395.89,463.60 L394.57,462.28 Z" fill="#fff" stroke="#5fa8f6" stroke-width="0.5" fill-opacity="0.75"/>
<path d="M410.6,442.1V452.7M409.6,442.1h2M409.6,452.7h2" stroke="#5fa8f6" stroke-width="0.5" fill="none"/>
<path d="M409.33,447.38 L410.65,448.69 L411.97,447.38 L410.65,446.06 Z" fill="#fff" stroke="#5fa8f6" stroke-width="0.5" fill-opacity="0.75"/>
<path d="M442.8,430.9V435.6M441.8,430.9h2M441.8,435.6h2" stroke="#5fa8f6" stroke-width="0.5" fill="none"/>
<path d="M441.48,433.21 L442.80,434.53 L444.12,433.21 L442.80,431.89 Z" fill="#fff" stroke="#5fa8f6" stroke-width="0.5" fill-opacity="0.75"/>
<path d="M507.1,399.6V400.8M506.1,399.6h2M506.1,400.8h2" stroke="#5fa8f6" stroke-width="0.5" fill="none"/>
<path d="M505.78,400.17 L507.10,401.49 L508.42,400.17 L507.10,398.85 Z" fill="#fff" stroke="#5fa8f6" stroke-width="0.5" fill-opacity="0.75"/>
<path d="M378.50,504.90 L378.62,504.55 L378.85,503.83 L379.17,502.87 L379.57,501.71 L380.02,500.39 L380.54,498.93 L381.11,497.35 L381.73,495.68 L382.40,493.92 L383.12,492.10 L383.88,490.22 L384.68,488.30 L385.52,486.35 L386.41,484.38 L387.33,482.39 L388.29,480.39 L389.29,478.39 L390.32,476.40 L391.39,474.41 L392.49,472.44 L393.63,470.49 L394.80,468.55 L396.00,466.65 L397.23,464.76 L398.50,462.91 L399.79,461.09 L401.12,459.29 L402.47,457.53 L403.86,455.81 L405.27,454.12 L406.71,452.46 L408.18,450.84 L409.68,449.25 L411.21,447.70 L412.76,446.18 L414.34,444.70 L415.95,443.26 L417.58,441.84 L419.24,440.46 L420.92,439.12 L422.63,437.80 L424.37,436.52 L426.13,435.27 L427.91,434.05 L429.72,432.86 L431.55,431.71 L433.41,430.58 L435.29,429.47 L437.20,428.40 L439.12,427.35 L441.08,426.33 L443.05,425.33 L445.05,424.36 L447.07,423.42 L449.11,422.49 L451.18,421.59 L453.26,420.71 L455.37,419.86 L457.51,419.02 L459.66,418.21 L461.83,417.41 L464.03,416.64 L466.25,415.88 L468.49,415.14 L470.75,414.42 L473.03,413.72 L475.33,413.03 L477.65,412.36 L480.00,411.71 L482.36,411.07 L484.75,410.44 L487.15,409.83 L489.57,409.24 L492.02,408.66 L494.48,408.09 L496.97,407.53 L499.47,406.99 L501.99,406.46 L504.54,405.94 L507.10,405.43" fill="none" stroke="#3d96f5" stroke-width="1.4" stroke-linejoin="round" stroke-linecap="round"/>
<line x1="380.80" y1="344.30" x2="389.00" y2="344.30" stroke="#5f1cc4" stroke-width="1.0"/>
<circle cx="384.90" cy="344.30" r="1.20" fill="#fff" stroke="#5f1cc4" stroke-width="0.5" fill-opacity="0.75"/>
<text transform="translate(392.30 347.50) scale(0.8273 1)" font-size="9.3" fill="#222222">FIO1</text>
<line x1="380.80" y1="354.50" x2="389.00" y2="354.50" stroke="#f79a2e" stroke-width="1.0"/>
<rect x="383.80" y="353.40" width="2.21" height="2.21" fill="#fff" stroke="#f79a2e" stroke-width="0.5" fill-opacity="0.75"/>
<text transform="translate(392.30 357.70) scale(0.8907 1)" font-size="9.3" fill="#222222">FIO1 + CRY2<tspan font-size="6.70" dy="-3.90">CCE</tspan></text>
<line x1="380.80" y1="364.40" x2="389.00" y2="364.40" stroke="#8a8a8a" stroke-width="1.0"/>
<path d="M383.58,365.42 L386.22,365.42 L384.90,363.08 Z" fill="#fff" stroke="#8a8a8a" stroke-width="0.5" fill-opacity="0.75"/>
<text transform="translate(392.30 367.60) scale(0.8979 1)" font-size="9.3" fill="#222222">FIO1 + CRY2<tspan font-size="6.70" dy="-3.90">CCE-P532L</tspan></text>
<line x1="380.80" y1="374.20" x2="389.00" y2="374.20" stroke="#f23dc8" stroke-width="1.0"/>
<path d="M383.58,373.18 L386.22,373.18 L384.90,375.52 Z" fill="#fff" stroke="#f23dc8" stroke-width="0.5" fill-opacity="0.75"/>
<text transform="translate(392.30 377.40) scale(0.8821 1)" font-size="9.3" fill="#222222">FIO1 + SPA1<tspan font-size="6.70" dy="-3.90">WD</tspan></text>
<line x1="380.80" y1="384.30" x2="389.00" y2="384.30" stroke="#3d96f5" stroke-width="1.0"/>
<path d="M383.58,384.30 L384.90,385.62 L386.22,384.30 L384.90,382.98 Z" fill="#fff" stroke="#3d96f5" stroke-width="0.5" fill-opacity="0.75"/>
<text transform="translate(392.30 387.50) scale(0.8955 1)" font-size="9.3" fill="#222222">FIO1 + CRY2<tspan font-size="6.70" dy="-3.90">CCE</tspan><tspan dy="3.90"> + SPA1</tspan><tspan font-size="6.70" dy="-3.90">WD</tspan></text>
<line x1="380.80" y1="394.50" x2="389.00" y2="394.50" stroke="#17b57b" stroke-width="1.0"/>
<circle cx="384.90" cy="394.50" r="1.20" fill="#fff" stroke="#17b57b" stroke-width="0.5" fill-opacity="0.75"/>
<text transform="translate(392.30 397.70) scale(0.8995 1)" font-size="9.3" fill="#222222">FIO1 + CRY2<tspan font-size="6.70" dy="-3.90">CCE-P532L</tspan><tspan dy="3.90"> + SPA1</tspan><tspan font-size="6.70" dy="-3.90">WD</tspan></text>
<line x1="490.10" y1="410.00" x2="490.10" y2="445.10" stroke="#444" stroke-width="0.5" stroke-dasharray="1.2 1"/>
<line x1="488.80" y1="410.00" x2="491.40" y2="410.00" stroke="#444" stroke-width="0.6"/>
<line x1="488.80" y1="445.10" x2="491.40" y2="445.10" stroke="#444" stroke-width="0.6"/>
<line x1="504.20" y1="406.10" x2="504.20" y2="465.80" stroke="#444" stroke-width="0.5" stroke-dasharray="1.2 1"/>
<line x1="502.90" y1="406.10" x2="505.50" y2="406.10" stroke="#444" stroke-width="0.6"/>
<line x1="502.90" y1="465.80" x2="505.50" y2="465.80" stroke="#444" stroke-width="0.6"/>
<text transform="translate(445.70 429.00)" font-size="6.8" fill="#222222"><tspan font-style="italic" dy="-0.00">P</tspan> = 7.84 × 10<tspan font-size="4.20" dy="-3.20">–6</tspan></text>
<text transform="translate(456.90 461.00)" font-size="6.8" fill="#222222"><tspan font-style="italic" dy="-0.00">P</tspan> = 3.50 × 10<tspan font-size="4.20" dy="-3.20">–6</tspan></text>
<text transform="translate(521.50 346.90)" font-size="13.2" fill="#000" font-weight="bold" stroke="#000" stroke-width="0.35">j</text>
<line x1="553.20" y1="396.00" x2="553.20" y2="504.90" stroke="#8a8a8a" stroke-width="0.6"/>
<line x1="553.20" y1="504.90" x2="683.10" y2="504.90" stroke="#8a8a8a" stroke-width="0.6"/>
<line x1="550.20" y1="504.90" x2="553.20" y2="504.90" stroke="#8a8a8a" stroke-width="0.6"/>
<text transform="translate(546.20 507.80)" font-size="8.15" fill="#222222" text-anchor="end">0</text>
<line x1="550.20" y1="477.67" x2="553.20" y2="477.67" stroke="#8a8a8a" stroke-width="0.6"/>
<text transform="translate(546.20 480.57)" font-size="8.15" fill="#222222" text-anchor="end">3</text>
<line x1="550.20" y1="450.45" x2="553.20" y2="450.45" stroke="#8a8a8a" stroke-width="0.6"/>
<text transform="translate(546.20 453.35)" font-size="8.15" fill="#222222" text-anchor="end">6</text>
<line x1="550.20" y1="423.22" x2="553.20" y2="423.22" stroke="#8a8a8a" stroke-width="0.6"/>
<text transform="translate(546.20 426.12)" font-size="8.15" fill="#222222" text-anchor="end">9</text>
<line x1="550.20" y1="396.00" x2="553.20" y2="396.00" stroke="#8a8a8a" stroke-width="0.6"/>
<text transform="translate(546.20 398.90)" font-size="8.15" fill="#222222" text-anchor="end">12</text>
<rect x="557.70" y="478.13" width="7.30" height="26.77" fill="#f6b26b"/>
<line x1="561.35" y1="474.36" x2="561.35" y2="478.13" stroke="#f6b26b" stroke-width="0.5"/>
<line x1="559.75" y1="474.36" x2="562.95" y2="474.36" stroke="#f6b26b" stroke-width="0.5"/>
<circle cx="561.57" cy="472.86" r="1.60" fill="#fff" stroke="#222" stroke-width="0.5" fill-opacity="0.0"/>
<circle cx="559.23" cy="478.83" r="1.60" fill="#fff" stroke="#222" stroke-width="0.5" fill-opacity="0.0"/>
<circle cx="563.65" cy="478.83" r="1.60" fill="#fff" stroke="#222" stroke-width="0.5" fill-opacity="0.0"/>
<rect x="569.40" y="502.27" width="7.30" height="2.63" fill="#808080"/>
<line x1="573.05" y1="501.11" x2="573.05" y2="502.27" stroke="#808080" stroke-width="0.5"/>
<line x1="571.45" y1="501.11" x2="574.65" y2="501.11" stroke="#808080" stroke-width="0.5"/>
<rect x="571.79" y="498.14" width="2.94" height="2.94" fill="#fff" stroke="#222" stroke-width="0.5" fill-opacity="0.0"/>
<rect x="569.97" y="501.26" width="2.94" height="2.94" fill="#fff" stroke="#222" stroke-width="0.5" fill-opacity="0.0"/>
<rect x="573.87" y="501.26" width="2.94" height="2.94" fill="#fff" stroke="#222" stroke-width="0.5" fill-opacity="0.0"/>
<rect x="581.00" y="489.11" width="7.30" height="15.79" fill="#f03cc8"/>
<line x1="584.65" y1="485.53" x2="584.65" y2="489.11" stroke="#f03cc8" stroke-width="0.5"/>
<line x1="583.05" y1="485.53" x2="586.25" y2="485.53" stroke="#f03cc8" stroke-width="0.5"/>
<path d="M583.19,485.39 L586.71,485.39 L584.95,482.27 Z" fill="#fff" stroke="#222" stroke-width="0.5" fill-opacity="0.0"/>
<path d="M581.37,493.18 L584.89,493.18 L583.13,490.06 Z" fill="#fff" stroke="#222" stroke-width="0.5" fill-opacity="0.0"/>
<path d="M585.27,492.40 L588.79,492.40 L587.03,489.28 Z" fill="#fff" stroke="#222" stroke-width="0.5" fill-opacity="0.0"/>
<rect x="592.70" y="427.13" width="7.30" height="77.77" fill="#4a9af5"/>
<line x1="596.35" y1="402.93" x2="596.35" y2="427.13" stroke="#4a9af5" stroke-width="0.5"/>
<line x1="594.75" y1="402.93" x2="597.95" y2="402.93" stroke="#4a9af5" stroke-width="0.5"/>
<path d="M594.62,400.07 L598.14,400.07 L596.38,403.19 Z" fill="#fff" stroke="#222" stroke-width="0.5" fill-opacity="0.0"/>
<path d="M594.62,431.24 L598.14,431.24 L596.38,434.36 Z" fill="#fff" stroke="#222" stroke-width="0.5" fill-opacity="0.0"/>
<path d="M594.62,442.41 L598.14,442.41 L596.38,445.53 Z" fill="#fff" stroke="#222" stroke-width="0.5" fill-opacity="0.0"/>
<rect x="604.40" y="488.56" width="7.30" height="16.33" fill="#12b26e"/>
<line x1="608.05" y1="479.55" x2="608.05" y2="488.56" stroke="#12b26e" stroke-width="0.5"/>
<line x1="606.45" y1="479.55" x2="609.65" y2="479.55" stroke="#12b26e" stroke-width="0.5"/>
<path d="M606.30,478.05 L608.06,479.81 L609.82,478.05 L608.06,476.29 Z" fill="#fff" stroke="#222" stroke-width="0.5" fill-opacity="0.0"/>
<path d="M608.12,492.34 L609.88,494.10 L611.64,492.34 L609.88,490.58 Z" fill="#fff" stroke="#222" stroke-width="0.5" fill-opacity="0.0"/>
<path d="M606.30,494.94 L608.06,496.70 L609.82,494.94 L608.06,493.18 Z" fill="#fff" stroke="#222" stroke-width="0.5" fill-opacity="0.0"/>
<rect x="623.40" y="497.64" width="7.30" height="7.26" fill="#f6b26b"/>
<line x1="627.05" y1="494.62" x2="627.05" y2="497.64" stroke="#f6b26b" stroke-width="0.5"/>
<line x1="625.45" y1="494.62" x2="628.65" y2="494.62" stroke="#f6b26b" stroke-width="0.5"/>
<path d="M625.53,493.12 L627.29,494.88 L629.05,493.12 L627.29,491.36 Z" fill="#fff" stroke="#222" stroke-width="0.5" fill-opacity="0.0"/>
<path d="M623.45,498.31 L625.21,500.07 L626.97,498.31 L625.21,496.55 Z" fill="#fff" stroke="#222" stroke-width="0.5" fill-opacity="0.0"/>
<path d="M627.60,497.53 L629.36,499.29 L631.12,497.53 L629.36,495.77 Z" fill="#fff" stroke="#222" stroke-width="0.5" fill-opacity="0.0"/>
<rect x="647.00" y="484.66" width="7.30" height="20.24" fill="#f03cc8"/>
<line x1="650.65" y1="482.15" x2="650.65" y2="484.66" stroke="#f03cc8" stroke-width="0.5"/>
<line x1="649.05" y1="482.15" x2="652.25" y2="482.15" stroke="#f03cc8" stroke-width="0.5"/>
<path d="M648.90,482.01 L652.42,482.01 L650.66,478.89 Z" fill="#fff" stroke="#222" stroke-width="0.5" fill-opacity="0.0"/>
<path d="M647.08,487.20 L650.60,487.20 L648.84,484.08 Z" fill="#fff" stroke="#222" stroke-width="0.5" fill-opacity="0.0"/>
<path d="M650.72,487.20 L654.24,487.20 L652.48,484.08 Z" fill="#fff" stroke="#222" stroke-width="0.5" fill-opacity="0.0"/>
<rect x="658.70" y="469.14" width="7.30" height="35.76" fill="#4a9af5"/>
<line x1="662.35" y1="465.27" x2="662.35" y2="469.14" stroke="#4a9af5" stroke-width="0.5"/>
<line x1="660.75" y1="465.27" x2="663.95" y2="465.27" stroke="#4a9af5" stroke-width="0.5"/>
<path d="M660.59,462.41 L664.11,462.41 L662.35,465.53 Z" fill="#fff" stroke="#222" stroke-width="0.5" fill-opacity="0.0"/>
<path d="M660.59,466.30 L664.11,466.30 L662.35,469.42 Z" fill="#fff" stroke="#222" stroke-width="0.5" fill-opacity="0.0"/>
<path d="M660.59,472.28 L664.11,472.28 L662.35,475.40 Z" fill="#fff" stroke="#222" stroke-width="0.5" fill-opacity="0.0"/>
<rect x="670.10" y="483.39" width="7.30" height="21.51" fill="#12b26e"/>
<line x1="673.75" y1="475.66" x2="673.75" y2="483.39" stroke="#12b26e" stroke-width="0.5"/>
<line x1="672.15" y1="475.66" x2="675.35" y2="475.66" stroke="#12b26e" stroke-width="0.5"/>
<path d="M672.28,474.16 L674.04,475.92 L675.80,474.16 L674.04,472.40 Z" fill="#fff" stroke="#222" stroke-width="0.5" fill-opacity="0.0"/>
<path d="M672.28,484.55 L674.04,486.31 L675.80,484.55 L674.04,482.79 Z" fill="#fff" stroke="#222" stroke-width="0.5" fill-opacity="0.0"/>
<path d="M672.28,488.44 L674.04,490.20 L675.80,488.44 L674.04,486.68 Z" fill="#fff" stroke="#222" stroke-width="0.5" fill-opacity="0.0"/>
<line x1="585.20" y1="504.90" x2="585.20" y2="507.90" stroke="#8a8a8a" stroke-width="0.6"/>
<line x1="650.70" y1="504.90" x2="650.70" y2="507.90" stroke="#8a8a8a" stroke-width="0.6"/>
<text transform="translate(585.20 520.30) scale(0.9318 1)" font-size="9.5" fill="#222222" text-anchor="middle">AAACU</text>
<text transform="translate(650.70 520.30) scale(0.9472 1)" font-size="9.5" fill="#222222" text-anchor="middle">UAACU</text>
<text transform="translate(531.00 450.70) rotate(-90) scale(1.0242 1)" font-size="9.5" fill="#222222" text-anchor="middle">Increased relative <tspan font-style="italic" dy="0.00">K</tspan><tspan font-size="6.00" dy="1.80">cat</tspan><tspan dy="-1.80">/</tspan><tspan font-style="italic" dy="0.00">K</tspan><tspan font-size="6.00" dy="1.80">m</tspan></text>
<rect x="557.20" y="352.20" width="9.80" height="3.40" fill="#f6b26b"/>
<text transform="translate(570.20 357.20) scale(0.8907 1)" font-size="9.3" fill="#222222">FIO1 + CRY2<tspan font-size="6.70" dy="-3.90">CCE</tspan></text>
<rect x="557.20" y="362.20" width="9.80" height="3.40" fill="#808080"/>
<text transform="translate(570.20 367.20) scale(0.8979 1)" font-size="9.3" fill="#222222">FIO1 + CRY2<tspan font-size="6.70" dy="-3.90">CCE-P532L</tspan></text>
<rect x="557.20" y="372.10" width="9.80" height="3.40" fill="#f03cc8"/>
<text transform="translate(570.20 377.10) scale(0.8806 1)" font-size="9.3" fill="#222222">FIO1 + SPA1<tspan font-size="6.70" dy="-3.90">WD</tspan></text>
<rect x="557.20" y="382.10" width="9.80" height="3.40" fill="#4a9af5"/>
<text transform="translate(570.20 387.10) scale(0.8929 1)" font-size="9.3" fill="#222222">FIO1 + CRY2<tspan font-size="6.70" dy="-3.90">CCE</tspan><tspan dy="3.90"> + SPA1</tspan><tspan font-size="6.70" dy="-3.90">WD</tspan></text>
<rect x="557.20" y="391.90" width="9.80" height="3.40" fill="#12b26e"/>
<text transform="translate(570.20 396.90) scale(0.8951 1)" font-size="9.3" fill="#222222">FIO1 + CRY2<tspan font-size="6.70" dy="-3.90">CCE-P532L</tspan><tspan dy="3.90"> + SPA1</tspan><tspan font-size="6.70" dy="-3.90">WD</tspan></text>
<text transform="translate(0.00 549.50) scale(0.9500 1)" font-size="13.2" fill="#000" font-weight="bold" stroke="#000" stroke-width="0.35">k</text>
<line x1="58.60" y1="564.60" x2="58.60" y2="690.20" stroke="#8a8a8a" stroke-width="0.6"/>
<line x1="58.60" y1="690.20" x2="143.00" y2="690.20" stroke="#8a8a8a" stroke-width="0.6"/>
<line x1="55.60" y1="690.20" x2="58.60" y2="690.20" stroke="#8a8a8a" stroke-width="0.6"/>
<text transform="translate(51.60 693.10)" font-size="8.15" fill="#222222" text-anchor="end">0</text>
<line x1="55.60" y1="651.76" x2="58.60" y2="651.76" stroke="#8a8a8a" stroke-width="0.6"/>
<text transform="translate(51.60 654.66)" font-size="8.15" fill="#222222" text-anchor="end">0.2</text>
<line x1="55.60" y1="613.32" x2="58.60" y2="613.32" stroke="#8a8a8a" stroke-width="0.6"/>
<text transform="translate(51.60 616.22)" font-size="8.15" fill="#222222" text-anchor="end">0.4</text>
<line x1="55.60" y1="574.88" x2="58.60" y2="574.88" stroke="#8a8a8a" stroke-width="0.6"/>
<text transform="translate(51.60 577.78)" font-size="8.15" fill="#222222" text-anchor="end">0.6</text>
<rect x="71.10" y="581.60" width="9.20" height="108.60" fill="#0cc892"/>
<line x1="75.70" y1="690.20" x2="75.70" y2="693.20" stroke="#8a8a8a" stroke-width="0.6"/>
<text transform="translate(79.70 701.20) rotate(-45)" font-size="9.5" fill="#222222" text-anchor="end">WT</text>
<rect x="96.30" y="595.20" width="9.20" height="95.00" fill="#a0826d"/>
<line x1="100.90" y1="690.20" x2="100.90" y2="693.20" stroke="#8a8a8a" stroke-width="0.6"/>
<text transform="translate(104.90 701.20) rotate(-45)" font-size="9.5" fill="#222222" text-anchor="end" font-style="italic">spa123</text>
<rect x="121.20" y="601.00" width="9.20" height="89.20" fill="#c9ba96"/>
<line x1="125.80" y1="690.20" x2="125.80" y2="693.20" stroke="#8a8a8a" stroke-width="0.6"/>
<text transform="translate(129.80 701.20) rotate(-45)" font-size="9.5" fill="#222222" text-anchor="end" font-style="italic">spa134</text>
<line x1="75.80" y1="572.10" x2="75.80" y2="589.70" stroke="#333333" stroke-width="0.5"/>
<line x1="73.80" y1="572.10" x2="77.80" y2="572.10" stroke="#333333" stroke-width="0.5"/>
<line x1="73.80" y1="589.70" x2="77.80" y2="589.70" stroke="#333333" stroke-width="0.5"/>
<circle cx="75.70" cy="567.70" r="1.60" fill="none" stroke="#333333" stroke-width="0.5"/>
<circle cx="72.00" cy="576.40" r="1.60" fill="none" stroke="#333333" stroke-width="0.5"/>
<circle cx="79.50" cy="577.60" r="1.60" fill="none" stroke="#333333" stroke-width="0.5"/>
<circle cx="72.00" cy="580.20" r="1.60" fill="none" stroke="#333333" stroke-width="0.5"/>
<circle cx="72.00" cy="590.60" r="1.60" fill="none" stroke="#333333" stroke-width="0.5"/>
<circle cx="79.50" cy="589.40" r="1.60" fill="none" stroke="#333333" stroke-width="0.5"/>
<line x1="100.60" y1="588.50" x2="100.60" y2="599.30" stroke="#333333" stroke-width="0.5"/>
<line x1="98.60" y1="588.50" x2="102.60" y2="588.50" stroke="#333333" stroke-width="0.5"/>
<line x1="98.60" y1="599.30" x2="102.60" y2="599.30" stroke="#333333" stroke-width="0.5"/>
<circle cx="100.60" cy="585.10" r="1.60" fill="none" stroke="#333333" stroke-width="0.5"/>
<circle cx="96.30" cy="595.30" r="1.60" fill="none" stroke="#333333" stroke-width="0.5"/>
<circle cx="105.50" cy="597.20" r="1.60" fill="none" stroke="#333333" stroke-width="0.5"/>
<circle cx="96.30" cy="599.80" r="1.60" fill="none" stroke="#333333" stroke-width="0.5"/>
<circle cx="99.70" cy="598.00" r="1.60" fill="none" stroke="#333333" stroke-width="0.5"/>
<circle cx="100.60" cy="589.70" r="1.60" fill="none" stroke="#333333" stroke-width="0.5"/>
<line x1="125.70" y1="594.40" x2="125.70" y2="606.20" stroke="#333333" stroke-width="0.5"/>
<line x1="123.70" y1="594.40" x2="127.70" y2="594.40" stroke="#333333" stroke-width="0.5"/>
<line x1="123.70" y1="606.20" x2="127.70" y2="606.20" stroke="#333333" stroke-width="0.5"/>
<circle cx="129.20" cy="592.30" r="1.60" fill="none" stroke="#333333" stroke-width="0.5"/>
<circle cx="122.30" cy="594.90" r="1.60" fill="none" stroke="#333333" stroke-width="0.5"/>
<circle cx="129.20" cy="597.20" r="1.60" fill="none" stroke="#333333" stroke-width="0.5"/>
<circle cx="122.30" cy="602.70" r="1.60" fill="none" stroke="#333333" stroke-width="0.5"/>
<circle cx="129.20" cy="603.10" r="1.60" fill="none" stroke="#333333" stroke-width="0.5"/>
<circle cx="125.70" cy="609.10" r="1.60" fill="none" stroke="#333333" stroke-width="0.5"/>
<text transform="translate(99.60 546.80) scale(1.0730 1)" font-size="6.8" fill="#222222" text-anchor="middle"><tspan font-style="italic" dy="-0.00">P</tspan> = 0.0094</text>
<line x1="75.20" y1="549.40" x2="125.70" y2="549.40" stroke="#555" stroke-width="0.6"/>
<text transform="translate(87.60 558.90) scale(1.0033 1)" font-size="6.8" fill="#222222" text-anchor="middle"><tspan font-style="italic" dy="-0.00">P</tspan> = 0.001</text>
<line x1="75.20" y1="561.50" x2="100.60" y2="561.50" stroke="#555" stroke-width="0.6"/>
<text transform="translate(18.90 627.70) rotate(-90) scale(1.0400 1)" font-size="9.5" fill="#222222" text-anchor="middle">Total chlorophyll content</text>
<text transform="translate(29.70 628.00) rotate(-90) scale(0.9567 1)" font-size="9.5" fill="#222222" text-anchor="middle">(mg g<tspan font-size="6.00" dy="-3.60">–1</tspan><tspan dy="3.60"> FW)</tspan></text>
<text transform="translate(190.30 549.50)" font-size="13.2" fill="#000" font-weight="bold" stroke="#000" stroke-width="0.35">l</text>
<line x1="237.50" y1="563.00" x2="237.50" y2="690.30" stroke="#8a8a8a" stroke-width="0.6"/>
<line x1="237.50" y1="690.30" x2="349.30" y2="690.30" stroke="#8a8a8a" stroke-width="0.6"/>
<line x1="234.50" y1="690.30" x2="237.50" y2="690.30" stroke="#8a8a8a" stroke-width="0.6"/>
<text transform="translate(230.50 693.20)" font-size="8.15" fill="#222222" text-anchor="end">0</text>
<line x1="234.50" y1="664.86" x2="237.50" y2="664.86" stroke="#8a8a8a" stroke-width="0.6"/>
<text transform="translate(230.50 667.76)" font-size="8.15" fill="#222222" text-anchor="end">20</text>
<line x1="234.50" y1="639.42" x2="237.50" y2="639.42" stroke="#8a8a8a" stroke-width="0.6"/>
<text transform="translate(230.50 642.32)" font-size="8.15" fill="#222222" text-anchor="end">40</text>
<line x1="234.50" y1="613.98" x2="237.50" y2="613.98" stroke="#8a8a8a" stroke-width="0.6"/>
<text transform="translate(230.50 616.88)" font-size="8.15" fill="#222222" text-anchor="end">60</text>
<line x1="234.50" y1="588.54" x2="237.50" y2="588.54" stroke="#8a8a8a" stroke-width="0.6"/>
<text transform="translate(230.50 591.44)" font-size="8.15" fill="#222222" text-anchor="end">80</text>
<line x1="234.50" y1="563.10" x2="237.50" y2="563.10" stroke="#8a8a8a" stroke-width="0.6"/>
<text transform="translate(230.50 566.00)" font-size="8.15" fill="#222222" text-anchor="end">100</text>
<rect x="247.30" y="564.20" width="9.20" height="126.10" fill="#0cc892"/>
<line x1="251.90" y1="690.30" x2="251.90" y2="693.30" stroke="#8a8a8a" stroke-width="0.6"/>
<text transform="translate(255.90 701.30) rotate(-45)" font-size="9.5" fill="#222222" text-anchor="end">WT</text>
<rect x="267.80" y="597.10" width="9.20" height="93.20" fill="#fb9a2c"/>
<line x1="272.40" y1="690.30" x2="272.40" y2="693.30" stroke="#8a8a8a" stroke-width="0.6"/>
<text transform="translate(276.40 701.30) rotate(-45)" font-size="9.5" fill="#222222" text-anchor="end" font-style="italic">cry1cry2</text>
<rect x="288.60" y="588.10" width="9.20" height="102.20" fill="#0cc4f5"/>
<line x1="293.20" y1="690.30" x2="293.20" y2="693.30" stroke="#8a8a8a" stroke-width="0.6"/>
<text transform="translate(297.20 701.30) rotate(-45)" font-size="9.5" fill="#222222" text-anchor="end" font-style="italic">fio1-1</text>
<rect x="309.10" y="598.40" width="9.20" height="91.90" fill="#9a0ef5"/>
<line x1="313.70" y1="690.30" x2="313.70" y2="693.30" stroke="#8a8a8a" stroke-width="0.6"/>
<text transform="translate(317.70 701.30) rotate(-45)" font-size="9.5" fill="#222222" text-anchor="end" font-style="italic">mta</text>
<rect x="329.90" y="574.60" width="9.20" height="115.70" fill="#c9ba96"/>
<line x1="334.50" y1="690.30" x2="334.50" y2="693.30" stroke="#8a8a8a" stroke-width="0.6"/>
<text transform="translate(338.50 701.30) rotate(-45)" font-size="9.5" fill="#222222" text-anchor="end" font-style="italic">spa134</text>
<circle cx="247.30" cy="563.10" r="1.60" fill="none" stroke="#333333" stroke-width="0.5"/>
<circle cx="252.00" cy="563.10" r="1.60" fill="none" stroke="#333333" stroke-width="0.5"/>
<circle cx="256.50" cy="563.10" r="1.60" fill="none" stroke="#333333" stroke-width="0.5"/>
<line x1="272.40" y1="595.00" x2="272.40" y2="599.80" stroke="#333333" stroke-width="0.5"/>
<line x1="270.40" y1="595.00" x2="274.40" y2="595.00" stroke="#333333" stroke-width="0.5"/>
<line x1="270.40" y1="599.80" x2="274.40" y2="599.80" stroke="#333333" stroke-width="0.5"/>
<circle cx="268.30" cy="593.70" r="1.60" fill="none" stroke="#333333" stroke-width="0.5"/>
<circle cx="268.30" cy="600.10" r="1.60" fill="none" stroke="#333333" stroke-width="0.5"/>
<circle cx="277.20" cy="595.40" r="1.60" fill="none" stroke="#333333" stroke-width="0.5"/>
<line x1="293.20" y1="586.40" x2="293.20" y2="589.50" stroke="#333333" stroke-width="0.5"/>
<line x1="291.20" y1="586.40" x2="295.20" y2="586.40" stroke="#333333" stroke-width="0.5"/>
<line x1="291.20" y1="589.50" x2="295.20" y2="589.50" stroke="#333333" stroke-width="0.5"/>
<circle cx="288.60" cy="585.20" r="1.60" fill="none" stroke="#333333" stroke-width="0.5"/>
<circle cx="297.90" cy="586.20" r="1.60" fill="none" stroke="#333333" stroke-width="0.5"/>
<circle cx="293.20" cy="590.20" r="1.60" fill="none" stroke="#333333" stroke-width="0.5"/>
<line x1="313.70" y1="590.50" x2="313.70" y2="604.50" stroke="#333333" stroke-width="0.5"/>
<line x1="312.30" y1="590.50" x2="315.10" y2="590.50" stroke="#333333" stroke-width="0.5"/>
<line x1="312.30" y1="604.50" x2="315.10" y2="604.50" stroke="#333333" stroke-width="0.5"/>
<path d="M312.2,591.6 L315.2,591.6 L313.7,588.8 Z" fill="none" stroke="#333333" stroke-width="0.5"/>
<path d="M312.2,598.5 L315.2,598.5 L313.7,595.6999999999999 Z" fill="none" stroke="#333333" stroke-width="0.5"/>
<path d="M312.2,605.5 L315.2,605.5 L313.7,602.6999999999999 Z" fill="none" stroke="#333333" stroke-width="0.5"/>
<line x1="334.50" y1="573.30" x2="334.50" y2="575.60" stroke="#333333" stroke-width="0.5"/>
<line x1="332.50" y1="573.30" x2="336.50" y2="573.30" stroke="#333333" stroke-width="0.5"/>
<line x1="332.50" y1="575.60" x2="336.50" y2="575.60" stroke="#333333" stroke-width="0.5"/>
<circle cx="330.00" cy="571.50" r="1.60" fill="none" stroke="#333333" stroke-width="0.5"/>
<circle cx="338.90" cy="572.30" r="1.60" fill="none" stroke="#333333" stroke-width="0.5"/>
<circle cx="330.00" cy="576.20" r="1.60" fill="none" stroke="#333333" stroke-width="0.5"/>
<text transform="translate(269.50 590.20) rotate(-45) scale(0.9889 1)" font-size="6.8" fill="#222222"><tspan font-style="italic" dy="-0.00">P</tspan> = 3.88 × 10<tspan font-size="4.20" dy="-3.20">–5</tspan></text>
<text transform="translate(289.70 581.60) rotate(-45) scale(1.1121 1)" font-size="6.8" fill="#222222"><tspan font-style="italic" dy="-0.00">P</tspan> = 0.00015</text>
<text transform="translate(307.90 587.10) rotate(-45) scale(1.1057 1)" font-size="6.8" fill="#222222"><tspan font-style="italic" dy="-0.00">P</tspan> = 0.001</text>
<text transform="translate(332.20 567.70) rotate(-45) scale(1.1184 1)" font-size="6.8" fill="#222222"><tspan font-style="italic" dy="-0.00">P</tspan> = 0.0025</text>
<text transform="translate(212.00 627.00) rotate(-90) scale(0.9712 1)" font-size="9.5" fill="#222222" text-anchor="middle">Relative m<tspan font-size="6.00" dy="-3.60">6</tspan><tspan dy="3.60">A/A (%)</tspan></text>
<text transform="translate(0.00 736.90) scale(0.8900 1)" font-size="13.2" fill="#000" font-weight="bold" stroke="#000" stroke-width="0.35">m</text>
<line x1="35.70" y1="737.60" x2="35.70" y2="866.20" stroke="#8a8a8a" stroke-width="0.6"/>
<line x1="35.70" y1="866.20" x2="176.60" y2="866.20" stroke="#8a8a8a" stroke-width="0.6"/>
<line x1="32.70" y1="866.20" x2="35.70" y2="866.20" stroke="#8a8a8a" stroke-width="0.6"/>
<text transform="translate(28.70 869.10)" font-size="8.15" fill="#222222" text-anchor="end">0</text>
<line x1="32.70" y1="840.50" x2="35.70" y2="840.50" stroke="#8a8a8a" stroke-width="0.6"/>
<text transform="translate(28.70 843.40)" font-size="8.15" fill="#222222" text-anchor="end">2</text>
<line x1="32.70" y1="814.80" x2="35.70" y2="814.80" stroke="#8a8a8a" stroke-width="0.6"/>
<text transform="translate(28.70 817.70)" font-size="8.15" fill="#222222" text-anchor="end">4</text>
<line x1="32.70" y1="789.10" x2="35.70" y2="789.10" stroke="#8a8a8a" stroke-width="0.6"/>
<text transform="translate(28.70 792.00)" font-size="8.15" fill="#222222" text-anchor="end">6</text>
<line x1="32.70" y1="763.40" x2="35.70" y2="763.40" stroke="#8a8a8a" stroke-width="0.6"/>
<text transform="translate(28.70 766.30)" font-size="8.15" fill="#222222" text-anchor="end">8</text>
<line x1="32.70" y1="737.70" x2="35.70" y2="737.70" stroke="#8a8a8a" stroke-width="0.6"/>
<text transform="translate(28.70 740.60)" font-size="8.15" fill="#222222" text-anchor="end">10</text>
<rect x="39.00" y="847.82" width="4.70" height="18.38" fill="#808080"/>
<rect x="48.00" y="764.94" width="5.00" height="101.26" fill="#1a90ac"/>
<line x1="41.35" y1="843.97" x2="41.35" y2="851.68" stroke="#555" stroke-width="0.45"/>
<line x1="40.15" y1="843.97" x2="42.55" y2="843.97" stroke="#555" stroke-width="0.45"/>
<line x1="40.15" y1="851.68" x2="42.55" y2="851.68" stroke="#555" stroke-width="0.45"/>
<line x1="50.50" y1="748.49" x2="50.50" y2="781.39" stroke="#333" stroke-width="0.45"/>
<line x1="49.10" y1="748.49" x2="51.90" y2="748.49" stroke="#333" stroke-width="0.45"/>
<line x1="49.10" y1="781.39" x2="51.90" y2="781.39" stroke="#333" stroke-width="0.45"/>
<circle cx="41.65" cy="843.01" r="1.40" fill="none" stroke="#444" stroke-width="0.5"/>
<circle cx="40.95" cy="850.14" r="1.40" fill="none" stroke="#444" stroke-width="0.5"/>
<circle cx="42.15" cy="846.67" r="1.40" fill="none" stroke="#444" stroke-width="0.5"/>
<path d="M49.0,748.3 L52.0,748.3 L50.5,745.6 Z" fill="none" stroke="#222" stroke-width="0.5"/>
<path d="M48.3,774.3 L51.3,774.3 L49.8,771.6 Z" fill="none" stroke="#222" stroke-width="0.5"/>
<path d="M49.8,762.8 L52.8,762.8 L51.3,760.1 Z" fill="none" stroke="#222" stroke-width="0.5"/>
<text transform="translate(41.35 839.21)" font-size="8.0" fill="#e8262c" text-anchor="middle">c</text>
<text transform="translate(50.50 743.18)" font-size="8.0" fill="#e8262c" text-anchor="middle">a</text>
<line x1="45.70" y1="866.20" x2="45.70" y2="869.20" stroke="#8a8a8a" stroke-width="0.6"/>
<text transform="translate(49.70 877.20) rotate(-45)" font-size="9.5" fill="#222222" text-anchor="end">WT</text>
<rect x="62.90" y="849.11" width="4.70" height="17.09" fill="#808080"/>
<rect x="71.90" y="842.94" width="5.00" height="23.26" fill="#1a90ac"/>
<line x1="65.25" y1="843.33" x2="65.25" y2="854.89" stroke="#555" stroke-width="0.45"/>
<line x1="64.05" y1="843.33" x2="66.45" y2="843.33" stroke="#555" stroke-width="0.45"/>
<line x1="64.05" y1="854.89" x2="66.45" y2="854.89" stroke="#555" stroke-width="0.45"/>
<line x1="74.40" y1="831.38" x2="74.40" y2="854.51" stroke="#333" stroke-width="0.45"/>
<line x1="73.00" y1="831.38" x2="75.80" y2="831.38" stroke="#333" stroke-width="0.45"/>
<line x1="73.00" y1="854.51" x2="75.80" y2="854.51" stroke="#333" stroke-width="0.45"/>
<circle cx="65.55" cy="841.88" r="1.40" fill="none" stroke="#444" stroke-width="0.5"/>
<circle cx="64.85" cy="852.58" r="1.40" fill="none" stroke="#444" stroke-width="0.5"/>
<circle cx="66.05" cy="847.37" r="1.40" fill="none" stroke="#444" stroke-width="0.5"/>
<path d="M72.9,831.6 L75.9,831.6 L74.4,828.9 Z" fill="none" stroke="#222" stroke-width="0.5"/>
<path d="M72.2,849.8 L75.2,849.8 L73.7,847.1 Z" fill="none" stroke="#222" stroke-width="0.5"/>
<path d="M73.7,841.7 L76.7,841.7 L75.2,839.0 Z" fill="none" stroke="#222" stroke-width="0.5"/>
<text transform="translate(65.25 838.08)" font-size="8.0" fill="#e8262c" text-anchor="middle">c</text>
<text transform="translate(74.40 826.45)" font-size="8.0" fill="#e8262c" text-anchor="middle">b</text>
<line x1="69.60" y1="866.20" x2="69.60" y2="869.20" stroke="#8a8a8a" stroke-width="0.6"/>
<text transform="translate(73.60 877.20) rotate(-45)" font-size="9.5" fill="#222222" text-anchor="end" font-style="italic">cry1cry2</text>
<rect x="86.80" y="848.08" width="4.70" height="18.12" fill="#808080"/>
<rect x="95.80" y="824.69" width="5.00" height="41.51" fill="#1a90ac"/>
<line x1="89.15" y1="841.91" x2="89.15" y2="854.25" stroke="#555" stroke-width="0.45"/>
<line x1="87.95" y1="841.91" x2="90.35" y2="841.91" stroke="#555" stroke-width="0.45"/>
<line x1="87.95" y1="854.25" x2="90.35" y2="854.25" stroke="#555" stroke-width="0.45"/>
<line x1="98.30" y1="816.34" x2="98.30" y2="833.05" stroke="#333" stroke-width="0.45"/>
<line x1="96.90" y1="816.34" x2="99.70" y2="816.34" stroke="#333" stroke-width="0.45"/>
<line x1="96.90" y1="833.05" x2="99.70" y2="833.05" stroke="#333" stroke-width="0.45"/>
<circle cx="89.45" cy="840.37" r="1.40" fill="none" stroke="#444" stroke-width="0.5"/>
<circle cx="88.75" cy="851.78" r="1.40" fill="none" stroke="#444" stroke-width="0.5"/>
<circle cx="89.95" cy="846.23" r="1.40" fill="none" stroke="#444" stroke-width="0.5"/>
<path d="M96.8,816.8 L99.8,816.8 L98.3,814.1 Z" fill="none" stroke="#222" stroke-width="0.5"/>
<path d="M96.1,830.0 L99.1,830.0 L97.6,827.3 Z" fill="none" stroke="#222" stroke-width="0.5"/>
<path d="M97.6,824.1 L100.6,824.1 L99.1,821.4 Z" fill="none" stroke="#222" stroke-width="0.5"/>
<text transform="translate(89.15 836.57)" font-size="8.0" fill="#e8262c" text-anchor="middle">c</text>
<text transform="translate(98.30 811.67)" font-size="8.0" fill="#e8262c" text-anchor="middle">b</text>
<line x1="93.50" y1="866.20" x2="93.50" y2="869.20" stroke="#8a8a8a" stroke-width="0.6"/>
<text transform="translate(97.50 877.20) rotate(-45)" font-size="9.5" fill="#222222" text-anchor="end" font-style="italic">fio1</text>
<rect x="110.70" y="840.24" width="4.70" height="25.96" fill="#808080"/>
<rect x="119.70" y="771.11" width="5.00" height="95.09" fill="#1a90ac"/>
<line x1="113.05" y1="832.53" x2="113.05" y2="847.95" stroke="#555" stroke-width="0.45"/>
<line x1="111.85" y1="832.53" x2="114.25" y2="832.53" stroke="#555" stroke-width="0.45"/>
<line x1="111.85" y1="847.95" x2="114.25" y2="847.95" stroke="#555" stroke-width="0.45"/>
<line x1="122.20" y1="752.48" x2="122.20" y2="789.74" stroke="#333" stroke-width="0.45"/>
<line x1="120.80" y1="752.48" x2="123.60" y2="752.48" stroke="#333" stroke-width="0.45"/>
<line x1="120.80" y1="789.74" x2="123.60" y2="789.74" stroke="#333" stroke-width="0.45"/>
<circle cx="113.35" cy="830.61" r="1.40" fill="none" stroke="#444" stroke-width="0.5"/>
<circle cx="112.65" cy="844.87" r="1.40" fill="none" stroke="#444" stroke-width="0.5"/>
<circle cx="113.85" cy="837.93" r="1.40" fill="none" stroke="#444" stroke-width="0.5"/>
<path d="M120.7,752.1 L123.7,752.1 L122.2,749.4 Z" fill="none" stroke="#222" stroke-width="0.5"/>
<path d="M120.0,781.5 L123.0,781.5 L121.5,778.8 Z" fill="none" stroke="#222" stroke-width="0.5"/>
<path d="M121.5,768.5 L124.5,768.5 L123.0,765.8 Z" fill="none" stroke="#222" stroke-width="0.5"/>
<text transform="translate(113.05 826.81)" font-size="8.0" fill="#e8262c" text-anchor="middle">c</text>
<text transform="translate(122.20 746.99)" font-size="8.0" fill="#e8262c" text-anchor="middle">a</text>
<line x1="117.40" y1="866.20" x2="117.40" y2="869.20" stroke="#8a8a8a" stroke-width="0.6"/>
<text transform="translate(121.40 877.20) rotate(-45)" font-size="9.5" fill="#222222" text-anchor="end" font-style="italic">mta</text>
<rect x="134.60" y="849.11" width="4.70" height="17.09" fill="#808080"/>
<rect x="143.60" y="809.15" width="5.00" height="57.05" fill="#1a90ac"/>
<line x1="136.95" y1="842.68" x2="136.95" y2="855.53" stroke="#555" stroke-width="0.45"/>
<line x1="135.75" y1="842.68" x2="138.15" y2="842.68" stroke="#555" stroke-width="0.45"/>
<line x1="135.75" y1="855.53" x2="138.15" y2="855.53" stroke="#555" stroke-width="0.45"/>
<line x1="146.10" y1="798.22" x2="146.10" y2="820.07" stroke="#333" stroke-width="0.45"/>
<line x1="144.70" y1="798.22" x2="147.50" y2="798.22" stroke="#333" stroke-width="0.45"/>
<line x1="144.70" y1="820.07" x2="147.50" y2="820.07" stroke="#333" stroke-width="0.45"/>
<circle cx="137.25" cy="841.08" r="1.40" fill="none" stroke="#444" stroke-width="0.5"/>
<circle cx="136.55" cy="852.96" r="1.40" fill="none" stroke="#444" stroke-width="0.5"/>
<circle cx="137.75" cy="847.18" r="1.40" fill="none" stroke="#444" stroke-width="0.5"/>
<path d="M144.6,798.4 L147.6,798.4 L146.1,795.7 Z" fill="none" stroke="#222" stroke-width="0.5"/>
<path d="M143.9,815.7 L146.9,815.7 L145.4,813.0 Z" fill="none" stroke="#222" stroke-width="0.5"/>
<path d="M145.4,808.1 L148.4,808.1 L146.9,805.4 Z" fill="none" stroke="#222" stroke-width="0.5"/>
<text transform="translate(136.95 837.28)" font-size="8.0" fill="#e8262c" text-anchor="middle">c</text>
<text transform="translate(146.10 793.35)" font-size="8.0" fill="#e8262c" text-anchor="middle">b</text>
<line x1="141.30" y1="866.20" x2="141.30" y2="869.20" stroke="#8a8a8a" stroke-width="0.6"/>
<text transform="translate(145.30 877.20) rotate(-45)" font-size="9.5" fill="#222222" text-anchor="end" font-style="italic">spa123</text>
<rect x="158.50" y="853.74" width="4.70" height="12.46" fill="#808080"/>
<rect x="167.50" y="808.38" width="5.00" height="57.83" fill="#1a90ac"/>
<line x1="160.85" y1="850.52" x2="160.85" y2="856.95" stroke="#555" stroke-width="0.45"/>
<line x1="159.65" y1="850.52" x2="162.05" y2="850.52" stroke="#555" stroke-width="0.45"/>
<line x1="159.65" y1="856.95" x2="162.05" y2="856.95" stroke="#555" stroke-width="0.45"/>
<line x1="170.00" y1="800.67" x2="170.00" y2="816.09" stroke="#333" stroke-width="0.45"/>
<line x1="168.60" y1="800.67" x2="171.40" y2="800.67" stroke="#333" stroke-width="0.45"/>
<line x1="168.60" y1="816.09" x2="171.40" y2="816.09" stroke="#333" stroke-width="0.45"/>
<circle cx="161.15" cy="849.72" r="1.40" fill="none" stroke="#444" stroke-width="0.5"/>
<circle cx="160.45" cy="855.66" r="1.40" fill="none" stroke="#444" stroke-width="0.5"/>
<circle cx="161.65" cy="852.77" r="1.40" fill="none" stroke="#444" stroke-width="0.5"/>
<path d="M168.5,801.1 L171.5,801.1 L170.0,798.4 Z" fill="none" stroke="#222" stroke-width="0.5"/>
<path d="M167.8,813.3 L170.8,813.3 L169.3,810.6 Z" fill="none" stroke="#222" stroke-width="0.5"/>
<path d="M169.3,807.9 L172.3,807.9 L170.8,805.2 Z" fill="none" stroke="#222" stroke-width="0.5"/>
<text transform="translate(160.85 845.92)" font-size="8.0" fill="#e8262c" text-anchor="middle">c</text>
<text transform="translate(170.00 796.05)" font-size="8.0" fill="#e8262c" text-anchor="middle">b</text>
<line x1="165.20" y1="866.20" x2="165.20" y2="869.20" stroke="#8a8a8a" stroke-width="0.6"/>
<text transform="translate(169.20 877.20) rotate(-45)" font-size="9.5" fill="#222222" text-anchor="end" font-style="italic">spa134</text>
<text transform="translate(151.30 745.60) scale(0.9874 1)" font-size="8.15" fill="#222222" text-anchor="middle" font-style="italic">AT4G10300</text>
<text transform="translate(12.40 802.40) rotate(-90) scale(1.0285 1)" font-size="9.5" fill="#222222" text-anchor="middle">m<tspan font-size="6.00" dy="-3.60">6</tspan><tspan dy="3.60">A IP/input</tspan></text>
<text transform="translate(190.30 736.90) scale(0.9000 1)" font-size="13.2" fill="#000" font-weight="bold" stroke="#000" stroke-width="0.35">n</text>
<line x1="227.70" y1="737.60" x2="227.70" y2="866.20" stroke="#8a8a8a" stroke-width="0.6"/>
<line x1="227.70" y1="866.20" x2="366.50" y2="866.20" stroke="#8a8a8a" stroke-width="0.6"/>
<line x1="224.70" y1="866.20" x2="227.70" y2="866.20" stroke="#8a8a8a" stroke-width="0.6"/>
<text transform="translate(220.70 869.10)" font-size="8.15" fill="#222222" text-anchor="end">0</text>
<line x1="224.70" y1="823.35" x2="227.70" y2="823.35" stroke="#8a8a8a" stroke-width="0.6"/>
<text transform="translate(220.70 826.25)" font-size="8.15" fill="#222222" text-anchor="end">10</text>
<line x1="224.70" y1="780.50" x2="227.70" y2="780.50" stroke="#8a8a8a" stroke-width="0.6"/>
<text transform="translate(220.70 783.40)" font-size="8.15" fill="#222222" text-anchor="end">20</text>
<line x1="224.70" y1="737.65" x2="227.70" y2="737.65" stroke="#8a8a8a" stroke-width="0.6"/>
<text transform="translate(220.70 740.55)" font-size="8.15" fill="#222222" text-anchor="end">30</text>
<rect x="230.50" y="854.29" width="4.90" height="11.91" fill="#808080"/>
<rect x="239.40" y="760.36" width="5.10" height="105.84" fill="#1a90ac"/>
<line x1="232.95" y1="847.43" x2="232.95" y2="861.14" stroke="#555" stroke-width="0.45"/>
<line x1="231.75" y1="847.43" x2="234.15" y2="847.43" stroke="#555" stroke-width="0.45"/>
<line x1="231.75" y1="861.14" x2="234.15" y2="861.14" stroke="#555" stroke-width="0.45"/>
<line x1="241.95" y1="743.65" x2="241.95" y2="777.07" stroke="#333" stroke-width="0.45"/>
<line x1="240.55" y1="743.65" x2="243.35" y2="743.65" stroke="#333" stroke-width="0.45"/>
<line x1="240.55" y1="777.07" x2="243.35" y2="777.07" stroke="#333" stroke-width="0.45"/>
<circle cx="233.25" cy="845.72" r="1.40" fill="none" stroke="#444" stroke-width="0.5"/>
<circle cx="232.55" cy="858.40" r="1.40" fill="none" stroke="#444" stroke-width="0.5"/>
<circle cx="233.75" cy="852.23" r="1.40" fill="none" stroke="#444" stroke-width="0.5"/>
<path d="M240.5,743.4 L243.5,743.4 L242.0,740.7 Z" fill="none" stroke="#222" stroke-width="0.5"/>
<path d="M239.8,769.8 L242.8,769.8 L241.3,767.1 Z" fill="none" stroke="#222" stroke-width="0.5"/>
<path d="M241.3,758.1 L244.3,758.1 L242.8,755.4 Z" fill="none" stroke="#222" stroke-width="0.5"/>
<text transform="translate(232.95 841.92)" font-size="8.0" fill="#e8262c" text-anchor="middle">d</text>
<text transform="translate(241.95 738.31)" font-size="8.0" fill="#e8262c" text-anchor="middle">a</text>
<line x1="237.50" y1="866.20" x2="237.50" y2="869.20" stroke="#8a8a8a" stroke-width="0.6"/>
<text transform="translate(241.50 877.20) rotate(-45)" font-size="9.5" fill="#222222" text-anchor="end">WT</text>
<rect x="254.35" y="854.29" width="4.90" height="11.91" fill="#808080"/>
<rect x="263.25" y="840.79" width="5.10" height="25.41" fill="#1a90ac"/>
<line x1="256.80" y1="850.86" x2="256.80" y2="857.72" stroke="#555" stroke-width="0.45"/>
<line x1="255.60" y1="850.86" x2="258.00" y2="850.86" stroke="#555" stroke-width="0.45"/>
<line x1="255.60" y1="857.72" x2="258.00" y2="857.72" stroke="#555" stroke-width="0.45"/>
<line x1="265.80" y1="830.51" x2="265.80" y2="851.07" stroke="#333" stroke-width="0.45"/>
<line x1="264.40" y1="830.51" x2="267.20" y2="830.51" stroke="#333" stroke-width="0.45"/>
<line x1="264.40" y1="851.07" x2="267.20" y2="851.07" stroke="#333" stroke-width="0.45"/>
<circle cx="257.10" cy="850.00" r="1.40" fill="none" stroke="#444" stroke-width="0.5"/>
<circle cx="256.40" cy="856.34" r="1.40" fill="none" stroke="#444" stroke-width="0.5"/>
<circle cx="257.60" cy="853.26" r="1.40" fill="none" stroke="#444" stroke-width="0.5"/>
<path d="M264.3,830.8 L267.3,830.8 L265.8,828.1 Z" fill="none" stroke="#222" stroke-width="0.5"/>
<path d="M263.6,847.0 L266.6,847.0 L265.1,844.3 Z" fill="none" stroke="#222" stroke-width="0.5"/>
<path d="M265.1,839.8 L268.1,839.8 L266.6,837.1 Z" fill="none" stroke="#222" stroke-width="0.5"/>
<text transform="translate(256.80 846.20)" font-size="8.0" fill="#e8262c" text-anchor="middle">d</text>
<text transform="translate(265.80 825.68)" font-size="8.0" fill="#e8262c" text-anchor="middle">c</text>
<line x1="261.35" y1="866.20" x2="261.35" y2="869.20" stroke="#8a8a8a" stroke-width="0.6"/>
<text transform="translate(265.35 877.20) rotate(-45)" font-size="9.5" fill="#222222" text-anchor="end" font-style="italic">cry1cry2</text>
<rect x="278.20" y="848.63" width="4.90" height="17.57" fill="#808080"/>
<rect x="287.10" y="827.29" width="5.10" height="38.91" fill="#1a90ac"/>
<line x1="280.65" y1="843.06" x2="280.65" y2="854.20" stroke="#555" stroke-width="0.45"/>
<line x1="279.45" y1="843.06" x2="281.85" y2="843.06" stroke="#555" stroke-width="0.45"/>
<line x1="279.45" y1="854.20" x2="281.85" y2="854.20" stroke="#555" stroke-width="0.45"/>
<line x1="289.65" y1="817.87" x2="289.65" y2="836.72" stroke="#333" stroke-width="0.45"/>
<line x1="288.25" y1="817.87" x2="291.05" y2="817.87" stroke="#333" stroke-width="0.45"/>
<line x1="288.25" y1="836.72" x2="291.05" y2="836.72" stroke="#333" stroke-width="0.45"/>
<circle cx="280.95" cy="841.67" r="1.40" fill="none" stroke="#444" stroke-width="0.5"/>
<circle cx="280.25" cy="851.97" r="1.40" fill="none" stroke="#444" stroke-width="0.5"/>
<circle cx="281.45" cy="846.96" r="1.40" fill="none" stroke="#444" stroke-width="0.5"/>
<path d="M288.1,818.2 L291.1,818.2 L289.6,815.5 Z" fill="none" stroke="#222" stroke-width="0.5"/>
<path d="M287.4,833.1 L290.4,833.1 L288.9,830.4 Z" fill="none" stroke="#222" stroke-width="0.5"/>
<path d="M288.9,826.5 L291.9,826.5 L290.4,823.8 Z" fill="none" stroke="#222" stroke-width="0.5"/>
<text transform="translate(280.65 837.87)" font-size="8.0" fill="#e8262c" text-anchor="middle">d</text>
<text transform="translate(289.65 813.11)" font-size="8.0" fill="#e8262c" text-anchor="middle">c</text>
<line x1="285.20" y1="866.20" x2="285.20" y2="869.20" stroke="#8a8a8a" stroke-width="0.6"/>
<text transform="translate(289.20 877.20) rotate(-45)" font-size="9.5" fill="#222222" text-anchor="end" font-style="italic">fio1</text>
<rect x="302.05" y="849.92" width="4.90" height="16.28" fill="#808080"/>
<rect x="310.95" y="777.93" width="5.10" height="88.27" fill="#1a90ac"/>
<line x1="304.50" y1="847.77" x2="304.50" y2="852.06" stroke="#555" stroke-width="0.45"/>
<line x1="303.30" y1="847.77" x2="305.70" y2="847.77" stroke="#555" stroke-width="0.45"/>
<line x1="303.30" y1="852.06" x2="305.70" y2="852.06" stroke="#555" stroke-width="0.45"/>
<line x1="313.50" y1="762.50" x2="313.50" y2="793.36" stroke="#333" stroke-width="0.45"/>
<line x1="312.10" y1="762.50" x2="314.90" y2="762.50" stroke="#333" stroke-width="0.45"/>
<line x1="312.10" y1="793.36" x2="314.90" y2="793.36" stroke="#333" stroke-width="0.45"/>
<circle cx="304.80" cy="847.24" r="1.40" fill="none" stroke="#444" stroke-width="0.5"/>
<circle cx="304.10" cy="851.20" r="1.40" fill="none" stroke="#444" stroke-width="0.5"/>
<circle cx="305.30" cy="849.27" r="1.40" fill="none" stroke="#444" stroke-width="0.5"/>
<path d="M312.0,762.4 L315.0,762.4 L313.5,759.7 Z" fill="none" stroke="#222" stroke-width="0.5"/>
<path d="M311.3,786.7 L314.3,786.7 L312.8,784.0 Z" fill="none" stroke="#222" stroke-width="0.5"/>
<path d="M312.8,775.9 L315.8,775.9 L314.3,773.2 Z" fill="none" stroke="#222" stroke-width="0.5"/>
<text transform="translate(304.50 843.44)" font-size="8.0" fill="#e8262c" text-anchor="middle">d</text>
<text transform="translate(313.50 757.27)" font-size="8.0" fill="#e8262c" text-anchor="middle">a</text>
<line x1="309.05" y1="866.20" x2="309.05" y2="869.20" stroke="#8a8a8a" stroke-width="0.6"/>
<text transform="translate(313.05 877.20) rotate(-45)" font-size="9.5" fill="#222222" text-anchor="end" font-style="italic">mta</text>
<rect x="325.90" y="849.92" width="4.90" height="16.28" fill="#808080"/>
<rect x="334.80" y="804.50" width="5.10" height="61.70" fill="#1a90ac"/>
<line x1="328.35" y1="847.35" x2="328.35" y2="852.49" stroke="#555" stroke-width="0.45"/>
<line x1="327.15" y1="847.35" x2="329.55" y2="847.35" stroke="#555" stroke-width="0.45"/>
<line x1="327.15" y1="852.49" x2="329.55" y2="852.49" stroke="#555" stroke-width="0.45"/>
<line x1="337.35" y1="798.50" x2="337.35" y2="810.50" stroke="#333" stroke-width="0.45"/>
<line x1="335.95" y1="798.50" x2="338.75" y2="798.50" stroke="#333" stroke-width="0.45"/>
<line x1="335.95" y1="810.50" x2="338.75" y2="810.50" stroke="#333" stroke-width="0.45"/>
<circle cx="328.65" cy="846.70" r="1.40" fill="none" stroke="#444" stroke-width="0.5"/>
<circle cx="327.95" cy="851.46" r="1.40" fill="none" stroke="#444" stroke-width="0.5"/>
<circle cx="329.15" cy="849.15" r="1.40" fill="none" stroke="#444" stroke-width="0.5"/>
<path d="M335.8,799.1 L338.8,799.1 L337.3,796.4 Z" fill="none" stroke="#222" stroke-width="0.5"/>
<path d="M335.1,808.6 L338.1,808.6 L336.6,805.9 Z" fill="none" stroke="#222" stroke-width="0.5"/>
<path d="M336.6,804.4 L339.6,804.4 L338.1,801.7 Z" fill="none" stroke="#222" stroke-width="0.5"/>
<text transform="translate(328.35 842.90)" font-size="8.0" fill="#e8262c" text-anchor="middle">d</text>
<text transform="translate(337.35 794.02)" font-size="8.0" fill="#e8262c" text-anchor="middle">b</text>
<line x1="332.90" y1="866.20" x2="332.90" y2="869.20" stroke="#8a8a8a" stroke-width="0.6"/>
<text transform="translate(336.90 877.20) rotate(-45)" font-size="9.5" fill="#222222" text-anchor="end" font-style="italic">spa123</text>
<rect x="349.75" y="858.62" width="4.90" height="7.58" fill="#808080"/>
<rect x="358.65" y="831.62" width="5.10" height="34.58" fill="#1a90ac"/>
<line x1="352.20" y1="856.47" x2="352.20" y2="860.76" stroke="#555" stroke-width="0.45"/>
<line x1="351.00" y1="856.47" x2="353.40" y2="856.47" stroke="#555" stroke-width="0.45"/>
<line x1="351.00" y1="860.76" x2="353.40" y2="860.76" stroke="#555" stroke-width="0.45"/>
<line x1="361.20" y1="826.05" x2="361.20" y2="837.19" stroke="#333" stroke-width="0.45"/>
<line x1="359.80" y1="826.05" x2="362.60" y2="826.05" stroke="#333" stroke-width="0.45"/>
<line x1="359.80" y1="837.19" x2="362.60" y2="837.19" stroke="#333" stroke-width="0.45"/>
<circle cx="352.50" cy="855.94" r="1.40" fill="none" stroke="#444" stroke-width="0.5"/>
<circle cx="351.80" cy="859.90" r="1.40" fill="none" stroke="#444" stroke-width="0.5"/>
<circle cx="353.00" cy="857.97" r="1.40" fill="none" stroke="#444" stroke-width="0.5"/>
<path d="M359.7,826.7 L362.7,826.7 L361.2,824.0 Z" fill="none" stroke="#222" stroke-width="0.5"/>
<path d="M359.0,835.5 L362.0,835.5 L360.5,832.8 Z" fill="none" stroke="#222" stroke-width="0.5"/>
<path d="M360.5,831.6 L363.5,831.6 L362.0,828.9 Z" fill="none" stroke="#222" stroke-width="0.5"/>
<text transform="translate(352.20 852.14)" font-size="8.0" fill="#e8262c" text-anchor="middle">d</text>
<text transform="translate(361.20 821.60)" font-size="8.0" fill="#e8262c" text-anchor="middle">c</text>
<line x1="356.75" y1="866.20" x2="356.75" y2="869.20" stroke="#8a8a8a" stroke-width="0.6"/>
<text transform="translate(360.75 877.20) rotate(-45)" font-size="9.5" fill="#222222" text-anchor="end" font-style="italic">spa134</text>
<rect x="251.80" y="741.30" width="9.60" height="4.20" fill="#808080"/>
<rect x="251.80" y="756.90" width="9.60" height="4.00" fill="#1a90ac"/>
<text transform="translate(264.80 746.80) scale(0.9472 1)" font-size="9.5" fill="#222222">Dark</text>
<text transform="translate(264.80 762.30) scale(1.0363 1)" font-size="9.5" fill="#222222">Blue light</text>
<text transform="translate(338.60 746.60) scale(1.0059 1)" font-size="8.15" fill="#222222" text-anchor="middle" font-style="italic">AT4G39460</text>
<text transform="translate(201.70 802.40) rotate(-90) scale(1.0285 1)" font-size="9.5" fill="#222222" text-anchor="middle">m<tspan font-size="6.00" dy="-3.60">6</tspan><tspan dy="3.60">A IP/input</tspan></text>
<text transform="translate(381.80 550.60) scale(0.9500 1)" font-size="13.2" fill="#000" font-weight="bold" stroke="#000" stroke-width="0.35">o</text>
<rect x="381.80" y="555.50" width="310.80" height="337.20" fill="#f1f0ec"/>
<g clip-path="url(#obox)">
<ellipse cx="462.00" cy="627.00" rx="148.50" ry="143.60" fill="url(#nuc)"/>
<path d="M575.76,534.70 L579.38,539.04 L582.82,543.51 L586.08,548.11 L589.16,552.83 L592.04,557.66 L594.72,562.59" fill="none" stroke="#b2b2b2" stroke-width="5.2" stroke-linejoin="round" stroke-linecap="round"/>
<path d="M575.76,534.70 L579.38,539.04 L582.82,543.51 L586.08,548.11 L589.16,552.83 L592.04,557.66 L594.72,562.59" fill="none" stroke="#e1e1e1" stroke-width="4.0" stroke-linejoin="round" stroke-linecap="round"/>
<path d="M603.27,582.74 L604.89,587.91 L606.31,593.13 L607.53,598.40 L608.53,603.71 L609.34,609.06 L609.93,614.43 L610.31,619.81 L610.49,625.21 L610.45,630.61 L610.21,636.01 L609.75,641.39" fill="none" stroke="#b2b2b2" stroke-width="5.2" stroke-linejoin="round" stroke-linecap="round"/>
<path d="M603.27,582.74 L604.89,587.91 L606.31,593.13 L607.53,598.40 L608.53,603.71 L609.34,609.06 L609.93,614.43 L610.31,619.81 L610.49,625.21 L610.45,630.61 L610.21,636.01 L609.75,641.39" fill="none" stroke="#e1e1e1" stroke-width="4.0" stroke-linejoin="round" stroke-linecap="round"/>
<path d="M605.80,662.83 L604.35,667.90 L602.70,672.92 L600.87,677.88 L598.85,682.76 L596.64,687.57 L594.26,692.30 L591.69,696.95 L588.95,701.50 L586.05,705.94 L582.97,710.29 L579.73,714.52" fill="none" stroke="#b2b2b2" stroke-width="5.2" stroke-linejoin="round" stroke-linecap="round"/>
<path d="M605.80,662.83 L604.35,667.90 L602.70,672.92 L600.87,677.88 L598.85,682.76 L596.64,687.57 L594.26,692.30 L591.69,696.95 L588.95,701.50 L586.05,705.94 L582.97,710.29 L579.73,714.52" fill="none" stroke="#e1e1e1" stroke-width="4.0" stroke-linejoin="round" stroke-linecap="round"/>
<path d="M564.69,730.73 L560.71,734.29 L556.59,737.70 L552.35,740.96 L547.99,744.07 L543.52,747.03 L538.94,749.82 L534.25,752.46 L529.47,754.92 L524.60,757.22 L519.64,759.34 L514.61,761.29" fill="none" stroke="#b2b2b2" stroke-width="5.2" stroke-linejoin="round" stroke-linecap="round"/>
<path d="M564.69,730.73 L560.71,734.29 L556.59,737.70 L552.35,740.96 L547.99,744.07 L543.52,747.03 L538.94,749.82 L534.25,752.46 L529.47,754.92 L524.60,757.22 L519.64,759.34 L514.61,761.29" fill="none" stroke="#e1e1e1" stroke-width="4.0" stroke-linejoin="round" stroke-linecap="round"/>
<path d="M493.00,767.44 L487.59,768.45 L482.14,769.27 L476.67,769.90 L471.17,770.33 L465.66,770.56 L460.15,770.59 L454.64,770.42 L449.14,770.06 L443.66,769.50 L438.20,768.74 L432.77,767.79" fill="none" stroke="#b2b2b2" stroke-width="5.2" stroke-linejoin="round" stroke-linecap="round"/>
<path d="M493.00,767.44 L487.59,768.45 L482.14,769.27 L476.67,769.90 L471.17,770.33 L465.66,770.56 L460.15,770.59 L454.64,770.42 L449.14,770.06 L443.66,769.50 L438.20,768.74 L432.77,767.79" fill="none" stroke="#e1e1e1" stroke-width="4.0" stroke-linejoin="round" stroke-linecap="round"/>
<path d="M411.09,761.90 L406.06,760.02 L401.11,757.97 L396.23,755.75 L391.45,753.36 L386.75,750.80 L382.16,748.08 L377.67,745.20 L373.29,742.16 L369.03,738.97 L364.89,735.64 L360.87,732.16 L356.99,728.54" fill="none" stroke="#b2b2b2" stroke-width="5.2" stroke-linejoin="round" stroke-linecap="round"/>
<path d="M411.09,761.90 L406.06,760.02 L401.11,757.97 L396.23,755.75 L391.45,753.36 L386.75,750.80 L382.16,748.08 L377.67,745.20 L373.29,742.16 L369.03,738.97 L364.89,735.64 L360.87,732.16 L356.99,728.54" fill="none" stroke="#e1e1e1" stroke-width="4.0" stroke-linejoin="round" stroke-linecap="round"/>
<g transform="translate(599.39 572.51) rotate(-23.0)"><path d="M-7.6,-7.4 Q-9.6,0 -7.6,7.4 C-3,6.0 3,6.0 7.6,8.2 Q5.4,0 7.6,-8.2 C3,-6.0 -3,-6.0 -7.6,-7.4 Z" fill="#e2e2e2" stroke="#8c8c8c" stroke-width="0.55" stroke-linejoin="round"/><path d="M-7.5,-4.7 Q-9.2,0 -7.5,4.7 C-3,2.9 3,2.9 7.0,5.2 Q5.2,0 7.0,-5.2 C3,-2.9 -3,-2.9 -7.5,-4.7 Z" fill="url(#pore)" stroke="url(#pore)" stroke-width="0.5" stroke-linejoin="round"/></g>
<g transform="translate(608.20 652.18) rotate(10.4)"><path d="M-7.6,-7.4 Q-9.6,0 -7.6,7.4 C-3,6.0 3,6.0 7.6,8.2 Q5.4,0 7.6,-8.2 C3,-6.0 -3,-6.0 -7.6,-7.4 Z" fill="#e2e2e2" stroke="#8c8c8c" stroke-width="0.55" stroke-linejoin="round"/><path d="M-7.5,-4.7 Q-9.2,0 -7.5,4.7 C-3,2.9 3,2.9 7.0,5.2 Q5.2,0 7.0,-5.2 C3,-2.9 -3,-2.9 -7.5,-4.7 Z" fill="url(#pore)" stroke="url(#pore)" stroke-width="0.5" stroke-linejoin="round"/></g>
<g transform="translate(572.53 722.90) rotate(42.9)"><path d="M-7.6,-7.4 Q-9.6,0 -7.6,7.4 C-3,6.0 3,6.0 7.6,8.2 Q5.4,0 7.6,-8.2 C3,-6.0 -3,-6.0 -7.6,-7.4 Z" fill="#e2e2e2" stroke="#8c8c8c" stroke-width="0.55" stroke-linejoin="round"/><path d="M-7.5,-4.7 Q-9.2,0 -7.5,4.7 C-3,2.9 3,2.9 7.0,5.2 Q5.2,0 7.0,-5.2 C3,-2.9 -3,-2.9 -7.5,-4.7 Z" fill="url(#pore)" stroke="url(#pore)" stroke-width="0.5" stroke-linejoin="round"/></g>
<g transform="translate(503.93 764.76) rotate(74.1)"><path d="M-7.6,-7.4 Q-9.6,0 -7.6,7.4 C-3,6.0 3,6.0 7.6,8.2 Q5.4,0 7.6,-8.2 C3,-6.0 -3,-6.0 -7.6,-7.4 Z" fill="#e2e2e2" stroke="#8c8c8c" stroke-width="0.55" stroke-linejoin="round"/><path d="M-7.5,-4.7 Q-9.2,0 -7.5,4.7 C-3,2.9 3,2.9 7.0,5.2 Q5.2,0 7.0,-5.2 C3,-2.9 -3,-2.9 -7.5,-4.7 Z" fill="url(#pore)" stroke="url(#pore)" stroke-width="0.5" stroke-linejoin="round"/></g>
<g transform="translate(421.82 765.24) rotate(105.2)"><path d="M-7.6,-7.4 Q-9.6,0 -7.6,7.4 C-3,6.0 3,6.0 7.6,8.2 Q5.4,0 7.6,-8.2 C3,-6.0 -3,-6.0 -7.6,-7.4 Z" fill="#e2e2e2" stroke="#8c8c8c" stroke-width="0.55" stroke-linejoin="round"/><path d="M-7.5,-4.7 Q-9.2,0 -7.5,4.7 C-3,2.9 3,2.9 7.0,5.2 Q5.2,0 7.0,-5.2 C3,-2.9 -3,-2.9 -7.5,-4.7 Z" fill="url(#pore)" stroke="url(#pore)" stroke-width="0.5" stroke-linejoin="round"/></g>
<ellipse cx="414.70" cy="580.30" rx="13.90" ry="11.10" fill="url(#gCRYl)" stroke="#5f76a3" stroke-width="0.55" transform="rotate(0 414.70 580.30)"/>
<g transform="translate(414.70 580.30) rotate(0)">
<text transform="translate(0.00 3.20) scale(0.8820 1)" font-size="9.2" fill="#1a1a1a" text-anchor="middle">CRY2</text>
</g>
<ellipse cx="441.30" cy="576.60" rx="14.30" ry="12.00" fill="url(#gFIO)" stroke="#5f4f85" stroke-width="0.55" transform="rotate(0 441.30 576.60)"/>
<g transform="translate(441.30 576.60) rotate(0)">
<text transform="translate(0.00 3.20) scale(0.8705 1)" font-size="9.2" fill="#1a1a1a" text-anchor="middle">FIO1</text>
</g>
<ellipse cx="502.70" cy="573.20" rx="13.90" ry="11.50" fill="url(#gFIO)" stroke="#5f4f85" stroke-width="0.55" transform="rotate(0 502.70 573.20)"/>
<g transform="translate(502.70 573.20) rotate(0)">
<text transform="translate(0.00 3.20) scale(0.8705 1)" font-size="9.2" fill="#1a1a1a" text-anchor="middle">FIO1</text>
</g>
<ellipse cx="476.60" cy="570.40" rx="14.30" ry="12.00" fill="url(#gSPA)" stroke="#a8842e" stroke-width="0.55" transform="rotate(0 476.60 570.40)"/>
<g transform="translate(476.60 570.40) rotate(0)">
<text transform="translate(0.00 3.20) scale(0.8405 1)" font-size="9.2" fill="#1a1a1a" text-anchor="middle">SPA1</text>
</g>
<path d="M412,562.5 Q423.5,553 434.5,562" fill="none" stroke="url(#ra1)" stroke-width="0.9" marker-end="url(#mra1)"/>
<path d="M477,589 Q488.5,597.5 500,588.5" fill="none" stroke="url(#ra2)" stroke-width="0.9" marker-end="url(#mra2)"/>
<path d="M455.8,582 L455.8,614.5" stroke="url(#ga1)" stroke-width="1.1" fill="none"/>
<path d="M453.3,612.5 L455.8,619.2 L458.3,612.5 Q455.8,614.2 453.3,612.5 Z" fill="#3a3030"/>
<path transform="translate(444.0 601.2)" d="M-6.5,-8 L0.5,-8.8 L2.6,-3.2 L5.2,-3.8 L8.5,8.5 L1.6,1.6 L-1.2,2.6 Z" fill="url(#bolt)"/>
<path transform="translate(465.6 602.2)" d="M-6.5,-8 L0.5,-8.8 L2.6,-3.2 L5.2,-3.8 L8.5,8.5 L1.6,1.6 L-1.2,2.6 Z" fill="url(#bolt)"/>
<text transform="translate(393.00 611.50) scale(1.0056 1)" font-size="9.5" fill="#3a8fd6">Blue light</text>
<circle cx="453.40" cy="686.50" r="63.70" fill="url(#pb)" stroke="#777" stroke-width="0.5" stroke-dasharray="1.6 1.3"/>
<ellipse cx="449.60" cy="665.50" rx="14.00" ry="10.00" fill="url(#gCRY)" stroke="#1a64a0" stroke-width="0.55" transform="rotate(-80 449.60 665.50)"/>
<g transform="translate(449.60 665.50) rotate(-80)">
<text transform="translate(0.00 3.20) scale(0.8820 1)" font-size="9.2" fill="#1a1a1a" text-anchor="middle">CRY2</text>
</g>
<ellipse cx="466.80" cy="682.70" rx="13.20" ry="10.20" fill="url(#gCRY)" stroke="#1a64a0" stroke-width="0.55" transform="rotate(0 466.80 682.70)"/>
<g transform="translate(466.80 682.70) rotate(0)">
<text transform="translate(0.00 3.20) scale(0.8820 1)" font-size="9.2" fill="#1a1a1a" text-anchor="middle">CRY2</text>
</g>
<ellipse cx="461.40" cy="705.90" rx="14.00" ry="9.80" fill="url(#gCRY)" stroke="#1a64a0" stroke-width="0.55" transform="rotate(80 461.40 705.90)"/>
<g transform="translate(461.40 705.90) rotate(80)">
<text transform="translate(0.00 3.20) scale(0.8820 1)" font-size="9.2" fill="#1a1a1a" text-anchor="middle">CRY2</text>
</g>
<ellipse cx="442.60" cy="691.40" rx="15.00" ry="10.20" fill="url(#gCRY)" stroke="#1a64a0" stroke-width="0.55" transform="rotate(0 442.60 691.40)"/>
<g transform="translate(442.60 691.40) rotate(0)">
<text transform="translate(0.00 3.20) scale(0.8820 1)" font-size="9.2" fill="#1a1a1a" text-anchor="middle">CRY2</text>
</g>
<ellipse cx="490.10" cy="673.60" rx="13.70" ry="11.70" fill="url(#gFIO)" stroke="#5f4f85" stroke-width="0.55" transform="rotate(0 490.10 673.60)"/>
<g transform="translate(490.10 673.60) rotate(0)">
<text transform="translate(0.00 3.20) scale(0.8705 1)" font-size="9.2" fill="#1a1a1a" text-anchor="middle">FIO1</text>
</g>
<ellipse cx="417.30" cy="696.80" rx="13.20" ry="11.70" fill="url(#gFIO)" stroke="#5f4f85" stroke-width="0.55" transform="rotate(-30 417.30 696.80)"/>
<g transform="translate(417.30 696.80) rotate(-30)">
<text transform="translate(0.00 3.20) scale(0.8705 1)" font-size="9.2" fill="#1a1a1a" text-anchor="middle">FIO1</text>
</g>
<ellipse cx="427.80" cy="675.60" rx="14.50" ry="11.80" fill="url(#gSPA)" stroke="#a8842e" stroke-width="0.55" transform="rotate(-25 427.80 675.60)"/>
<g transform="translate(427.80 675.60) rotate(-25)">
<text transform="translate(0.00 3.20) scale(0.8405 1)" font-size="9.2" fill="#1a1a1a" text-anchor="middle">SPA1</text>
</g>
<ellipse cx="471.50" cy="662.50" rx="14.50" ry="12.00" fill="url(#gSPA)" stroke="#a8842e" stroke-width="0.55" transform="rotate(-20 471.50 662.50)"/>
<g transform="translate(471.50 662.50) rotate(-20)">
<text transform="translate(0.00 3.20) scale(0.8405 1)" font-size="9.2" fill="#1a1a1a" text-anchor="middle">SPA1</text>
</g>
<ellipse cx="484.00" cy="697.80" rx="14.50" ry="12.00" fill="url(#gSPA)" stroke="#a8842e" stroke-width="0.55" transform="rotate(0 484.00 697.80)"/>
<g transform="translate(484.00 697.80) rotate(0)">
<text transform="translate(0.00 3.20) scale(0.8405 1)" font-size="9.2" fill="#1a1a1a" text-anchor="middle">SPA1</text>
</g>
<ellipse cx="438.50" cy="711.00" rx="14.50" ry="11.70" fill="url(#gSPA)" stroke="#a8842e" stroke-width="0.55" transform="rotate(-25 438.50 711.00)"/>
<g transform="translate(438.50 711.00) rotate(-25)">
<text transform="translate(0.00 3.20) scale(0.8405 1)" font-size="9.2" fill="#1a1a1a" text-anchor="middle">SPA1</text>
</g>
<ellipse cx="431.10" cy="651.40" rx="14.50" ry="12.10" fill="url(#gFIO)" stroke="#5f4f85" stroke-width="0.55" transform="rotate(-30 431.10 651.40)"/>
<g transform="translate(431.10 651.40) rotate(-30)">
<text transform="translate(0.00 3.20) scale(0.8705 1)" font-size="9.2" fill="#1a1a1a" text-anchor="middle">FIO1</text>
</g>
<ellipse cx="479.50" cy="718.00" rx="14.50" ry="12.50" fill="url(#gFIO)" stroke="#5f4f85" stroke-width="0.55" transform="rotate(-30 479.50 718.00)"/>
<g transform="translate(479.50 718.00) rotate(-30)">
<text transform="translate(0.00 3.20) scale(0.8705 1)" font-size="9.2" fill="#1a1a1a" text-anchor="middle">FIO1</text>
</g>
<path d="M456.7,649.3 C455,637 449,632 439.8,635.8" fill="none" stroke="url(#ra3)" stroke-width="1.5" marker-end="url(#mra3)"/>
<path d="M411.3,670.6 C403,674 401,681 404.0,687.5" fill="none" stroke="url(#ra4)" stroke-width="1.5" marker-end="url(#mra4)"/>
<path d="M503.2,699.8 C511,695 512,687 506.6,680.6" fill="none" stroke="url(#ra5)" stroke-width="1.5" marker-end="url(#mra5)"/>
<path d="M453.7,721.1 C454,730 460,733.5 467.6,732.6" fill="none" stroke="url(#ra6)" stroke-width="1.5" marker-end="url(#mra6)"/>
<g transform="translate(428.50 637.50) rotate(150)"><path d="M0,0 c1.15,-2.38 2.05,-2.38 3.20,0 c1.15,2.38 2.05,2.38 3.20,0 c1.15,-2.38 2.05,-2.38 3.20,0 c1.15,2.38 2.05,2.38 3.20,0 c1.15,-2.38 2.05,-2.38 3.20,0 c1.15,2.38 2.05,2.38 3.20,0" fill="none" stroke="#111" stroke-width="1.0" stroke-linecap="round"/><circle cx="19.80" cy="0" r="1.05" fill="#111"/></g>
<circle cx="429.80" cy="636.20" r="2.70" fill="url(#m6a)" stroke="#4f8a12" stroke-width="0.3"/>
<g transform="translate(504.00 667.50) rotate(-117)"><path d="M0,0 c1.15,-2.38 2.05,-2.38 3.20,0 c1.15,2.38 2.05,2.38 3.20,0 c1.15,-2.38 2.05,-2.38 3.20,0 c1.15,2.38 2.05,2.38 3.20,0 c1.15,-2.38 2.05,-2.38 3.20,0 c1.15,2.38 2.05,2.38 3.20,0" fill="none" stroke="#111" stroke-width="1.0" stroke-linecap="round"/><circle cx="19.80" cy="0" r="1.05" fill="#111"/></g>
<circle cx="504.80" cy="669.10" r="2.70" fill="url(#m6a)" stroke="#4f8a12" stroke-width="0.3"/>
<g transform="translate(401.80 695.50) rotate(62)"><path d="M0,0 c1.15,-2.38 2.05,-2.38 3.20,0 c1.15,2.38 2.05,2.38 3.20,0 c1.15,-2.38 2.05,-2.38 3.20,0 c1.15,2.38 2.05,2.38 3.20,0 c1.15,-2.38 2.05,-2.38 3.20,0 c1.15,2.38 2.05,2.38 3.20,0" fill="none" stroke="#111" stroke-width="1.0" stroke-linecap="round"/><circle cx="19.80" cy="0" r="1.05" fill="#111"/></g>
<circle cx="402.80" cy="694.40" r="2.70" fill="url(#m6a)" stroke="#4f8a12" stroke-width="0.3"/>
<g transform="translate(483.80 734.80) rotate(-42)"><path d="M0,0 c1.15,-2.38 2.05,-2.38 3.20,0 c1.15,2.38 2.05,2.38 3.20,0 c1.15,-2.38 2.05,-2.38 3.20,0 c1.15,2.38 2.05,2.38 3.20,0 c1.15,-2.38 2.05,-2.38 3.20,0 c1.15,2.38 2.05,2.38 3.20,0" fill="none" stroke="#111" stroke-width="1.0" stroke-linecap="round"/><circle cx="19.80" cy="0" r="1.05" fill="#111"/></g>
<circle cx="482.00" cy="733.20" r="2.70" fill="url(#m6a)" stroke="#4f8a12" stroke-width="0.3"/>
<text transform="translate(458.40 760.80) scale(1.0060 1)" font-size="9.5" fill="#222222" text-anchor="middle">Photobody</text>
<text transform="translate(549.40 599.00) scale(0.9179 1)" font-size="7.4" fill="#222222" text-anchor="middle">mRNA</text>
<circle cx="536.80" cy="605.40" r="1.15" fill="#111"/>
<path d="M536.80,605.40 c0.6,-0.5 1.0,-0.5 1.5,-0.45 c1.6,0 2.8,2.9 4.4,2.9 c1.6,0 2.8,-2.9 4.4,-2.9 c1.6,0 2.8,2.9 4.4,2.9 c1.6,0 2.8,-2.9 4.4,-2.9 c1.6,0 2.6,1.6 4.4,3.1" fill="none" stroke="#111" stroke-width="1.05" stroke-linecap="round" stroke-linejoin="round"/>
<circle cx="532.50" cy="620.30" r="1.15" fill="#111"/>
<path d="M532.50,620.30 c0.6,-0.5 1.0,-0.5 1.5,-0.45 c1.6,0 2.8,2.9 4.4,2.9 c1.6,0 2.8,-2.9 4.4,-2.9 c1.6,0 2.8,2.9 4.4,2.9 c1.6,0 2.8,-2.9 4.4,-2.9 c1.6,0 2.6,1.6 4.4,3.1" fill="none" stroke="#111" stroke-width="1.05" stroke-linecap="round" stroke-linejoin="round"/>
<circle cx="524.00" cy="634.90" r="1.15" fill="#111"/>
<path d="M524.00,634.90 c0.6,-0.5 1.0,-0.5 1.5,-0.45 c1.6,0 2.8,2.9 4.4,2.9 c1.6,0 2.8,-2.9 4.4,-2.9 c1.6,0 2.8,2.9 4.4,2.9 c1.6,0 2.8,-2.9 4.4,-2.9 c1.6,0 2.6,1.6 4.4,3.1" fill="none" stroke="#111" stroke-width="1.05" stroke-linecap="round" stroke-linejoin="round"/>
<circle cx="520.70" cy="656.00" r="1.15" fill="#111"/>
<path d="M520.70,656.00 c0.7,-0.6 1.3,-0.75 2.0,-0.75 c1.7,0 2.9,2.9 4.6,2.9 c1.7,0 2.9,-2.7 4.6,-2.7 c1.4,0 2.2,2.3 3.6,2.3 c2.26,0 3.84,-3.4 6.10,-3.4 c0.8,0.2 2.0,2.2 2.6,2.9 l1.2,0.3 M541.60,654.35 L542.00,650.30" fill="none" stroke="#111" stroke-width="1.05" stroke-linecap="round" stroke-linejoin="round"/>
<circle cx="542.00" cy="650.30" r="2.80" fill="url(#m6a)" stroke="#4f8a12" stroke-width="0.3"/>
<circle cx="563.30" cy="625.90" r="1.15" fill="#111"/>
<path d="M563.30,625.90 c0.7,-0.6 1.3,-0.75 2.0,-0.75 c1.7,0 2.9,2.9 4.6,2.9 c1.7,0 2.9,-2.7 4.6,-2.7 c1.4,0 2.2,2.3 3.6,2.3 c1.96,0 3.34,-3.4 5.30,-3.4 c0.8,0.2 2.0,2.2 2.6,2.9 l1.2,0.3 M583.40,624.25 L583.80,620.00" fill="none" stroke="#111" stroke-width="1.05" stroke-linecap="round" stroke-linejoin="round"/>
<circle cx="583.80" cy="620.00" r="2.80" fill="url(#m6a)" stroke="#4f8a12" stroke-width="0.3"/>
<circle cx="561.20" cy="647.70" r="1.15" fill="#111"/>
<path d="M561.20,647.70 c0.7,-0.6 1.3,-0.75 2.0,-0.75 c1.7,0 2.9,2.9 4.6,2.9 c1.7,0 2.9,-2.7 4.6,-2.7 c1.4,0 2.2,2.3 3.6,2.3 c2.00,0 3.40,-3.4 5.40,-3.4 c0.8,0.2 2.0,2.2 2.6,2.9 l1.2,0.3 M581.40,646.05 L581.80,642.60" fill="none" stroke="#111" stroke-width="1.05" stroke-linecap="round" stroke-linejoin="round"/>
<circle cx="581.80" cy="642.60" r="2.80" fill="url(#m6a)" stroke="#4f8a12" stroke-width="0.3"/>
<circle cx="572.00" cy="665.20" r="1.15" fill="#111"/>
<path d="M572.00,665.20 c0.7,-0.6 1.3,-0.75 2.0,-0.75 c1.7,0 2.9,2.9 4.6,2.9 c1.7,0 2.9,-2.7 4.6,-2.7 c1.4,0 2.2,2.3 3.6,2.3 c2.07,0 3.53,-3.4 5.60,-3.4 c0.8,0.2 2.0,2.2 2.6,2.9 l1.2,0.3 M592.40,663.55 L592.80,660.10" fill="none" stroke="#111" stroke-width="1.05" stroke-linecap="round" stroke-linejoin="round"/>
<circle cx="592.80" cy="660.10" r="2.80" fill="url(#m6a)" stroke="#4f8a12" stroke-width="0.3"/>
<circle cx="538.10" cy="673.90" r="1.15" fill="#111"/>
<path d="M538.10,673.90 c0.7,-0.6 1.3,-0.75 2.0,-0.75 c1.7,0 2.9,2.9 4.6,2.9 c1.7,0 2.9,-2.7 4.6,-2.7 c1.4,0 2.2,2.3 3.6,2.3 c2.26,0 3.84,-3.4 6.10,-3.4 c0.8,0.2 2.0,2.2 2.6,2.9 l1.2,0.3 M559.00,672.25 L559.40,668.80" fill="none" stroke="#111" stroke-width="1.05" stroke-linecap="round" stroke-linejoin="round"/>
<circle cx="559.40" cy="668.80" r="2.80" fill="url(#m6a)" stroke="#4f8a12" stroke-width="0.3"/>
<circle cx="553.00" cy="685.80" r="1.15" fill="#111"/>
<path d="M553.00,685.80 c0.7,-0.6 1.3,-0.75 2.0,-0.75 c1.7,0 2.9,2.9 4.6,2.9 c1.7,0 2.9,-2.7 4.6,-2.7 c1.4,0 2.2,2.3 3.6,2.3 c2.18,0 3.72,-3.4 5.90,-3.4 c0.8,0.2 2.0,2.2 2.6,2.9 l1.2,0.3 M573.70,684.15 L574.10,680.60" fill="none" stroke="#111" stroke-width="1.05" stroke-linecap="round" stroke-linejoin="round"/>
<circle cx="574.10" cy="680.60" r="2.80" fill="url(#m6a)" stroke="#4f8a12" stroke-width="0.3"/>
<circle cx="546.30" cy="704.80" r="1.15" fill="#111"/>
<path d="M546.30,704.80 c0.7,-0.6 1.3,-0.75 2.0,-0.75 c1.7,0 2.9,2.9 4.6,2.9 c1.7,0 2.9,-2.7 4.6,-2.7 c1.4,0 2.2,2.3 3.6,2.3 c2.29,0 3.91,-3.4 6.20,-3.4 c0.8,0.2 2.0,2.2 2.6,2.9 l1.2,0.3 M567.30,703.15 L567.70,699.10" fill="none" stroke="#111" stroke-width="1.05" stroke-linecap="round" stroke-linejoin="round"/>
<circle cx="567.70" cy="699.10" r="2.80" fill="url(#m6a)" stroke="#4f8a12" stroke-width="0.3"/>
<circle cx="529.60" cy="721.00" r="1.15" fill="#111"/>
<path d="M529.60,721.00 c0.7,-0.6 1.3,-0.75 2.0,-0.75 c1.7,0 2.9,2.9 4.6,2.9 c1.7,0 2.9,-2.7 4.6,-2.7 c1.4,0 2.2,2.3 3.6,2.3 c2.29,0 3.91,-3.4 6.20,-3.4 c0.8,0.2 2.0,2.2 2.6,2.9 l1.2,0.3 M550.60,719.35 L551.00,715.30" fill="none" stroke="#111" stroke-width="1.05" stroke-linecap="round" stroke-linejoin="round"/>
<circle cx="551.00" cy="715.30" r="2.80" fill="url(#m6a)" stroke="#4f8a12" stroke-width="0.3"/>
<path d="M525.30,692.20 L541.50,692.20" stroke="url(#ga2)" stroke-width="1.1" fill="none"/>
<path d="M540.50,694.60 L546.00,692.20 L540.50,689.80 L541.70,692.20 Z" fill="#3a3030"/>
<text transform="translate(545.10 569.90) scale(0.9935 1)" font-size="9.5" fill="#222222">Nucleus</text>
<text transform="translate(646.00 565.50) scale(1.0139 1)" font-size="9.5" fill="#222222">Cytoplasm</text>
<text transform="translate(615.10 605.70) scale(0.9873 1)" font-size="7.4" fill="#222222">Translation machinery</text>
<text transform="translate(654.00 624.90) scale(0.9695 1)" font-size="7.4" fill="#222222">Ribosome</text>
<line x1="637.30" y1="607.80" x2="637.30" y2="639.50" stroke="#777" stroke-width="0.5"/>
<path d="M621.40,667.10 C629.00,663.50 636.00,667.00 642.00,672.00 C650.00,679.00 664.00,677.00 672.30,670.50 C682.00,663.00 686.50,652.00 683.00,643.00 C679.00,633.00 668.00,629.50 658.00,631.50 C650.00,633.50 645.00,638.00 641.60,643.50" fill="none" stroke="#222" stroke-width="0.8" stroke-linecap="round"/>
<line x1="626.20" y1="645.00" x2="631.00" y2="647.50" stroke="#111" stroke-width="0.7"/>
<circle cx="626.20" cy="645.00" r="1.10" fill="#111"/>
<ellipse cx="639.10" cy="651.30" rx="10.60" ry="8.30" fill="url(#gRed)" stroke="#c04a3a" stroke-width="0.4"/>
<circle cx="635.80" cy="660.90" r="3.40" fill="url(#m6a)" stroke="#3f7a10" stroke-width="0.4"/>
<g transform="translate(651.20 676.70) rotate(20)"><ellipse cx="-2.0" cy="1.8" rx="4.6" ry="4.3" fill="url(#gRib)" stroke="#5c9bcc" stroke-width="0.45"/><ellipse cx="2.0" cy="-1.6" rx="5.3" ry="5.0" fill="url(#gRib)" stroke="#5c9bcc" stroke-width="0.45"/><ellipse cx="-1.7" cy="1.5" rx="3.6" ry="3.3" fill="url(#gRib)"/></g>
<g transform="translate(672.30 670.50) rotate(-10)"><ellipse cx="-2.0" cy="1.8" rx="4.6" ry="4.3" fill="url(#gRib)" stroke="#5c9bcc" stroke-width="0.45"/><ellipse cx="2.0" cy="-1.6" rx="5.3" ry="5.0" fill="url(#gRib)" stroke="#5c9bcc" stroke-width="0.45"/><ellipse cx="-1.7" cy="1.5" rx="3.6" ry="3.3" fill="url(#gRib)"/></g>
<g transform="translate(684.40 656.00) rotate(-40)"><ellipse cx="-2.0" cy="1.8" rx="4.6" ry="4.3" fill="url(#gRib)" stroke="#5c9bcc" stroke-width="0.45"/><ellipse cx="2.0" cy="-1.6" rx="5.3" ry="5.0" fill="url(#gRib)" stroke="#5c9bcc" stroke-width="0.45"/><ellipse cx="-1.7" cy="1.5" rx="3.6" ry="3.3" fill="url(#gRib)"/></g>
<g transform="translate(676.10 635.80) rotate(60)"><ellipse cx="-2.0" cy="1.8" rx="4.6" ry="4.3" fill="url(#gRib)" stroke="#5c9bcc" stroke-width="0.45"/><ellipse cx="2.0" cy="-1.6" rx="5.3" ry="5.0" fill="url(#gRib)" stroke="#5c9bcc" stroke-width="0.45"/><ellipse cx="-1.7" cy="1.5" rx="3.6" ry="3.3" fill="url(#gRib)"/></g>
<path d="M600.90,747.70 C608.50,744.10 615.50,747.60 621.50,752.60 C629.50,759.60 643.50,757.60 651.80,751.10 C661.50,743.60 666.00,732.60 662.50,723.60 C658.50,713.60 647.50,710.10 637.50,712.10 C629.50,714.10 624.50,718.60 621.10,724.10" fill="none" stroke="#222" stroke-width="0.8" stroke-linecap="round"/>
<line x1="605.70" y1="725.60" x2="610.50" y2="728.10" stroke="#111" stroke-width="0.7"/>
<circle cx="605.70" cy="725.60" r="1.10" fill="#111"/>
<ellipse cx="618.60" cy="731.90" rx="10.60" ry="8.30" fill="url(#gRed)" stroke="#c04a3a" stroke-width="0.4"/>
<circle cx="615.30" cy="741.50" r="3.40" fill="url(#m6a)" stroke="#3f7a10" stroke-width="0.4"/>
<g transform="translate(630.70 757.30) rotate(20)"><ellipse cx="-2.0" cy="1.8" rx="4.6" ry="4.3" fill="url(#gRib)" stroke="#5c9bcc" stroke-width="0.45"/><ellipse cx="2.0" cy="-1.6" rx="5.3" ry="5.0" fill="url(#gRib)" stroke="#5c9bcc" stroke-width="0.45"/><ellipse cx="-1.7" cy="1.5" rx="3.6" ry="3.3" fill="url(#gRib)"/></g>
<g transform="translate(651.80 751.10) rotate(-10)"><ellipse cx="-2.0" cy="1.8" rx="4.6" ry="4.3" fill="url(#gRib)" stroke="#5c9bcc" stroke-width="0.45"/><ellipse cx="2.0" cy="-1.6" rx="5.3" ry="5.0" fill="url(#gRib)" stroke="#5c9bcc" stroke-width="0.45"/><ellipse cx="-1.7" cy="1.5" rx="3.6" ry="3.3" fill="url(#gRib)"/></g>
<g transform="translate(663.90 736.60) rotate(-40)"><ellipse cx="-2.0" cy="1.8" rx="4.6" ry="4.3" fill="url(#gRib)" stroke="#5c9bcc" stroke-width="0.45"/><ellipse cx="2.0" cy="-1.6" rx="5.3" ry="5.0" fill="url(#gRib)" stroke="#5c9bcc" stroke-width="0.45"/><ellipse cx="-1.7" cy="1.5" rx="3.6" ry="3.3" fill="url(#gRib)"/></g>
<g transform="translate(655.60 716.40) rotate(60)"><ellipse cx="-2.0" cy="1.8" rx="4.6" ry="4.3" fill="url(#gRib)" stroke="#5c9bcc" stroke-width="0.45"/><ellipse cx="2.0" cy="-1.6" rx="5.3" ry="5.0" fill="url(#gRib)" stroke="#5c9bcc" stroke-width="0.45"/><ellipse cx="-1.7" cy="1.5" rx="3.6" ry="3.3" fill="url(#gRib)"/></g>
<path d="M529.30,796.20 C536.90,792.60 543.90,796.10 549.90,801.10 C557.90,808.10 571.90,806.10 580.20,799.60 C589.90,792.10 594.40,781.10 590.90,772.10 C586.90,762.10 575.90,758.60 565.90,760.60 C557.90,762.60 552.90,767.10 549.50,772.60" fill="none" stroke="#222" stroke-width="0.8" stroke-linecap="round"/>
<line x1="534.10" y1="774.10" x2="538.90" y2="776.60" stroke="#111" stroke-width="0.7"/>
<circle cx="534.10" cy="774.10" r="1.10" fill="#111"/>
<ellipse cx="547.00" cy="780.40" rx="10.60" ry="8.30" fill="url(#gRed)" stroke="#c04a3a" stroke-width="0.4"/>
<circle cx="543.70" cy="790.00" r="3.40" fill="url(#m6a)" stroke="#3f7a10" stroke-width="0.4"/>
<g transform="translate(559.10 805.80) rotate(20)"><ellipse cx="-2.0" cy="1.8" rx="4.6" ry="4.3" fill="url(#gRib)" stroke="#5c9bcc" stroke-width="0.45"/><ellipse cx="2.0" cy="-1.6" rx="5.3" ry="5.0" fill="url(#gRib)" stroke="#5c9bcc" stroke-width="0.45"/><ellipse cx="-1.7" cy="1.5" rx="3.6" ry="3.3" fill="url(#gRib)"/></g>
<g transform="translate(580.20 799.60) rotate(-10)"><ellipse cx="-2.0" cy="1.8" rx="4.6" ry="4.3" fill="url(#gRib)" stroke="#5c9bcc" stroke-width="0.45"/><ellipse cx="2.0" cy="-1.6" rx="5.3" ry="5.0" fill="url(#gRib)" stroke="#5c9bcc" stroke-width="0.45"/><ellipse cx="-1.7" cy="1.5" rx="3.6" ry="3.3" fill="url(#gRib)"/></g>
<g transform="translate(592.30 785.10) rotate(-40)"><ellipse cx="-2.0" cy="1.8" rx="4.6" ry="4.3" fill="url(#gRib)" stroke="#5c9bcc" stroke-width="0.45"/><ellipse cx="2.0" cy="-1.6" rx="5.3" ry="5.0" fill="url(#gRib)" stroke="#5c9bcc" stroke-width="0.45"/><ellipse cx="-1.7" cy="1.5" rx="3.6" ry="3.3" fill="url(#gRib)"/></g>
<g transform="translate(584.00 764.90) rotate(60)"><ellipse cx="-2.0" cy="1.8" rx="4.6" ry="4.3" fill="url(#gRib)" stroke="#5c9bcc" stroke-width="0.45"/><ellipse cx="2.0" cy="-1.6" rx="5.3" ry="5.0" fill="url(#gRib)" stroke="#5c9bcc" stroke-width="0.45"/><ellipse cx="-1.7" cy="1.5" rx="3.6" ry="3.3" fill="url(#gRib)"/></g>
<path d="M615.50,653.60 L621.65,654.72" stroke="url(#ga3)" stroke-width="1.1" fill="none"/>
<path d="M620.33,656.41 L624.80,655.30 L621.01,652.68 L621.85,654.76 Z" fill="#3a3030"/>
<path d="M578.70,727.40 L596.09,742.63" stroke="url(#ga4)" stroke-width="1.1" fill="none"/>
<path d="M594.02,743.47 L598.80,745.00 L596.66,740.46 L596.24,742.76 Z" fill="#3a3030"/>
<path d="M613.10,790.00 L613.10,830.70" stroke="url(#ga5)" stroke-width="1.1" fill="none"/>
<path d="M610.70,829.70 L613.10,835.20 L615.50,829.70 L613.10,830.90 Z" fill="#3a3030"/>
<path d="M586.50,854.10 L536.00,854.10" stroke="url(#ga6)" stroke-width="1.1" fill="none"/>
<path d="M537.00,851.70 L531.50,854.10 L537.00,856.50 L535.80,854.10 Z" fill="#3a3030"/>
<ellipse cx="595.90" cy="837.90" rx="9.50" ry="7.20" fill="url(#gGy)" stroke="#9a9a9a" stroke-width="0.4" transform="rotate(10 595.90 837.90)"/>
<ellipse cx="619.80" cy="842.60" rx="7.70" ry="6.40" fill="url(#gYl)" stroke="#d9a840" stroke-width="0.4"/>
<ellipse cx="599.00" cy="862.60" rx="9.40" ry="6.60" fill="url(#gGn)" stroke="#6ea880" stroke-width="0.4" transform="rotate(-35 599.00 862.60)"/>
<ellipse cx="619.80" cy="859.30" rx="8.70" ry="7.20" fill="url(#gPk)" stroke="#c088b4" stroke-width="0.4"/>
<text transform="translate(607.50 881.60) scale(0.9277 1)" font-size="9.5" fill="#222222" text-anchor="middle">CHRs</text>
<text transform="translate(419.50 819.10) scale(1.0116 1)" font-size="9.5" fill="#222222">Chlorophyll homeostasis</text>
<ellipse cx="475.30" cy="854.90" rx="48.80" ry="30.60" fill="url(#gChl)" stroke="#8fd060" stroke-width="0.6"/>
<ellipse cx="475.30" cy="854.90" rx="47.40" ry="29.20" fill="none" stroke="#b6e28c" stroke-width="0.5"/>
<rect x="455.80" y="859.60" width="49.40" height="1.75" fill="#5fb22f" stroke="#cdf2b4" stroke-width="0.55" rx="0.85"/>
<rect x="455.80" y="871.30" width="49.40" height="1.75" fill="#5fb22f" stroke="#cdf2b4" stroke-width="0.55" rx="0.85"/>
<rect x="465.00" y="844.60" width="24.80" height="1.75" fill="#5fb22f" stroke="#cdf2b4" stroke-width="0.55" rx="0.85"/>
<rect x="470.00" y="849.60" width="19.80" height="1.75" fill="#5fb22f" stroke="#cdf2b4" stroke-width="0.55" rx="0.85"/>
<rect x="439.00" y="841.20" width="26.00" height="1.75" fill="#5fb22f" stroke="#cdf2b4" stroke-width="0.55" rx="0.85"/>
<rect x="439.00" y="843.75" width="26.00" height="1.75" fill="#5fb22f" stroke="#cdf2b4" stroke-width="0.55" rx="0.85"/>
<rect x="439.00" y="846.30" width="26.00" height="1.75" fill="#5fb22f" stroke="#cdf2b4" stroke-width="0.55" rx="0.85"/>
<rect x="439.00" y="848.85" width="26.00" height="1.75" fill="#5fb22f" stroke="#cdf2b4" stroke-width="0.55" rx="0.85"/>
<rect x="439.00" y="851.40" width="26.00" height="1.75" fill="#5fb22f" stroke="#cdf2b4" stroke-width="0.55" rx="0.85"/>
<rect x="480.50" y="838.20" width="27.30" height="1.75" fill="#5fb22f" stroke="#cdf2b4" stroke-width="0.55" rx="0.85"/>
<rect x="480.50" y="840.75" width="27.30" height="1.75" fill="#5fb22f" stroke="#cdf2b4" stroke-width="0.55" rx="0.85"/>
<rect x="480.50" y="843.30" width="27.30" height="1.75" fill="#5fb22f" stroke="#cdf2b4" stroke-width="0.55" rx="0.85"/>
<rect x="480.50" y="845.85" width="27.30" height="1.75" fill="#5fb22f" stroke="#cdf2b4" stroke-width="0.55" rx="0.85"/>
<rect x="459.70" y="857.60" width="26.00" height="1.75" fill="#5fb22f" stroke="#cdf2b4" stroke-width="0.55" rx="0.85"/>
<rect x="459.70" y="860.20" width="26.00" height="1.75" fill="#5fb22f" stroke="#cdf2b4" stroke-width="0.55" rx="0.85"/>
<rect x="459.70" y="862.80" width="26.00" height="1.75" fill="#5fb22f" stroke="#cdf2b4" stroke-width="0.55" rx="0.85"/>
<rect x="459.70" y="865.40" width="26.00" height="1.75" fill="#5fb22f" stroke="#cdf2b4" stroke-width="0.55" rx="0.85"/>
<rect x="459.70" y="868.00" width="26.00" height="1.75" fill="#5fb22f" stroke="#cdf2b4" stroke-width="0.55" rx="0.85"/>
<rect x="459.70" y="870.60" width="26.00" height="1.75" fill="#5fb22f" stroke="#cdf2b4" stroke-width="0.55" rx="0.85"/>
</g>
<rect x="381.80" y="555.50" width="310.80" height="337.20" fill="none" stroke="#8f8f8f" stroke-width="0.7"/></svg></body></html>
